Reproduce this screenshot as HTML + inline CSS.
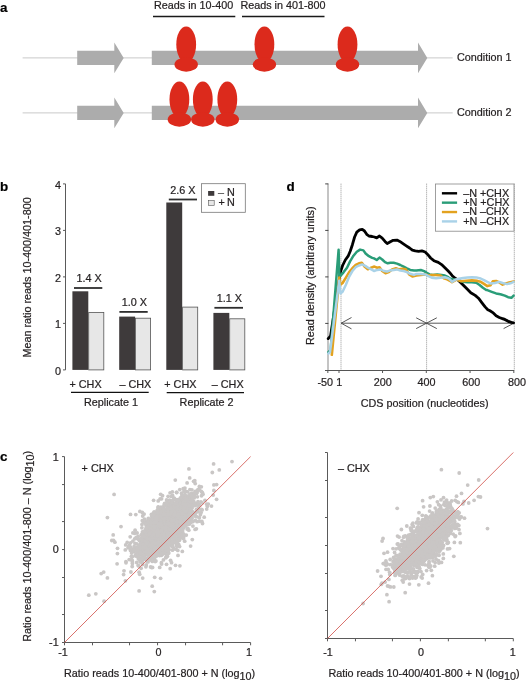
<!DOCTYPE html>
<html><head><meta charset="utf-8"><style>
html,body{margin:0;padding:0;background:#fff;}
svg{display:block;font-family:'Liberation Sans', Arial, sans-serif;}
text{stroke:#231f20;stroke-width:0.22px;paint-order:stroke;}
</style></head><body>
<svg width="526" height="685" viewBox="0 0 526 685">
<rect width="526" height="685" fill="#fff"/>
<text x="0" y="11.7" font-size="13.4" text-anchor="start" font-weight="bold" fill="#000" >a</text>
<line x1="22.6" y1="57.9" x2="78" y2="57.9" stroke="#c9c9c9" stroke-width="1" />
<line x1="123" y1="57.9" x2="152" y2="57.9" stroke="#c9c9c9" stroke-width="1" />
<line x1="426" y1="57.9" x2="452.7" y2="57.9" stroke="#c9c9c9" stroke-width="1" />
<path d="M77.2 50.8H114.3V42.5L123.7 57.9L114.3 73.3V65.0H77.2Z" fill="#acacac"/>
<path d="M151.8 50.8H418V42.5L427.3 57.9L418 73.3V65.0H151.8Z" fill="#acacac"/>
<text x="457" y="61.199999999999996" font-size="10.8" text-anchor="start" font-weight="normal" fill="#231f20" >Condition 1</text>
<ellipse cx="186.2" cy="44.6" rx="9.9" ry="18" fill="#dc2a1c"/>
<ellipse cx="186.2" cy="64.6" rx="11.7" ry="7.1" fill="#dc2a1c"/>
<ellipse cx="264.4" cy="44.6" rx="9.9" ry="18" fill="#dc2a1c"/>
<ellipse cx="264.4" cy="64.6" rx="11.7" ry="7.1" fill="#dc2a1c"/>
<ellipse cx="347.5" cy="44.6" rx="9.9" ry="18" fill="#dc2a1c"/>
<ellipse cx="347.5" cy="64.6" rx="11.7" ry="7.1" fill="#dc2a1c"/>
<line x1="22.6" y1="112.9" x2="78" y2="112.9" stroke="#c9c9c9" stroke-width="1" />
<line x1="123" y1="112.9" x2="152" y2="112.9" stroke="#c9c9c9" stroke-width="1" />
<line x1="426" y1="112.9" x2="452.7" y2="112.9" stroke="#c9c9c9" stroke-width="1" />
<path d="M77.2 105.80000000000001H114.3V97.5L123.7 112.9L114.3 128.3V120.0H77.2Z" fill="#acacac"/>
<path d="M151.8 105.80000000000001H418V97.5L427.3 112.9L418 128.3V120.0H151.8Z" fill="#acacac"/>
<text x="457" y="116.2" font-size="10.8" text-anchor="start" font-weight="normal" fill="#231f20" >Condition 2</text>
<ellipse cx="179.4" cy="99.6" rx="9.9" ry="18" fill="#dc2a1c"/>
<ellipse cx="179.4" cy="119.6" rx="11.7" ry="7.1" fill="#dc2a1c"/>
<ellipse cx="202.8" cy="99.6" rx="9.9" ry="18" fill="#dc2a1c"/>
<ellipse cx="202.8" cy="119.6" rx="11.7" ry="7.1" fill="#dc2a1c"/>
<ellipse cx="227.3" cy="99.6" rx="9.9" ry="18" fill="#dc2a1c"/>
<ellipse cx="227.3" cy="119.6" rx="11.7" ry="7.1" fill="#dc2a1c"/>
<text x="154" y="9.1" font-size="10.8" text-anchor="start" font-weight="normal" fill="#231f20" >Reads in 10-400</text>
<text x="240.4" y="9.1" font-size="10.8" text-anchor="start" font-weight="normal" fill="#231f20" >Reads in 401-800</text>
<line x1="153" y1="16.4" x2="235.3" y2="16.4" stroke="#1a1a1a" stroke-width="1.5" />
<line x1="242" y1="16.4" x2="324.5" y2="16.4" stroke="#1a1a1a" stroke-width="1.5" />
<text x="0" y="190.8" font-size="13.4" text-anchor="start" font-weight="bold" fill="#000" >b</text>
<line x1="65.5" y1="183.89999999999998" x2="65.5" y2="369.9" stroke="#5a5a5a" stroke-width="1" />
<line x1="63" y1="369.9" x2="65.5" y2="369.9" stroke="#5a5a5a" stroke-width="1" />
<text x="61" y="374.59999999999997" font-size="10.8" text-anchor="end" font-weight="normal" fill="#231f20" >0</text>
<line x1="63" y1="323.4" x2="65.5" y2="323.4" stroke="#5a5a5a" stroke-width="1" />
<text x="61" y="328.09999999999997" font-size="10.8" text-anchor="end" font-weight="normal" fill="#231f20" >1</text>
<line x1="63" y1="276.9" x2="65.5" y2="276.9" stroke="#5a5a5a" stroke-width="1" />
<text x="61" y="281.59999999999997" font-size="10.8" text-anchor="end" font-weight="normal" fill="#231f20" >2</text>
<line x1="63" y1="230.39999999999998" x2="65.5" y2="230.39999999999998" stroke="#5a5a5a" stroke-width="1" />
<text x="61" y="235.09999999999997" font-size="10.8" text-anchor="end" font-weight="normal" fill="#231f20" >3</text>
<line x1="63" y1="183.89999999999998" x2="65.5" y2="183.89999999999998" stroke="#5a5a5a" stroke-width="1" />
<text x="61" y="188.59999999999997" font-size="10.8" text-anchor="end" font-weight="normal" fill="#231f20" >4</text>
<rect x="72.4" y="291.3" width="15.9" height="78.6" fill="#3e3a3b"/>
<rect x="88.70000000000002" y="312.4" width="15.1" height="57.5" fill="#e7e7e7" stroke="#555" stroke-width="0.8"/>
<rect x="119.2" y="316.6" width="15.9" height="53.3" fill="#3e3a3b"/>
<rect x="135.5" y="318.2" width="15.1" height="51.7" fill="#e7e7e7" stroke="#555" stroke-width="0.8"/>
<rect x="166.3" y="202.5" width="15.9" height="167.4" fill="#3e3a3b"/>
<rect x="182.60000000000002" y="307.1" width="15.1" height="62.8" fill="#e7e7e7" stroke="#555" stroke-width="0.8"/>
<rect x="213.4" y="312.9" width="15.9" height="57.0" fill="#3e3a3b"/>
<rect x="229.70000000000002" y="318.8" width="15.1" height="51.1" fill="#e7e7e7" stroke="#555" stroke-width="0.8"/>
<line x1="74" y1="288.0" x2="102.3" y2="288.0" stroke="#2e2e2e" stroke-width="1.8" />
<text x="76.6" y="282" font-size="10.8" text-anchor="start" font-weight="normal" fill="#231f20" >1.4 X</text>
<line x1="119.4" y1="311.9" x2="147.7" y2="311.9" stroke="#2e2e2e" stroke-width="1.8" />
<text x="121.8" y="306" font-size="10.8" text-anchor="start" font-weight="normal" fill="#231f20" >1.0 X</text>
<line x1="168.8" y1="199.5" x2="197" y2="199.5" stroke="#2e2e2e" stroke-width="1.8" />
<text x="170.3" y="193.6" font-size="10.8" text-anchor="start" font-weight="normal" fill="#231f20" >2.6 X</text>
<line x1="214.4" y1="307.8" x2="243" y2="307.8" stroke="#2e2e2e" stroke-width="1.8" />
<text x="216.7" y="302" font-size="10.8" text-anchor="start" font-weight="normal" fill="#231f20" >1.1 X</text>
<text x="69.5" y="387.8" font-size="10.8" text-anchor="start" font-weight="normal" fill="#231f20" >+ CHX</text>
<text x="119.4" y="387.8" font-size="10.8" text-anchor="start" font-weight="normal" fill="#231f20" >– CHX</text>
<text x="164.3" y="387.8" font-size="10.8" text-anchor="start" font-weight="normal" fill="#231f20" >+ CHX</text>
<text x="211.8" y="387.8" font-size="10.8" text-anchor="start" font-weight="normal" fill="#231f20" >– CHX</text>
<line x1="71" y1="392.4" x2="148.7" y2="392.4" stroke="#111" stroke-width="1.4" />
<line x1="166.7" y1="392.6" x2="244" y2="392.6" stroke="#111" stroke-width="1.4" />
<text x="84" y="406.4" font-size="10.8" text-anchor="start" font-weight="normal" fill="#231f20" >Replicate 1</text>
<text x="179.6" y="406.4" font-size="10.8" text-anchor="start" font-weight="normal" fill="#231f20" >Replicate 2</text>
<rect x="201.5" y="183.7" width="43.8" height="28.6" fill="#fff" stroke="#777" stroke-width="0.8"/>
<rect x="208.1" y="191" width="6.2" height="4.8" fill="#3e3a3b"/>
<rect x="208.4" y="200.6" width="5.8" height="4.7" fill="#e7e7e7" stroke="#555" stroke-width="0.6"/>
<text x="218" y="195.6" font-size="10.8" text-anchor="start" font-weight="normal" fill="#555" style="stroke:#555">–</text>
<text x="226.9" y="195.6" font-size="10.8" text-anchor="start" font-weight="normal" fill="#231f20" >N</text>
<text x="218.4" y="206.2" font-size="10.8" text-anchor="start" font-weight="normal" fill="#231f20" >+</text>
<text x="226.9" y="206.2" font-size="10.8" text-anchor="start" font-weight="normal" fill="#231f20" >N</text>
<text transform="translate(31,357.6) rotate(-90)" font-size="10.8" fill="#231f20">Mean ratio reads 10-400/401-800</text>
<text x="286.6" y="190.7" font-size="13.4" text-anchor="start" font-weight="bold" fill="#000" >d</text>
<line x1="328" y1="183.7" x2="328" y2="370.5" stroke="#ababab" stroke-width="1.4" />
<line x1="325.2" y1="183.9" x2="328.4" y2="183.9" stroke="#444" stroke-width="1" />
<line x1="325.2" y1="230.4" x2="328.4" y2="230.4" stroke="#444" stroke-width="1" />
<line x1="325.2" y1="276.9" x2="328.4" y2="276.9" stroke="#444" stroke-width="1" />
<line x1="325.2" y1="323.4" x2="328.4" y2="323.4" stroke="#444" stroke-width="1" />
<line x1="325" y1="370.5" x2="514.3" y2="370.5" stroke="#555" stroke-width="1" />
<line x1="327.8412" y1="370.5" x2="327.8412" y2="373" stroke="#555" stroke-width="1" />
<line x1="339.0" y1="370.5" x2="339.0" y2="373" stroke="#555" stroke-width="1" />
<line x1="382.5412" y1="370.5" x2="382.5412" y2="373" stroke="#555" stroke-width="1" />
<line x1="426.3012" y1="370.5" x2="426.3012" y2="373" stroke="#555" stroke-width="1" />
<line x1="470.0612" y1="370.5" x2="470.0612" y2="373" stroke="#555" stroke-width="1" />
<line x1="513.8212" y1="370.5" x2="513.8212" y2="373" stroke="#555" stroke-width="1" />
<text x="325.3" y="386.2" font-size="10.8" text-anchor="middle" font-weight="normal" fill="#231f20" >-50</text>
<text x="339.2" y="386.2" font-size="10.8" text-anchor="middle" font-weight="normal" fill="#231f20" >1</text>
<text x="382.7" y="386.2" font-size="10.8" text-anchor="middle" font-weight="normal" fill="#231f20" >200</text>
<text x="426.6" y="386.2" font-size="10.8" text-anchor="middle" font-weight="normal" fill="#231f20" >400</text>
<text x="471.2" y="386.2" font-size="10.8" text-anchor="middle" font-weight="normal" fill="#231f20" >600</text>
<text x="517" y="386.2" font-size="10.8" text-anchor="middle" font-weight="normal" fill="#231f20" >800</text>
<line x1="341" y1="183.7" x2="341" y2="370" stroke="#8a8a8a" stroke-width="0.9" stroke-dasharray="1 1"/>
<line x1="426.6" y1="183.7" x2="426.6" y2="370" stroke="#8a8a8a" stroke-width="0.9" stroke-dasharray="1 1"/>
<line x1="514.3" y1="183.7" x2="514.3" y2="370" stroke="#8a8a8a" stroke-width="0.9" stroke-dasharray="1 1"/>
<text x="360.7" y="407.2" font-size="10.8" text-anchor="start" font-weight="normal" fill="#231f20" >CDS position (nucleotides)</text>
<text transform="translate(313.6,345) rotate(-90)" font-size="10.8" fill="#231f20">Read density (arbitrary units)</text>
<line x1="341" y1="323.2" x2="513.8" y2="323.2" stroke="#444" stroke-width="0.9" />
<polyline points="351.5,317.5 341.2,323.2 351.5,328.9" fill="none" stroke="#444" stroke-width="0.9"/>
<polyline points="416.2,317.8 426.5,323.2 416.2,328.6" fill="none" stroke="#444" stroke-width="0.9"/>
<polyline points="436.8,317.8 426.5,323.2 436.8,328.6" fill="none" stroke="#444" stroke-width="0.9"/>
<polyline points="503.6,317.8 513.8,323.2 503.6,328.6" fill="none" stroke="#444" stroke-width="0.9"/>
<polyline points="328.2,338.6 330.6,335.8 340.4,272.1 342.6,265.5 345.3,260.0 348.1,256.2 350.2,251.3 352.4,244.7 354.6,237.0 356.8,232.1 359.6,229.9 362.3,229.4 364.5,231.0 366.7,234.3 368.9,236.0 372.2,236.5 374.4,237.0 376.7,237.9 379.5,236.0 382.2,238.1 385.0,241.4 387.2,243.6 389.9,242.0 393.2,240.3 397.0,240.1 399.8,241.4 403.0,243.6 406.3,245.8 409.6,248.0 412.4,250.2 415.3,250.9 418.6,251.4 421.9,250.9 425.2,252.0 427.9,254.7 430.6,258.0 433.9,260.7 438.3,262.4 441.6,264.6 444.9,267.8 448.2,271.1 450.5,273.5 452.2,275.7 455.5,278.5 458.8,280.7 462.1,284.0 466.4,288.3 470.8,292.7 475.2,295.4 478.5,298.2 481.8,302.6 485.1,306.9 487.8,309.7 490.0,310.8 492.8,312.6 496.1,315.8 499.3,317.5 503.7,319.1 508.1,321.3 511.4,322.4 513.6,322.8" fill="none" stroke="#000" stroke-width="2.8" stroke-linejoin="round" stroke-linecap="round" />
<polyline points="328.4,352.2 330.6,350.0 338.6,249.8 339.4,276.5 340.9,275.4 343.7,272.1 347.0,267.7 350.2,261.1 353.5,255.7 356.8,251.8 360.1,249.6 363.4,250.4 365.6,253.5 368.9,256.2 372.2,257.9 374.0,258.4 376.7,260.0 379.5,257.6 382.2,259.5 385.0,262.2 387.7,263.3 390.4,262.8 393.7,262.8 397.0,263.6 400.3,265.0 403.6,266.6 406.9,268.3 410.2,269.9 414.0,270.4 416.4,270.6 420.8,270.0 424.1,271.1 426.8,272.8 429.5,274.4 432.8,275.0 437.2,274.4 441.6,275.0 444.9,275.5 448.2,277.2 450.0,278.5 454.4,279.6 458.8,280.1 463.2,281.8 467.5,282.3 471.9,282.3 476.3,282.8 479.6,285.0 482.9,287.8 486.2,290.0 487.3,290.1 491.7,291.8 496.1,293.4 500.4,294.2 504.8,295.6 508.1,297.2 511.4,297.8 513.6,295.6" fill="none" stroke="#2a9d78" stroke-width="2.5" stroke-linejoin="round" stroke-linecap="round" />
<polyline points="331.8,354.8 339.3,277.5 340.4,284.7 342.6,283.0 345.9,277.6 349.2,272.1 352.4,268.2 355.7,265.0 359.0,263.3 361.8,262.8 364.5,266.6 367.8,269.3 371.1,267.7 374.4,266.6 377.3,267.7 379.5,267.2 382.2,271.0 385.5,273.2 388.8,272.1 392.1,269.4 395.9,268.3 399.2,269.4 402.5,268.8 405.8,269.4 409.1,274.3 412.4,276.5 416.4,275.5 420.8,275.0 425.2,274.4 428.4,275.5 431.7,275.0 436.1,275.0 440.5,275.5 443.8,278.2 447.1,279.3 450.4,281.0 452.0,282.1 456.6,279.6 461.0,281.2 466.4,280.7 471.9,280.4 477.4,280.9 480.7,281.8 484.0,283.9 487.3,286.1 490.6,285.2 492.8,281.4 496.1,281.0 499.3,282.4 502.6,284.6 505.9,283.5 509.2,282.4 513.6,281.4" fill="none" stroke="#e3a21f" stroke-width="2.6" stroke-linejoin="round" stroke-linecap="round" />
<polyline points="328.5,353.5 330.0,352.0 339.2,280.8 340.4,293.4 342.6,291.8 345.9,284.7 349.2,276.5 352.4,271.0 355.7,267.2 359.0,265.5 362.3,264.4 365.6,266.1 368.9,268.2 372.2,269.9 374.0,271.0 377.3,269.9 380.6,269.4 383.9,271.0 387.2,271.5 390.4,270.4 393.7,269.9 397.0,269.4 400.3,270.5 403.6,271.0 406.9,272.1 410.2,273.8 414.0,274.9 416.4,273.9 420.8,273.9 425.2,274.4 428.4,276.1 431.7,277.7 436.1,278.2 440.5,277.7 444.9,277.2 448.2,278.2 450.0,279.6 452.2,281.8 455.5,279.6 458.8,278.7 463.2,277.9 467.5,277.4 471.9,277.2 476.3,277.4 480.7,278.5 484.0,280.1 487.3,281.8 490.6,283.5 495.0,283.0 499.3,281.9 502.6,283.0 507.0,284.1 511.4,283.0 513.6,281.9" fill="none" stroke="#a9d2e8" stroke-width="2.5" stroke-linejoin="round" stroke-linecap="round" />
<rect x="435.4" y="184" width="78.6" height="47.2" fill="#fff" stroke="#888" stroke-width="0.8"/>
<line x1="441.9" y1="193.3" x2="457.1" y2="193.3" stroke="#000" stroke-width="2.4" />
<text x="463.2" y="196.5" font-size="10.8" text-anchor="start" font-weight="normal" fill="#231f20" >–N +CHX</text>
<line x1="441.9" y1="202.67000000000002" x2="457.1" y2="202.67000000000002" stroke="#2a9d78" stroke-width="2.4" />
<text x="463.2" y="205.87" font-size="10.8" text-anchor="start" font-weight="normal" fill="#231f20" >+N +CHX</text>
<line x1="441.9" y1="212.04000000000002" x2="457.1" y2="212.04000000000002" stroke="#e3a21f" stroke-width="2.4" />
<text x="463.2" y="215.24" font-size="10.8" text-anchor="start" font-weight="normal" fill="#231f20" >–N –CHX</text>
<line x1="441.9" y1="221.41000000000003" x2="457.1" y2="221.41000000000003" stroke="#a9d2e8" stroke-width="2.4" />
<text x="463.2" y="224.61" font-size="10.8" text-anchor="start" font-weight="normal" fill="#231f20" >+N –CHX</text>
<text x="0" y="460.8" font-size="13.4" text-anchor="start" font-weight="bold" fill="#000" >c</text>
<line x1="64.5" y1="456.6" x2="64.5" y2="642.5" stroke="#5a5a5a" stroke-width="1" />
<line x1="62.0" y1="642.5" x2="250.6" y2="642.5" stroke="#5a5a5a" stroke-width="1" />
<line x1="62.0" y1="642.5" x2="64.5" y2="642.5" stroke="#5a5a5a" stroke-width="1" />
<line x1="64.5" y1="642.5" x2="64.5" y2="645.3" stroke="#5a5a5a" stroke-width="1" />
<line x1="62.0" y1="614.52205" x2="64.5" y2="614.52205" stroke="#5a5a5a" stroke-width="1" />
<line x1="92.50805" y1="642.5" x2="92.50805" y2="645.3" stroke="#5a5a5a" stroke-width="1" />
<line x1="62.0" y1="577.52795" x2="64.5" y2="577.52795" stroke="#5a5a5a" stroke-width="1" />
<line x1="129.54194999999999" y1="642.5" x2="129.54194999999999" y2="645.3" stroke="#5a5a5a" stroke-width="1" />
<line x1="62.0" y1="549.55" x2="64.5" y2="549.55" stroke="#5a5a5a" stroke-width="1" />
<line x1="157.55" y1="642.5" x2="157.55" y2="645.3" stroke="#5a5a5a" stroke-width="1" />
<line x1="62.0" y1="521.57205" x2="64.5" y2="521.57205" stroke="#5a5a5a" stroke-width="1" />
<line x1="185.55804999999998" y1="642.5" x2="185.55804999999998" y2="645.3" stroke="#5a5a5a" stroke-width="1" />
<line x1="62.0" y1="484.57795" x2="64.5" y2="484.57795" stroke="#5a5a5a" stroke-width="1" />
<line x1="222.59194999999997" y1="642.5" x2="222.59194999999997" y2="645.3" stroke="#5a5a5a" stroke-width="1" />
<line x1="62.0" y1="456.6" x2="64.5" y2="456.6" stroke="#5a5a5a" stroke-width="1" />
<line x1="250.6" y1="642.5" x2="250.6" y2="645.3" stroke="#5a5a5a" stroke-width="1" />
<text x="58.7" y="461.4" font-size="10.8" text-anchor="end" font-weight="normal" fill="#231f20" >1</text>
<text x="58.7" y="553.15" font-size="10.8" text-anchor="end" font-weight="normal" fill="#231f20" >0</text>
<text x="58.7" y="646.1" font-size="10.8" text-anchor="end" font-weight="normal" fill="#231f20" >-1</text>
<text x="63.0" y="656.4" font-size="10.8" text-anchor="middle" font-weight="normal" fill="#231f20" >-1</text>
<text x="158.45" y="656.4" font-size="10.8" text-anchor="middle" font-weight="normal" fill="#231f20" >0</text>
<text x="249.0" y="656.4" font-size="10.8" text-anchor="middle" font-weight="normal" fill="#231f20" >1</text>
<text x="81.6" y="472.4" font-size="10.8" text-anchor="start" font-weight="normal" fill="#231f20" >+ CHX</text>
<g fill="#c9c6c5"><circle cx="172.5" cy="533.1" r="1.9"/><circle cx="165.6" cy="519.4" r="1.9"/><circle cx="163.8" cy="532.2" r="1.9"/><circle cx="152.7" cy="537.6" r="1.9"/><circle cx="162.6" cy="535.6" r="1.9"/><circle cx="151.8" cy="539.4" r="1.9"/><circle cx="170.8" cy="530.2" r="1.9"/><circle cx="182.8" cy="508.9" r="1.9"/><circle cx="156.6" cy="531.1" r="1.9"/><circle cx="157.9" cy="535.6" r="1.9"/><circle cx="174.6" cy="522.8" r="1.9"/><circle cx="176.4" cy="527.8" r="1.9"/><circle cx="166.3" cy="525.0" r="1.9"/><circle cx="152.4" cy="538.3" r="1.9"/><circle cx="167.0" cy="528.9" r="1.9"/><circle cx="178.9" cy="521.5" r="1.9"/><circle cx="146.1" cy="543.0" r="1.9"/><circle cx="146.5" cy="521.1" r="1.9"/><circle cx="143.8" cy="554.9" r="1.9"/><circle cx="147.9" cy="543.3" r="1.9"/><circle cx="140.8" cy="550.7" r="1.9"/><circle cx="177.1" cy="543.3" r="1.9"/><circle cx="149.4" cy="544.1" r="1.9"/><circle cx="173.2" cy="527.0" r="1.9"/><circle cx="160.3" cy="518.2" r="1.9"/><circle cx="165.0" cy="531.1" r="1.9"/><circle cx="138.7" cy="565.8" r="1.9"/><circle cx="160.4" cy="535.7" r="1.9"/><circle cx="164.4" cy="527.1" r="1.9"/><circle cx="170.4" cy="528.5" r="1.9"/><circle cx="147.1" cy="548.6" r="1.9"/><circle cx="167.4" cy="540.6" r="1.9"/><circle cx="154.9" cy="541.8" r="1.9"/><circle cx="151.5" cy="534.5" r="1.9"/><circle cx="168.4" cy="502.8" r="1.9"/><circle cx="151.9" cy="534.8" r="1.9"/><circle cx="164.0" cy="526.3" r="1.9"/><circle cx="170.5" cy="509.2" r="1.9"/><circle cx="153.0" cy="530.2" r="1.9"/><circle cx="155.4" cy="520.5" r="1.9"/><circle cx="161.3" cy="520.3" r="1.9"/><circle cx="167.4" cy="527.0" r="1.9"/><circle cx="149.2" cy="542.8" r="1.9"/><circle cx="165.9" cy="525.3" r="1.9"/><circle cx="181.3" cy="507.0" r="1.9"/><circle cx="145.5" cy="547.5" r="1.9"/><circle cx="181.0" cy="519.3" r="1.9"/><circle cx="179.0" cy="536.1" r="1.9"/><circle cx="161.6" cy="539.4" r="1.9"/><circle cx="202.1" cy="509.9" r="1.9"/><circle cx="175.1" cy="516.4" r="1.9"/><circle cx="150.9" cy="543.7" r="1.9"/><circle cx="176.1" cy="534.6" r="1.9"/><circle cx="169.4" cy="515.9" r="1.9"/><circle cx="158.8" cy="525.5" r="1.9"/><circle cx="173.9" cy="517.4" r="1.9"/><circle cx="155.9" cy="519.8" r="1.9"/><circle cx="164.0" cy="508.7" r="1.9"/><circle cx="190.6" cy="513.5" r="1.9"/><circle cx="151.8" cy="531.4" r="1.9"/><circle cx="166.0" cy="522.2" r="1.9"/><circle cx="157.8" cy="531.5" r="1.9"/><circle cx="162.4" cy="520.8" r="1.9"/><circle cx="155.0" cy="547.2" r="1.9"/><circle cx="161.9" cy="538.2" r="1.9"/><circle cx="168.0" cy="534.1" r="1.9"/><circle cx="181.3" cy="518.7" r="1.9"/><circle cx="180.8" cy="512.0" r="1.9"/><circle cx="157.4" cy="552.7" r="1.9"/><circle cx="161.7" cy="543.4" r="1.9"/><circle cx="170.8" cy="515.5" r="1.9"/><circle cx="141.4" cy="555.0" r="1.9"/><circle cx="158.0" cy="531.7" r="1.9"/><circle cx="175.1" cy="538.0" r="1.9"/><circle cx="186.0" cy="513.9" r="1.9"/><circle cx="177.6" cy="520.5" r="1.9"/><circle cx="161.6" cy="531.6" r="1.9"/><circle cx="164.5" cy="535.2" r="1.9"/><circle cx="157.7" cy="526.0" r="1.9"/><circle cx="185.3" cy="506.6" r="1.9"/><circle cx="160.5" cy="533.0" r="1.9"/><circle cx="162.0" cy="531.4" r="1.9"/><circle cx="166.4" cy="518.9" r="1.9"/><circle cx="167.0" cy="531.3" r="1.9"/><circle cx="157.3" cy="524.3" r="1.9"/><circle cx="149.4" cy="540.3" r="1.9"/><circle cx="164.9" cy="526.6" r="1.9"/><circle cx="160.1" cy="533.1" r="1.9"/><circle cx="177.7" cy="508.6" r="1.9"/><circle cx="168.5" cy="513.2" r="1.9"/><circle cx="160.4" cy="522.8" r="1.9"/><circle cx="172.2" cy="516.2" r="1.9"/><circle cx="156.8" cy="527.5" r="1.9"/><circle cx="178.4" cy="512.2" r="1.9"/><circle cx="159.0" cy="521.1" r="1.9"/><circle cx="173.4" cy="519.4" r="1.9"/><circle cx="161.2" cy="555.4" r="1.9"/><circle cx="162.9" cy="515.8" r="1.9"/><circle cx="144.2" cy="549.9" r="1.9"/><circle cx="146.9" cy="561.1" r="1.9"/><circle cx="163.2" cy="532.4" r="1.9"/><circle cx="159.5" cy="544.0" r="1.9"/><circle cx="156.4" cy="514.5" r="1.9"/><circle cx="191.3" cy="493.9" r="1.9"/><circle cx="164.2" cy="546.5" r="1.9"/><circle cx="155.1" cy="533.1" r="1.9"/><circle cx="170.7" cy="526.4" r="1.9"/><circle cx="161.5" cy="510.9" r="1.9"/><circle cx="169.5" cy="534.9" r="1.9"/><circle cx="175.7" cy="541.3" r="1.9"/><circle cx="174.4" cy="517.2" r="1.9"/><circle cx="174.3" cy="521.8" r="1.9"/><circle cx="155.3" cy="543.5" r="1.9"/><circle cx="176.7" cy="539.0" r="1.9"/><circle cx="164.0" cy="524.6" r="1.9"/><circle cx="143.5" cy="533.4" r="1.9"/><circle cx="179.7" cy="533.2" r="1.9"/><circle cx="148.7" cy="533.2" r="1.9"/><circle cx="181.2" cy="516.7" r="1.9"/><circle cx="155.4" cy="512.8" r="1.9"/><circle cx="164.6" cy="523.8" r="1.9"/><circle cx="159.6" cy="536.3" r="1.9"/><circle cx="158.4" cy="523.3" r="1.9"/><circle cx="138.0" cy="552.1" r="1.9"/><circle cx="155.0" cy="545.8" r="1.9"/><circle cx="166.6" cy="518.7" r="1.9"/><circle cx="142.1" cy="559.1" r="1.9"/><circle cx="186.4" cy="524.5" r="1.9"/><circle cx="132.9" cy="541.1" r="1.9"/><circle cx="177.3" cy="518.6" r="1.9"/><circle cx="158.7" cy="541.9" r="1.9"/><circle cx="173.8" cy="514.8" r="1.9"/><circle cx="176.2" cy="533.2" r="1.9"/><circle cx="154.1" cy="555.2" r="1.9"/><circle cx="184.3" cy="512.6" r="1.9"/><circle cx="186.8" cy="510.0" r="1.9"/><circle cx="164.7" cy="527.8" r="1.9"/><circle cx="156.3" cy="525.4" r="1.9"/><circle cx="166.5" cy="531.8" r="1.9"/><circle cx="151.0" cy="538.2" r="1.9"/><circle cx="176.4" cy="509.1" r="1.9"/><circle cx="165.1" cy="540.1" r="1.9"/><circle cx="164.0" cy="526.8" r="1.9"/><circle cx="161.2" cy="542.9" r="1.9"/><circle cx="152.2" cy="530.5" r="1.9"/><circle cx="147.4" cy="542.5" r="1.9"/><circle cx="181.6" cy="509.9" r="1.9"/><circle cx="171.4" cy="536.1" r="1.9"/><circle cx="177.4" cy="513.4" r="1.9"/><circle cx="170.3" cy="530.9" r="1.9"/><circle cx="153.3" cy="533.3" r="1.9"/><circle cx="162.5" cy="532.3" r="1.9"/><circle cx="163.4" cy="539.0" r="1.9"/><circle cx="160.9" cy="522.5" r="1.9"/><circle cx="157.3" cy="528.8" r="1.9"/><circle cx="165.4" cy="534.3" r="1.9"/><circle cx="142.3" cy="540.4" r="1.9"/><circle cx="157.5" cy="539.8" r="1.9"/><circle cx="188.3" cy="506.0" r="1.9"/><circle cx="156.8" cy="535.9" r="1.9"/><circle cx="156.9" cy="545.5" r="1.9"/><circle cx="172.6" cy="524.8" r="1.9"/><circle cx="184.4" cy="508.7" r="1.9"/><circle cx="139.3" cy="539.6" r="1.9"/><circle cx="155.1" cy="522.6" r="1.9"/><circle cx="159.4" cy="537.2" r="1.9"/><circle cx="135.0" cy="543.4" r="1.9"/><circle cx="175.4" cy="517.3" r="1.9"/><circle cx="163.5" cy="525.7" r="1.9"/><circle cx="162.0" cy="521.8" r="1.9"/><circle cx="154.9" cy="536.1" r="1.9"/><circle cx="158.3" cy="508.9" r="1.9"/><circle cx="157.8" cy="533.4" r="1.9"/><circle cx="170.7" cy="535.2" r="1.9"/><circle cx="144.9" cy="536.0" r="1.9"/><circle cx="153.0" cy="546.0" r="1.9"/><circle cx="184.3" cy="510.4" r="1.9"/><circle cx="176.1" cy="549.2" r="1.9"/><circle cx="164.1" cy="518.2" r="1.9"/><circle cx="161.0" cy="523.6" r="1.9"/><circle cx="156.0" cy="529.3" r="1.9"/><circle cx="154.2" cy="529.3" r="1.9"/><circle cx="164.5" cy="510.1" r="1.9"/><circle cx="162.4" cy="531.6" r="1.9"/><circle cx="158.9" cy="524.6" r="1.9"/><circle cx="170.3" cy="530.7" r="1.9"/><circle cx="182.6" cy="512.8" r="1.9"/><circle cx="168.6" cy="512.6" r="1.9"/><circle cx="168.6" cy="520.0" r="1.9"/><circle cx="166.2" cy="541.7" r="1.9"/><circle cx="146.6" cy="544.4" r="1.9"/><circle cx="178.8" cy="515.1" r="1.9"/><circle cx="182.5" cy="518.0" r="1.9"/><circle cx="161.8" cy="527.0" r="1.9"/><circle cx="174.9" cy="521.8" r="1.9"/><circle cx="184.4" cy="524.3" r="1.9"/><circle cx="182.5" cy="521.4" r="1.9"/><circle cx="167.7" cy="505.7" r="1.9"/><circle cx="168.6" cy="541.1" r="1.9"/><circle cx="183.7" cy="505.3" r="1.9"/><circle cx="147.0" cy="541.3" r="1.9"/><circle cx="173.2" cy="512.2" r="1.9"/><circle cx="178.9" cy="526.6" r="1.9"/><circle cx="178.6" cy="516.8" r="1.9"/><circle cx="188.7" cy="500.7" r="1.9"/><circle cx="180.1" cy="502.8" r="1.9"/><circle cx="155.1" cy="546.2" r="1.9"/><circle cx="151.2" cy="556.3" r="1.9"/><circle cx="170.6" cy="511.0" r="1.9"/><circle cx="147.1" cy="535.7" r="1.9"/><circle cx="163.7" cy="525.6" r="1.9"/><circle cx="179.8" cy="518.7" r="1.9"/><circle cx="143.1" cy="547.8" r="1.9"/><circle cx="138.9" cy="555.7" r="1.9"/><circle cx="164.6" cy="519.5" r="1.9"/><circle cx="173.4" cy="532.9" r="1.9"/><circle cx="162.2" cy="530.0" r="1.9"/><circle cx="167.3" cy="527.5" r="1.9"/><circle cx="161.3" cy="544.6" r="1.9"/><circle cx="145.8" cy="547.0" r="1.9"/><circle cx="163.6" cy="529.4" r="1.9"/><circle cx="156.0" cy="542.7" r="1.9"/><circle cx="143.2" cy="547.9" r="1.9"/><circle cx="180.1" cy="527.4" r="1.9"/><circle cx="165.5" cy="528.4" r="1.9"/><circle cx="168.6" cy="519.5" r="1.9"/><circle cx="152.0" cy="539.4" r="1.9"/><circle cx="151.8" cy="530.9" r="1.9"/><circle cx="160.0" cy="547.0" r="1.9"/><circle cx="163.1" cy="547.0" r="1.9"/><circle cx="167.1" cy="523.4" r="1.9"/><circle cx="153.6" cy="535.7" r="1.9"/><circle cx="158.7" cy="511.7" r="1.9"/><circle cx="166.8" cy="519.5" r="1.9"/><circle cx="196.1" cy="503.8" r="1.9"/><circle cx="144.0" cy="542.4" r="1.9"/><circle cx="181.7" cy="519.3" r="1.9"/><circle cx="173.0" cy="535.9" r="1.9"/><circle cx="151.4" cy="514.4" r="1.9"/><circle cx="146.0" cy="545.6" r="1.9"/><circle cx="156.2" cy="530.0" r="1.9"/><circle cx="172.1" cy="514.2" r="1.9"/><circle cx="154.9" cy="519.3" r="1.9"/><circle cx="165.4" cy="524.7" r="1.9"/><circle cx="155.6" cy="525.2" r="1.9"/><circle cx="186.0" cy="516.5" r="1.9"/><circle cx="173.3" cy="534.5" r="1.9"/><circle cx="130.5" cy="550.4" r="1.9"/><circle cx="149.1" cy="529.4" r="1.9"/><circle cx="138.5" cy="551.8" r="1.9"/><circle cx="124.0" cy="570.8" r="1.9"/><circle cx="158.4" cy="533.7" r="1.9"/><circle cx="186.4" cy="512.3" r="1.9"/><circle cx="158.0" cy="518.9" r="1.9"/><circle cx="147.6" cy="540.1" r="1.9"/><circle cx="151.4" cy="537.7" r="1.9"/><circle cx="178.0" cy="509.8" r="1.9"/><circle cx="162.1" cy="519.8" r="1.9"/><circle cx="163.7" cy="524.1" r="1.9"/><circle cx="161.1" cy="524.2" r="1.9"/><circle cx="172.8" cy="532.6" r="1.9"/><circle cx="173.2" cy="513.6" r="1.9"/><circle cx="160.8" cy="508.7" r="1.9"/><circle cx="171.5" cy="526.9" r="1.9"/><circle cx="153.6" cy="542.2" r="1.9"/><circle cx="167.4" cy="515.7" r="1.9"/><circle cx="152.1" cy="531.9" r="1.9"/><circle cx="176.2" cy="509.1" r="1.9"/><circle cx="158.9" cy="552.8" r="1.9"/><circle cx="161.4" cy="526.6" r="1.9"/><circle cx="172.4" cy="533.3" r="1.9"/><circle cx="153.9" cy="549.6" r="1.9"/><circle cx="184.5" cy="500.8" r="1.9"/><circle cx="185.8" cy="508.6" r="1.9"/><circle cx="155.7" cy="529.6" r="1.9"/><circle cx="158.2" cy="500.9" r="1.9"/><circle cx="166.4" cy="518.1" r="1.9"/><circle cx="129.2" cy="559.6" r="1.9"/><circle cx="174.0" cy="528.3" r="1.9"/><circle cx="168.7" cy="531.3" r="1.9"/><circle cx="172.8" cy="531.4" r="1.9"/><circle cx="155.4" cy="544.7" r="1.9"/><circle cx="168.6" cy="536.4" r="1.9"/><circle cx="167.3" cy="533.0" r="1.9"/><circle cx="181.9" cy="511.9" r="1.9"/><circle cx="175.6" cy="527.6" r="1.9"/><circle cx="173.7" cy="534.4" r="1.9"/><circle cx="192.6" cy="513.0" r="1.9"/><circle cx="156.5" cy="532.6" r="1.9"/><circle cx="160.7" cy="532.3" r="1.9"/><circle cx="137.5" cy="547.1" r="1.9"/><circle cx="179.8" cy="500.4" r="1.9"/><circle cx="179.9" cy="515.7" r="1.9"/><circle cx="173.7" cy="511.3" r="1.9"/><circle cx="182.2" cy="525.2" r="1.9"/><circle cx="154.7" cy="514.3" r="1.9"/><circle cx="162.0" cy="518.3" r="1.9"/><circle cx="164.0" cy="531.8" r="1.9"/><circle cx="169.8" cy="535.9" r="1.9"/><circle cx="164.5" cy="524.6" r="1.9"/><circle cx="195.2" cy="515.8" r="1.9"/><circle cx="177.2" cy="523.5" r="1.9"/><circle cx="161.1" cy="524.3" r="1.9"/><circle cx="158.3" cy="534.8" r="1.9"/><circle cx="160.7" cy="538.4" r="1.9"/><circle cx="180.8" cy="500.4" r="1.9"/><circle cx="178.0" cy="525.5" r="1.9"/><circle cx="165.2" cy="524.9" r="1.9"/><circle cx="164.3" cy="534.5" r="1.9"/><circle cx="156.7" cy="546.7" r="1.9"/><circle cx="162.5" cy="525.8" r="1.9"/><circle cx="182.3" cy="520.2" r="1.9"/><circle cx="150.5" cy="523.1" r="1.9"/><circle cx="166.3" cy="533.3" r="1.9"/><circle cx="152.2" cy="520.3" r="1.9"/><circle cx="173.3" cy="531.2" r="1.9"/><circle cx="142.6" cy="546.1" r="1.9"/><circle cx="169.6" cy="536.5" r="1.9"/><circle cx="162.6" cy="545.7" r="1.9"/><circle cx="176.1" cy="514.3" r="1.9"/><circle cx="152.5" cy="534.5" r="1.9"/><circle cx="180.2" cy="525.7" r="1.9"/><circle cx="178.5" cy="500.3" r="1.9"/><circle cx="166.4" cy="535.5" r="1.9"/><circle cx="157.7" cy="534.9" r="1.9"/><circle cx="166.2" cy="522.7" r="1.9"/><circle cx="162.6" cy="524.3" r="1.9"/><circle cx="163.4" cy="549.9" r="1.9"/><circle cx="162.8" cy="512.8" r="1.9"/><circle cx="188.1" cy="496.7" r="1.9"/><circle cx="165.0" cy="532.9" r="1.9"/><circle cx="169.0" cy="535.2" r="1.9"/><circle cx="162.2" cy="550.1" r="1.9"/><circle cx="177.4" cy="529.7" r="1.9"/><circle cx="147.3" cy="541.7" r="1.9"/><circle cx="153.9" cy="544.2" r="1.9"/><circle cx="188.2" cy="515.3" r="1.9"/><circle cx="157.5" cy="542.3" r="1.9"/><circle cx="170.8" cy="504.5" r="1.9"/><circle cx="186.8" cy="507.9" r="1.9"/><circle cx="172.4" cy="526.6" r="1.9"/><circle cx="165.4" cy="512.9" r="1.9"/><circle cx="187.8" cy="498.1" r="1.9"/><circle cx="163.2" cy="529.7" r="1.9"/><circle cx="161.8" cy="538.4" r="1.9"/><circle cx="157.5" cy="553.6" r="1.9"/><circle cx="172.9" cy="532.5" r="1.9"/><circle cx="187.1" cy="509.3" r="1.9"/><circle cx="179.1" cy="515.1" r="1.9"/><circle cx="152.2" cy="538.4" r="1.9"/><circle cx="152.2" cy="536.2" r="1.9"/><circle cx="158.4" cy="533.1" r="1.9"/><circle cx="168.4" cy="522.1" r="1.9"/><circle cx="168.9" cy="535.1" r="1.9"/><circle cx="180.5" cy="535.1" r="1.9"/><circle cx="172.5" cy="525.8" r="1.9"/><circle cx="167.4" cy="536.1" r="1.9"/><circle cx="169.0" cy="531.1" r="1.9"/><circle cx="170.0" cy="525.8" r="1.9"/><circle cx="171.7" cy="534.6" r="1.9"/><circle cx="178.3" cy="525.9" r="1.9"/><circle cx="189.9" cy="502.0" r="1.9"/><circle cx="172.7" cy="518.5" r="1.9"/><circle cx="170.2" cy="529.8" r="1.9"/><circle cx="142.1" cy="547.9" r="1.9"/><circle cx="172.0" cy="523.0" r="1.9"/><circle cx="147.2" cy="559.1" r="1.9"/><circle cx="148.1" cy="546.4" r="1.9"/><circle cx="166.3" cy="506.1" r="1.9"/><circle cx="178.5" cy="520.9" r="1.9"/><circle cx="157.6" cy="523.5" r="1.9"/><circle cx="136.9" cy="543.9" r="1.9"/><circle cx="153.0" cy="524.9" r="1.9"/><circle cx="162.0" cy="540.7" r="1.9"/><circle cx="162.8" cy="508.4" r="1.9"/><circle cx="193.5" cy="495.6" r="1.9"/><circle cx="170.0" cy="525.5" r="1.9"/><circle cx="157.4" cy="539.1" r="1.9"/><circle cx="148.0" cy="540.3" r="1.9"/><circle cx="164.9" cy="527.8" r="1.9"/><circle cx="164.7" cy="530.6" r="1.9"/><circle cx="144.4" cy="536.7" r="1.9"/><circle cx="171.4" cy="529.3" r="1.9"/><circle cx="157.3" cy="548.3" r="1.9"/><circle cx="175.5" cy="508.0" r="1.9"/><circle cx="175.4" cy="509.1" r="1.9"/><circle cx="173.5" cy="506.8" r="1.9"/><circle cx="165.9" cy="539.1" r="1.9"/><circle cx="166.4" cy="514.8" r="1.9"/><circle cx="161.6" cy="526.6" r="1.9"/><circle cx="151.3" cy="523.8" r="1.9"/><circle cx="168.6" cy="538.2" r="1.9"/><circle cx="148.5" cy="544.0" r="1.9"/><circle cx="149.4" cy="548.5" r="1.9"/><circle cx="184.6" cy="524.3" r="1.9"/><circle cx="167.5" cy="533.4" r="1.9"/><circle cx="162.4" cy="518.6" r="1.9"/><circle cx="181.0" cy="515.8" r="1.9"/><circle cx="148.2" cy="554.7" r="1.9"/><circle cx="151.3" cy="533.7" r="1.9"/><circle cx="162.7" cy="519.9" r="1.9"/><circle cx="165.4" cy="516.9" r="1.9"/><circle cx="165.6" cy="536.4" r="1.9"/><circle cx="179.1" cy="513.4" r="1.9"/><circle cx="162.9" cy="519.2" r="1.9"/><circle cx="154.3" cy="547.2" r="1.9"/><circle cx="158.4" cy="543.8" r="1.9"/><circle cx="171.4" cy="512.0" r="1.9"/><circle cx="163.1" cy="513.0" r="1.9"/><circle cx="148.5" cy="559.1" r="1.9"/><circle cx="197.1" cy="521.7" r="1.9"/><circle cx="181.4" cy="526.3" r="1.9"/><circle cx="188.3" cy="513.8" r="1.9"/><circle cx="161.9" cy="533.2" r="1.9"/><circle cx="158.8" cy="528.2" r="1.9"/><circle cx="152.6" cy="543.5" r="1.9"/><circle cx="201.5" cy="495.8" r="1.9"/><circle cx="162.9" cy="528.9" r="1.9"/><circle cx="191.1" cy="510.2" r="1.9"/><circle cx="158.1" cy="536.4" r="1.9"/><circle cx="171.5" cy="528.2" r="1.9"/><circle cx="130.2" cy="536.8" r="1.9"/><circle cx="156.6" cy="528.4" r="1.9"/><circle cx="182.8" cy="517.9" r="1.9"/><circle cx="155.7" cy="549.4" r="1.9"/><circle cx="181.8" cy="514.7" r="1.9"/><circle cx="179.2" cy="530.8" r="1.9"/><circle cx="156.9" cy="545.3" r="1.9"/><circle cx="163.7" cy="537.8" r="1.9"/><circle cx="155.3" cy="529.1" r="1.9"/><circle cx="167.7" cy="530.1" r="1.9"/><circle cx="163.6" cy="538.6" r="1.9"/><circle cx="163.0" cy="545.3" r="1.9"/><circle cx="168.6" cy="537.3" r="1.9"/><circle cx="153.4" cy="541.7" r="1.9"/><circle cx="151.0" cy="546.1" r="1.9"/><circle cx="159.1" cy="522.2" r="1.9"/><circle cx="180.4" cy="518.2" r="1.9"/><circle cx="140.9" cy="543.0" r="1.9"/><circle cx="164.6" cy="525.9" r="1.9"/><circle cx="157.8" cy="536.2" r="1.9"/><circle cx="164.8" cy="550.7" r="1.9"/><circle cx="183.7" cy="522.0" r="1.9"/><circle cx="155.4" cy="530.7" r="1.9"/><circle cx="177.0" cy="499.6" r="1.9"/><circle cx="155.0" cy="536.9" r="1.9"/><circle cx="166.6" cy="518.1" r="1.9"/><circle cx="165.3" cy="532.4" r="1.9"/><circle cx="158.5" cy="539.5" r="1.9"/><circle cx="176.9" cy="522.5" r="1.9"/><circle cx="158.6" cy="524.5" r="1.9"/><circle cx="171.6" cy="517.2" r="1.9"/><circle cx="166.6" cy="529.1" r="1.9"/><circle cx="154.1" cy="543.8" r="1.9"/><circle cx="161.6" cy="525.9" r="1.9"/><circle cx="164.8" cy="524.9" r="1.9"/><circle cx="182.5" cy="518.2" r="1.9"/><circle cx="145.1" cy="531.1" r="1.9"/><circle cx="164.0" cy="526.5" r="1.9"/><circle cx="144.3" cy="550.9" r="1.9"/><circle cx="165.9" cy="510.9" r="1.9"/><circle cx="146.7" cy="537.0" r="1.9"/><circle cx="143.8" cy="552.5" r="1.9"/><circle cx="162.2" cy="525.4" r="1.9"/><circle cx="185.7" cy="517.4" r="1.9"/><circle cx="150.4" cy="551.4" r="1.9"/><circle cx="164.8" cy="553.5" r="1.9"/><circle cx="149.9" cy="531.4" r="1.9"/><circle cx="162.2" cy="552.3" r="1.9"/><circle cx="166.9" cy="518.6" r="1.9"/><circle cx="160.4" cy="542.5" r="1.9"/><circle cx="162.3" cy="542.1" r="1.9"/><circle cx="174.3" cy="520.2" r="1.9"/><circle cx="155.0" cy="536.3" r="1.9"/><circle cx="168.0" cy="518.2" r="1.9"/><circle cx="144.0" cy="531.7" r="1.9"/><circle cx="148.8" cy="542.1" r="1.9"/><circle cx="138.1" cy="548.1" r="1.9"/><circle cx="192.5" cy="504.6" r="1.9"/><circle cx="158.0" cy="528.1" r="1.9"/><circle cx="168.1" cy="523.1" r="1.9"/><circle cx="168.1" cy="530.0" r="1.9"/><circle cx="168.5" cy="525.5" r="1.9"/><circle cx="166.9" cy="526.9" r="1.9"/><circle cx="188.8" cy="500.0" r="1.9"/><circle cx="150.7" cy="539.5" r="1.9"/><circle cx="149.2" cy="551.2" r="1.9"/><circle cx="157.3" cy="544.9" r="1.9"/><circle cx="145.1" cy="541.9" r="1.9"/><circle cx="184.6" cy="525.5" r="1.9"/><circle cx="179.6" cy="519.0" r="1.9"/><circle cx="145.3" cy="532.7" r="1.9"/><circle cx="163.4" cy="559.9" r="1.9"/><circle cx="165.3" cy="535.6" r="1.9"/><circle cx="179.6" cy="504.7" r="1.9"/><circle cx="139.7" cy="574.3" r="1.9"/><circle cx="158.2" cy="507.0" r="1.9"/><circle cx="166.7" cy="555.0" r="1.9"/><circle cx="171.0" cy="505.7" r="1.9"/><circle cx="143.9" cy="534.3" r="1.9"/><circle cx="157.3" cy="526.6" r="1.9"/><circle cx="148.3" cy="549.1" r="1.9"/><circle cx="151.7" cy="538.9" r="1.9"/><circle cx="188.2" cy="512.7" r="1.9"/><circle cx="171.7" cy="511.9" r="1.9"/><circle cx="167.1" cy="538.4" r="1.9"/><circle cx="156.5" cy="540.6" r="1.9"/><circle cx="136.7" cy="548.3" r="1.9"/><circle cx="167.1" cy="538.2" r="1.9"/><circle cx="167.5" cy="529.5" r="1.9"/><circle cx="164.0" cy="527.6" r="1.9"/><circle cx="172.1" cy="535.2" r="1.9"/><circle cx="145.5" cy="536.8" r="1.9"/><circle cx="163.2" cy="526.4" r="1.9"/><circle cx="173.8" cy="535.4" r="1.9"/><circle cx="182.3" cy="509.7" r="1.9"/><circle cx="193.6" cy="505.4" r="1.9"/><circle cx="167.8" cy="532.4" r="1.9"/><circle cx="155.9" cy="537.4" r="1.9"/><circle cx="169.0" cy="531.7" r="1.9"/><circle cx="153.0" cy="530.8" r="1.9"/><circle cx="160.5" cy="541.0" r="1.9"/><circle cx="159.8" cy="523.1" r="1.9"/><circle cx="153.1" cy="541.8" r="1.9"/><circle cx="168.8" cy="514.6" r="1.9"/><circle cx="167.6" cy="531.4" r="1.9"/><circle cx="171.8" cy="526.3" r="1.9"/><circle cx="170.0" cy="535.5" r="1.9"/><circle cx="153.6" cy="534.4" r="1.9"/><circle cx="148.9" cy="535.6" r="1.9"/><circle cx="151.3" cy="519.9" r="1.9"/><circle cx="151.9" cy="528.3" r="1.9"/><circle cx="167.5" cy="522.8" r="1.9"/><circle cx="167.0" cy="528.4" r="1.9"/><circle cx="146.7" cy="544.0" r="1.9"/><circle cx="166.9" cy="526.5" r="1.9"/><circle cx="141.1" cy="538.4" r="1.9"/><circle cx="153.0" cy="531.0" r="1.9"/><circle cx="166.8" cy="535.5" r="1.9"/><circle cx="143.7" cy="559.2" r="1.9"/><circle cx="159.5" cy="519.1" r="1.9"/><circle cx="166.1" cy="523.6" r="1.9"/><circle cx="165.2" cy="530.6" r="1.9"/><circle cx="154.1" cy="527.1" r="1.9"/><circle cx="163.4" cy="534.3" r="1.9"/><circle cx="155.2" cy="542.1" r="1.9"/><circle cx="165.1" cy="533.3" r="1.9"/><circle cx="169.8" cy="544.7" r="1.9"/><circle cx="162.3" cy="521.7" r="1.9"/><circle cx="157.5" cy="549.9" r="1.9"/><circle cx="172.0" cy="526.8" r="1.9"/><circle cx="171.8" cy="529.0" r="1.9"/><circle cx="160.1" cy="525.6" r="1.9"/><circle cx="160.8" cy="533.6" r="1.9"/><circle cx="172.8" cy="519.6" r="1.9"/><circle cx="154.3" cy="558.5" r="1.9"/><circle cx="172.2" cy="521.3" r="1.9"/><circle cx="177.1" cy="531.3" r="1.9"/><circle cx="167.8" cy="521.8" r="1.9"/><circle cx="168.7" cy="520.1" r="1.9"/><circle cx="157.8" cy="536.3" r="1.9"/><circle cx="151.4" cy="520.6" r="1.9"/><circle cx="171.0" cy="515.8" r="1.9"/><circle cx="168.0" cy="518.3" r="1.9"/><circle cx="167.7" cy="523.7" r="1.9"/><circle cx="148.0" cy="549.0" r="1.9"/><circle cx="167.3" cy="515.0" r="1.9"/><circle cx="174.5" cy="505.6" r="1.9"/><circle cx="185.7" cy="519.9" r="1.9"/><circle cx="163.0" cy="518.8" r="1.9"/><circle cx="143.6" cy="546.1" r="1.9"/><circle cx="172.4" cy="509.5" r="1.9"/><circle cx="161.5" cy="526.9" r="1.9"/><circle cx="141.1" cy="568.3" r="1.9"/><circle cx="177.1" cy="527.9" r="1.9"/><circle cx="137.2" cy="538.6" r="1.9"/><circle cx="148.3" cy="543.8" r="1.9"/><circle cx="165.8" cy="543.1" r="1.9"/><circle cx="179.9" cy="508.0" r="1.9"/><circle cx="163.3" cy="534.2" r="1.9"/><circle cx="179.5" cy="532.7" r="1.9"/><circle cx="200.4" cy="514.7" r="1.9"/><circle cx="194.7" cy="513.3" r="1.9"/><circle cx="163.1" cy="527.3" r="1.9"/><circle cx="163.2" cy="530.8" r="1.9"/><circle cx="151.5" cy="545.8" r="1.9"/><circle cx="155.7" cy="535.4" r="1.9"/><circle cx="167.9" cy="518.4" r="1.9"/><circle cx="182.5" cy="532.3" r="1.9"/><circle cx="169.0" cy="527.2" r="1.9"/><circle cx="182.9" cy="517.7" r="1.9"/><circle cx="163.0" cy="544.0" r="1.9"/><circle cx="168.2" cy="530.8" r="1.9"/><circle cx="175.8" cy="517.8" r="1.9"/><circle cx="174.7" cy="520.5" r="1.9"/><circle cx="187.3" cy="519.8" r="1.9"/><circle cx="173.6" cy="524.2" r="1.9"/><circle cx="150.9" cy="521.4" r="1.9"/><circle cx="176.3" cy="527.5" r="1.9"/><circle cx="162.7" cy="549.5" r="1.9"/><circle cx="143.9" cy="548.4" r="1.9"/><circle cx="169.9" cy="516.3" r="1.9"/><circle cx="162.7" cy="525.7" r="1.9"/><circle cx="176.0" cy="528.6" r="1.9"/><circle cx="139.2" cy="545.6" r="1.9"/><circle cx="165.7" cy="536.2" r="1.9"/><circle cx="164.7" cy="541.2" r="1.9"/><circle cx="158.5" cy="542.2" r="1.9"/><circle cx="138.3" cy="558.8" r="1.9"/><circle cx="157.8" cy="528.3" r="1.9"/><circle cx="173.7" cy="511.8" r="1.9"/><circle cx="170.8" cy="522.1" r="1.9"/><circle cx="153.3" cy="530.8" r="1.9"/><circle cx="165.3" cy="527.0" r="1.9"/><circle cx="170.5" cy="512.4" r="1.9"/><circle cx="139.1" cy="572.2" r="1.9"/><circle cx="173.0" cy="536.8" r="1.9"/><circle cx="168.5" cy="515.9" r="1.9"/><circle cx="182.1" cy="524.8" r="1.9"/><circle cx="188.9" cy="505.4" r="1.9"/><circle cx="180.7" cy="512.1" r="1.9"/><circle cx="172.5" cy="525.4" r="1.9"/><circle cx="172.2" cy="525.4" r="1.9"/><circle cx="168.1" cy="509.5" r="1.9"/><circle cx="173.1" cy="547.3" r="1.9"/><circle cx="160.6" cy="523.4" r="1.9"/><circle cx="164.6" cy="503.3" r="1.9"/><circle cx="190.3" cy="500.2" r="1.9"/><circle cx="164.0" cy="529.5" r="1.9"/><circle cx="161.3" cy="524.3" r="1.9"/><circle cx="158.3" cy="515.4" r="1.9"/><circle cx="189.3" cy="514.7" r="1.9"/><circle cx="165.1" cy="527.2" r="1.9"/><circle cx="185.3" cy="508.0" r="1.9"/><circle cx="150.7" cy="537.7" r="1.9"/><circle cx="162.7" cy="529.0" r="1.9"/><circle cx="159.8" cy="526.7" r="1.9"/><circle cx="178.1" cy="518.5" r="1.9"/><circle cx="178.7" cy="512.6" r="1.9"/><circle cx="150.7" cy="551.4" r="1.9"/><circle cx="158.1" cy="543.2" r="1.9"/><circle cx="170.9" cy="523.3" r="1.9"/><circle cx="158.5" cy="537.0" r="1.9"/><circle cx="153.3" cy="554.0" r="1.9"/><circle cx="170.3" cy="505.1" r="1.9"/><circle cx="172.9" cy="521.1" r="1.9"/><circle cx="179.7" cy="527.4" r="1.9"/><circle cx="153.9" cy="528.3" r="1.9"/><circle cx="182.9" cy="516.8" r="1.9"/><circle cx="160.1" cy="528.0" r="1.9"/><circle cx="179.7" cy="512.2" r="1.9"/><circle cx="153.1" cy="538.5" r="1.9"/><circle cx="154.3" cy="538.1" r="1.9"/><circle cx="171.7" cy="527.3" r="1.9"/><circle cx="156.9" cy="536.7" r="1.9"/><circle cx="163.2" cy="507.8" r="1.9"/><circle cx="181.5" cy="534.9" r="1.9"/><circle cx="154.0" cy="539.6" r="1.9"/><circle cx="164.4" cy="524.1" r="1.9"/><circle cx="167.3" cy="537.3" r="1.9"/><circle cx="184.9" cy="521.5" r="1.9"/><circle cx="146.1" cy="525.1" r="1.9"/><circle cx="162.5" cy="535.1" r="1.9"/><circle cx="169.6" cy="500.2" r="1.9"/><circle cx="191.0" cy="493.8" r="1.9"/><circle cx="190.5" cy="499.4" r="1.9"/><circle cx="164.1" cy="524.0" r="1.9"/><circle cx="165.2" cy="521.1" r="1.9"/><circle cx="178.6" cy="500.2" r="1.9"/><circle cx="162.0" cy="526.8" r="1.9"/><circle cx="152.9" cy="539.9" r="1.9"/><circle cx="166.4" cy="524.8" r="1.9"/><circle cx="164.1" cy="514.3" r="1.9"/><circle cx="151.0" cy="534.6" r="1.9"/><circle cx="150.8" cy="554.9" r="1.9"/><circle cx="151.4" cy="550.2" r="1.9"/><circle cx="172.4" cy="516.4" r="1.9"/><circle cx="159.9" cy="540.8" r="1.9"/><circle cx="166.2" cy="531.1" r="1.9"/><circle cx="173.9" cy="529.1" r="1.9"/><circle cx="175.1" cy="520.0" r="1.9"/><circle cx="159.4" cy="529.7" r="1.9"/><circle cx="166.7" cy="515.4" r="1.9"/><circle cx="154.7" cy="539.4" r="1.9"/><circle cx="150.0" cy="521.8" r="1.9"/><circle cx="153.5" cy="541.7" r="1.9"/><circle cx="162.5" cy="495.7" r="1.9"/><circle cx="160.1" cy="522.6" r="1.9"/><circle cx="153.9" cy="534.9" r="1.9"/><circle cx="164.3" cy="534.6" r="1.9"/><circle cx="178.7" cy="544.4" r="1.9"/><circle cx="175.5" cy="518.4" r="1.9"/><circle cx="145.0" cy="548.3" r="1.9"/><circle cx="142.4" cy="531.9" r="1.9"/><circle cx="168.8" cy="539.3" r="1.9"/><circle cx="187.1" cy="482.9" r="1.9"/><circle cx="179.3" cy="515.4" r="1.9"/><circle cx="160.5" cy="525.2" r="1.9"/><circle cx="188.8" cy="530.2" r="1.9"/><circle cx="190.9" cy="498.2" r="1.9"/><circle cx="164.9" cy="532.2" r="1.9"/><circle cx="157.6" cy="528.9" r="1.9"/><circle cx="180.6" cy="510.1" r="1.9"/><circle cx="178.4" cy="526.2" r="1.9"/><circle cx="169.1" cy="513.3" r="1.9"/><circle cx="155.7" cy="530.8" r="1.9"/><circle cx="186.7" cy="497.8" r="1.9"/><circle cx="181.8" cy="498.7" r="1.9"/><circle cx="166.9" cy="514.0" r="1.9"/><circle cx="174.6" cy="517.9" r="1.9"/><circle cx="148.0" cy="561.9" r="1.9"/><circle cx="181.5" cy="525.4" r="1.9"/><circle cx="156.1" cy="523.2" r="1.9"/><circle cx="167.4" cy="517.7" r="1.9"/><circle cx="173.9" cy="517.3" r="1.9"/><circle cx="164.0" cy="534.1" r="1.9"/><circle cx="144.6" cy="550.3" r="1.9"/><circle cx="170.4" cy="522.1" r="1.9"/><circle cx="158.5" cy="539.1" r="1.9"/><circle cx="165.6" cy="535.3" r="1.9"/><circle cx="146.4" cy="524.7" r="1.9"/><circle cx="160.4" cy="530.8" r="1.9"/><circle cx="140.3" cy="562.0" r="1.9"/><circle cx="188.3" cy="517.0" r="1.9"/><circle cx="173.1" cy="527.4" r="1.9"/><circle cx="175.9" cy="508.4" r="1.9"/><circle cx="186.5" cy="496.2" r="1.9"/><circle cx="167.4" cy="528.0" r="1.9"/><circle cx="143.1" cy="551.8" r="1.9"/><circle cx="156.4" cy="541.1" r="1.9"/><circle cx="156.9" cy="549.4" r="1.9"/><circle cx="152.5" cy="527.6" r="1.9"/><circle cx="164.9" cy="524.3" r="1.9"/><circle cx="127.2" cy="542.4" r="1.9"/><circle cx="174.4" cy="526.3" r="1.9"/><circle cx="147.8" cy="548.7" r="1.9"/><circle cx="164.8" cy="518.7" r="1.9"/><circle cx="165.9" cy="530.0" r="1.9"/><circle cx="169.6" cy="538.5" r="1.9"/><circle cx="170.2" cy="533.0" r="1.9"/><circle cx="158.6" cy="534.2" r="1.9"/><circle cx="156.4" cy="533.9" r="1.9"/><circle cx="145.4" cy="550.9" r="1.9"/><circle cx="160.0" cy="522.6" r="1.9"/><circle cx="183.6" cy="496.9" r="1.9"/><circle cx="188.9" cy="498.4" r="1.9"/><circle cx="182.3" cy="508.9" r="1.9"/><circle cx="176.2" cy="518.8" r="1.9"/><circle cx="154.4" cy="533.8" r="1.9"/><circle cx="178.9" cy="502.8" r="1.9"/><circle cx="164.9" cy="527.7" r="1.9"/><circle cx="162.6" cy="525.9" r="1.9"/><circle cx="164.1" cy="532.9" r="1.9"/><circle cx="174.9" cy="533.0" r="1.9"/><circle cx="166.0" cy="538.2" r="1.9"/><circle cx="160.7" cy="524.6" r="1.9"/><circle cx="149.9" cy="539.9" r="1.9"/><circle cx="152.5" cy="524.4" r="1.9"/><circle cx="194.2" cy="495.6" r="1.9"/><circle cx="160.3" cy="523.9" r="1.9"/><circle cx="155.6" cy="523.9" r="1.9"/><circle cx="167.1" cy="514.9" r="1.9"/><circle cx="178.1" cy="520.5" r="1.9"/><circle cx="153.0" cy="543.5" r="1.9"/><circle cx="162.6" cy="529.4" r="1.9"/><circle cx="182.9" cy="519.5" r="1.9"/><circle cx="166.7" cy="521.2" r="1.9"/><circle cx="161.8" cy="520.4" r="1.9"/><circle cx="188.0" cy="508.3" r="1.9"/><circle cx="146.6" cy="526.7" r="1.9"/><circle cx="168.6" cy="527.6" r="1.9"/><circle cx="160.5" cy="535.4" r="1.9"/><circle cx="185.9" cy="507.9" r="1.9"/><circle cx="145.4" cy="557.6" r="1.9"/><circle cx="155.2" cy="534.4" r="1.9"/><circle cx="159.2" cy="534.4" r="1.9"/><circle cx="165.1" cy="509.8" r="1.9"/><circle cx="170.2" cy="515.9" r="1.9"/><circle cx="180.4" cy="505.4" r="1.9"/><circle cx="147.4" cy="550.0" r="1.9"/><circle cx="183.1" cy="524.0" r="1.9"/><circle cx="162.7" cy="531.7" r="1.9"/><circle cx="162.3" cy="540.7" r="1.9"/><circle cx="167.4" cy="515.1" r="1.9"/><circle cx="154.6" cy="540.1" r="1.9"/><circle cx="130.7" cy="547.5" r="1.9"/><circle cx="157.2" cy="528.7" r="1.9"/><circle cx="142.6" cy="543.7" r="1.9"/><circle cx="156.5" cy="535.0" r="1.9"/><circle cx="169.4" cy="521.1" r="1.9"/><circle cx="166.2" cy="519.7" r="1.9"/><circle cx="180.7" cy="500.8" r="1.9"/><circle cx="167.3" cy="533.5" r="1.9"/><circle cx="144.0" cy="545.9" r="1.9"/><circle cx="142.0" cy="524.5" r="1.9"/><circle cx="154.9" cy="540.3" r="1.9"/><circle cx="152.1" cy="545.3" r="1.9"/><circle cx="175.2" cy="524.7" r="1.9"/><circle cx="165.8" cy="543.4" r="1.9"/><circle cx="134.6" cy="548.5" r="1.9"/><circle cx="174.3" cy="517.4" r="1.9"/><circle cx="162.9" cy="527.3" r="1.9"/><circle cx="160.2" cy="513.1" r="1.9"/><circle cx="153.4" cy="513.2" r="1.9"/><circle cx="178.7" cy="523.0" r="1.9"/><circle cx="160.6" cy="521.4" r="1.9"/><circle cx="178.0" cy="507.1" r="1.9"/><circle cx="169.0" cy="519.4" r="1.9"/><circle cx="168.2" cy="519.4" r="1.9"/><circle cx="171.2" cy="521.7" r="1.9"/><circle cx="138.9" cy="539.3" r="1.9"/><circle cx="160.5" cy="526.4" r="1.9"/><circle cx="160.8" cy="529.1" r="1.9"/><circle cx="161.6" cy="518.1" r="1.9"/><circle cx="144.0" cy="541.4" r="1.9"/><circle cx="183.8" cy="502.4" r="1.9"/><circle cx="165.4" cy="524.2" r="1.9"/><circle cx="141.1" cy="535.1" r="1.9"/><circle cx="141.7" cy="548.2" r="1.9"/><circle cx="162.9" cy="531.5" r="1.9"/><circle cx="169.5" cy="532.7" r="1.9"/><circle cx="158.8" cy="538.8" r="1.9"/><circle cx="172.8" cy="531.2" r="1.9"/><circle cx="157.3" cy="535.5" r="1.9"/><circle cx="171.4" cy="518.4" r="1.9"/><circle cx="168.1" cy="547.5" r="1.9"/><circle cx="165.3" cy="527.7" r="1.9"/><circle cx="174.6" cy="510.5" r="1.9"/><circle cx="197.2" cy="491.0" r="1.9"/><circle cx="158.6" cy="545.9" r="1.9"/><circle cx="153.1" cy="527.3" r="1.9"/><circle cx="159.2" cy="542.3" r="1.9"/><circle cx="182.5" cy="522.6" r="1.9"/><circle cx="157.5" cy="548.4" r="1.9"/><circle cx="159.9" cy="534.0" r="1.9"/><circle cx="160.1" cy="522.7" r="1.9"/><circle cx="147.2" cy="534.9" r="1.9"/><circle cx="152.8" cy="539.3" r="1.9"/><circle cx="166.5" cy="539.7" r="1.9"/><circle cx="143.2" cy="559.4" r="1.9"/><circle cx="152.8" cy="551.6" r="1.9"/><circle cx="161.7" cy="533.8" r="1.9"/><circle cx="177.5" cy="534.1" r="1.9"/><circle cx="163.0" cy="529.2" r="1.9"/><circle cx="140.2" cy="548.4" r="1.9"/><circle cx="160.9" cy="534.4" r="1.9"/><circle cx="173.4" cy="514.0" r="1.9"/><circle cx="178.0" cy="524.3" r="1.9"/><circle cx="172.9" cy="535.6" r="1.9"/><circle cx="158.3" cy="542.6" r="1.9"/><circle cx="167.4" cy="512.8" r="1.9"/><circle cx="153.0" cy="530.0" r="1.9"/><circle cx="153.8" cy="545.6" r="1.9"/><circle cx="149.2" cy="532.3" r="1.9"/><circle cx="185.8" cy="508.9" r="1.9"/><circle cx="160.3" cy="516.6" r="1.9"/><circle cx="177.8" cy="508.9" r="1.9"/><circle cx="162.4" cy="536.1" r="1.9"/><circle cx="173.3" cy="510.4" r="1.9"/><circle cx="162.7" cy="539.4" r="1.9"/><circle cx="169.1" cy="534.1" r="1.9"/><circle cx="205.0" cy="500.3" r="1.9"/><circle cx="174.1" cy="515.4" r="1.9"/><circle cx="159.9" cy="534.4" r="1.9"/><circle cx="165.3" cy="528.8" r="1.9"/><circle cx="172.3" cy="524.8" r="1.9"/><circle cx="173.2" cy="503.4" r="1.9"/><circle cx="162.1" cy="536.1" r="1.9"/><circle cx="148.1" cy="554.8" r="1.9"/><circle cx="155.6" cy="524.9" r="1.9"/><circle cx="158.3" cy="519.9" r="1.9"/><circle cx="165.4" cy="524.0" r="1.9"/><circle cx="192.0" cy="517.8" r="1.9"/><circle cx="173.2" cy="525.9" r="1.9"/><circle cx="172.7" cy="513.0" r="1.9"/><circle cx="152.0" cy="542.3" r="1.9"/><circle cx="168.2" cy="507.5" r="1.9"/><circle cx="199.7" cy="505.2" r="1.9"/><circle cx="171.9" cy="513.2" r="1.9"/><circle cx="172.6" cy="526.9" r="1.9"/><circle cx="160.6" cy="518.5" r="1.9"/><circle cx="188.7" cy="503.0" r="1.9"/><circle cx="148.6" cy="534.8" r="1.9"/><circle cx="168.1" cy="532.0" r="1.9"/><circle cx="179.4" cy="528.0" r="1.9"/><circle cx="181.4" cy="522.6" r="1.9"/><circle cx="163.8" cy="536.3" r="1.9"/><circle cx="175.4" cy="528.1" r="1.9"/><circle cx="155.8" cy="525.1" r="1.9"/><circle cx="160.1" cy="518.9" r="1.9"/><circle cx="162.8" cy="527.7" r="1.9"/><circle cx="157.3" cy="548.1" r="1.9"/><circle cx="166.3" cy="528.1" r="1.9"/><circle cx="180.7" cy="518.6" r="1.9"/><circle cx="145.8" cy="533.3" r="1.9"/><circle cx="161.2" cy="529.0" r="1.9"/><circle cx="171.6" cy="515.6" r="1.9"/><circle cx="154.7" cy="544.0" r="1.9"/><circle cx="179.3" cy="534.8" r="1.9"/><circle cx="156.9" cy="545.7" r="1.9"/><circle cx="186.3" cy="517.2" r="1.9"/><circle cx="192.8" cy="493.6" r="1.9"/><circle cx="190.7" cy="498.9" r="1.9"/><circle cx="167.6" cy="534.3" r="1.9"/><circle cx="177.3" cy="519.0" r="1.9"/><circle cx="158.8" cy="517.7" r="1.9"/><circle cx="172.5" cy="530.6" r="1.9"/><circle cx="190.4" cy="510.5" r="1.9"/><circle cx="150.7" cy="546.5" r="1.9"/><circle cx="183.0" cy="516.2" r="1.9"/><circle cx="167.7" cy="530.1" r="1.9"/><circle cx="180.6" cy="505.2" r="1.9"/><circle cx="158.7" cy="516.0" r="1.9"/><circle cx="167.3" cy="545.4" r="1.9"/><circle cx="169.5" cy="523.5" r="1.9"/><circle cx="174.9" cy="516.9" r="1.9"/><circle cx="166.8" cy="527.2" r="1.9"/><circle cx="173.1" cy="521.5" r="1.9"/><circle cx="161.3" cy="536.1" r="1.9"/><circle cx="133.7" cy="551.6" r="1.9"/><circle cx="179.8" cy="517.2" r="1.9"/><circle cx="175.4" cy="518.3" r="1.9"/><circle cx="167.8" cy="525.2" r="1.9"/><circle cx="166.2" cy="525.8" r="1.9"/><circle cx="179.8" cy="513.8" r="1.9"/><circle cx="154.7" cy="528.5" r="1.9"/><circle cx="157.1" cy="537.0" r="1.9"/><circle cx="162.6" cy="529.0" r="1.9"/><circle cx="181.1" cy="511.1" r="1.9"/><circle cx="154.1" cy="551.3" r="1.9"/><circle cx="185.4" cy="515.0" r="1.9"/><circle cx="163.7" cy="541.3" r="1.9"/><circle cx="151.1" cy="541.4" r="1.9"/><circle cx="185.6" cy="513.5" r="1.9"/><circle cx="170.6" cy="533.9" r="1.9"/><circle cx="148.3" cy="543.9" r="1.9"/><circle cx="158.5" cy="529.6" r="1.9"/><circle cx="187.3" cy="523.2" r="1.9"/><circle cx="171.5" cy="502.4" r="1.9"/><circle cx="160.4" cy="533.0" r="1.9"/><circle cx="171.6" cy="522.2" r="1.9"/><circle cx="169.0" cy="512.1" r="1.9"/><circle cx="157.5" cy="535.8" r="1.9"/><circle cx="173.7" cy="525.4" r="1.9"/><circle cx="153.4" cy="516.7" r="1.9"/><circle cx="165.1" cy="540.0" r="1.9"/><circle cx="160.3" cy="534.5" r="1.9"/><circle cx="162.1" cy="522.1" r="1.9"/><circle cx="172.2" cy="532.2" r="1.9"/><circle cx="159.4" cy="535.5" r="1.9"/><circle cx="158.5" cy="531.2" r="1.9"/><circle cx="166.6" cy="499.9" r="1.9"/><circle cx="173.5" cy="528.8" r="1.9"/><circle cx="177.3" cy="515.3" r="1.9"/><circle cx="177.3" cy="507.4" r="1.9"/><circle cx="172.8" cy="518.7" r="1.9"/><circle cx="201.0" cy="502.0" r="1.9"/><circle cx="153.3" cy="536.6" r="1.9"/><circle cx="175.5" cy="515.6" r="1.9"/><circle cx="159.5" cy="529.4" r="1.9"/><circle cx="182.9" cy="496.1" r="1.9"/><circle cx="181.6" cy="498.8" r="1.9"/><circle cx="139.2" cy="552.1" r="1.9"/><circle cx="152.1" cy="539.0" r="1.9"/><circle cx="180.3" cy="523.6" r="1.9"/><circle cx="176.6" cy="517.0" r="1.9"/><circle cx="173.9" cy="516.0" r="1.9"/><circle cx="167.2" cy="530.2" r="1.9"/><circle cx="171.1" cy="520.5" r="1.9"/><circle cx="178.6" cy="522.4" r="1.9"/><circle cx="156.5" cy="520.6" r="1.9"/><circle cx="166.9" cy="502.3" r="1.9"/><circle cx="139.8" cy="560.3" r="1.9"/><circle cx="171.7" cy="516.5" r="1.9"/><circle cx="154.3" cy="542.6" r="1.9"/><circle cx="171.0" cy="507.7" r="1.9"/><circle cx="160.7" cy="528.2" r="1.9"/><circle cx="154.4" cy="539.1" r="1.9"/><circle cx="171.8" cy="523.2" r="1.9"/><circle cx="153.8" cy="539.1" r="1.9"/><circle cx="160.0" cy="544.8" r="1.9"/><circle cx="142.6" cy="545.4" r="1.9"/><circle cx="169.5" cy="531.2" r="1.9"/><circle cx="169.2" cy="517.7" r="1.9"/><circle cx="178.0" cy="512.5" r="1.9"/><circle cx="158.1" cy="523.7" r="1.9"/><circle cx="179.1" cy="512.9" r="1.9"/><circle cx="160.5" cy="521.9" r="1.9"/><circle cx="169.8" cy="533.1" r="1.9"/><circle cx="169.7" cy="516.3" r="1.9"/><circle cx="180.4" cy="513.8" r="1.9"/><circle cx="160.6" cy="531.0" r="1.9"/><circle cx="162.5" cy="530.2" r="1.9"/><circle cx="158.8" cy="524.8" r="1.9"/><circle cx="178.1" cy="536.2" r="1.9"/><circle cx="152.9" cy="538.0" r="1.9"/><circle cx="187.0" cy="520.6" r="1.9"/><circle cx="154.3" cy="526.7" r="1.9"/><circle cx="182.6" cy="530.7" r="1.9"/><circle cx="161.1" cy="543.6" r="1.9"/><circle cx="179.6" cy="530.7" r="1.9"/><circle cx="161.8" cy="513.7" r="1.9"/><circle cx="167.8" cy="539.5" r="1.9"/><circle cx="190.6" cy="498.9" r="1.9"/><circle cx="173.5" cy="524.8" r="1.9"/><circle cx="198.1" cy="511.8" r="1.9"/><circle cx="179.8" cy="515.7" r="1.9"/><circle cx="154.0" cy="533.0" r="1.9"/><circle cx="162.2" cy="533.4" r="1.9"/><circle cx="166.2" cy="516.5" r="1.9"/><circle cx="168.7" cy="528.2" r="1.9"/><circle cx="166.5" cy="526.5" r="1.9"/><circle cx="164.5" cy="533.1" r="1.9"/><circle cx="141.4" cy="550.4" r="1.9"/><circle cx="152.6" cy="520.8" r="1.9"/><circle cx="136.2" cy="555.9" r="1.9"/><circle cx="169.5" cy="521.2" r="1.9"/><circle cx="160.2" cy="540.3" r="1.9"/><circle cx="161.1" cy="540.9" r="1.9"/><circle cx="155.1" cy="522.9" r="1.9"/><circle cx="175.5" cy="529.1" r="1.9"/><circle cx="153.0" cy="551.5" r="1.9"/><circle cx="144.6" cy="551.8" r="1.9"/><circle cx="154.9" cy="544.0" r="1.9"/><circle cx="129.6" cy="545.5" r="1.9"/><circle cx="166.9" cy="552.4" r="1.9"/><circle cx="183.8" cy="503.6" r="1.9"/><circle cx="148.8" cy="538.2" r="1.9"/><circle cx="180.3" cy="523.9" r="1.9"/><circle cx="152.3" cy="549.3" r="1.9"/><circle cx="167.3" cy="521.0" r="1.9"/><circle cx="152.9" cy="523.5" r="1.9"/><circle cx="170.2" cy="532.7" r="1.9"/><circle cx="181.7" cy="527.3" r="1.9"/><circle cx="182.6" cy="498.2" r="1.9"/><circle cx="160.0" cy="516.9" r="1.9"/><circle cx="169.3" cy="527.2" r="1.9"/><circle cx="165.9" cy="551.7" r="1.9"/><circle cx="165.2" cy="512.0" r="1.9"/><circle cx="163.9" cy="531.6" r="1.9"/><circle cx="170.1" cy="510.2" r="1.9"/><circle cx="165.6" cy="528.1" r="1.9"/><circle cx="189.8" cy="505.2" r="1.9"/><circle cx="143.6" cy="556.8" r="1.9"/><circle cx="154.1" cy="524.0" r="1.9"/><circle cx="169.1" cy="507.9" r="1.9"/><circle cx="173.3" cy="542.8" r="1.9"/><circle cx="161.2" cy="542.8" r="1.9"/><circle cx="152.8" cy="522.0" r="1.9"/><circle cx="150.7" cy="548.1" r="1.9"/><circle cx="174.9" cy="532.4" r="1.9"/><circle cx="196.5" cy="493.6" r="1.9"/><circle cx="180.9" cy="512.0" r="1.9"/><circle cx="152.6" cy="543.0" r="1.9"/><circle cx="157.6" cy="541.7" r="1.9"/><circle cx="162.6" cy="534.4" r="1.9"/><circle cx="181.0" cy="515.7" r="1.9"/><circle cx="153.8" cy="536.9" r="1.9"/><circle cx="161.8" cy="540.8" r="1.9"/><circle cx="178.6" cy="516.5" r="1.9"/><circle cx="177.5" cy="516.1" r="1.9"/><circle cx="154.1" cy="525.9" r="1.9"/><circle cx="149.9" cy="540.7" r="1.9"/><circle cx="147.1" cy="549.1" r="1.9"/><circle cx="154.2" cy="534.2" r="1.9"/><circle cx="135.8" cy="555.9" r="1.9"/><circle cx="169.3" cy="511.5" r="1.9"/><circle cx="155.2" cy="533.4" r="1.9"/><circle cx="162.1" cy="511.6" r="1.9"/><circle cx="181.9" cy="494.8" r="1.9"/><circle cx="180.8" cy="511.3" r="1.9"/><circle cx="153.8" cy="545.1" r="1.9"/><circle cx="171.9" cy="510.9" r="1.9"/><circle cx="177.6" cy="508.7" r="1.9"/><circle cx="157.1" cy="538.0" r="1.9"/><circle cx="162.1" cy="547.7" r="1.9"/><circle cx="174.6" cy="537.9" r="1.9"/><circle cx="144.0" cy="547.5" r="1.9"/><circle cx="180.1" cy="503.2" r="1.9"/><circle cx="131.4" cy="556.3" r="1.9"/><circle cx="159.2" cy="548.9" r="1.9"/><circle cx="156.8" cy="525.8" r="1.9"/><circle cx="166.0" cy="533.0" r="1.9"/><circle cx="165.9" cy="523.0" r="1.9"/><circle cx="167.0" cy="521.4" r="1.9"/><circle cx="167.7" cy="534.2" r="1.9"/><circle cx="183.4" cy="514.6" r="1.9"/><circle cx="150.6" cy="567.0" r="1.9"/><circle cx="171.0" cy="531.8" r="1.9"/><circle cx="166.9" cy="546.1" r="1.9"/><circle cx="165.2" cy="523.2" r="1.9"/><circle cx="168.3" cy="523.9" r="1.9"/><circle cx="149.5" cy="535.2" r="1.9"/><circle cx="155.9" cy="534.3" r="1.9"/><circle cx="179.3" cy="519.5" r="1.9"/><circle cx="168.4" cy="520.7" r="1.9"/><circle cx="159.6" cy="538.6" r="1.9"/><circle cx="188.1" cy="496.1" r="1.9"/><circle cx="193.1" cy="493.9" r="1.9"/><circle cx="153.1" cy="552.3" r="1.9"/><circle cx="169.7" cy="523.1" r="1.9"/><circle cx="197.0" cy="492.5" r="1.9"/><circle cx="177.4" cy="518.0" r="1.9"/><circle cx="163.8" cy="519.7" r="1.9"/><circle cx="153.9" cy="521.5" r="1.9"/><circle cx="161.2" cy="536.5" r="1.9"/><circle cx="165.2" cy="531.9" r="1.9"/><circle cx="171.4" cy="546.1" r="1.9"/><circle cx="176.0" cy="517.6" r="1.9"/><circle cx="163.3" cy="534.9" r="1.9"/><circle cx="172.3" cy="544.1" r="1.9"/><circle cx="149.3" cy="542.3" r="1.9"/><circle cx="162.0" cy="525.0" r="1.9"/><circle cx="158.8" cy="543.2" r="1.9"/><circle cx="165.7" cy="531.6" r="1.9"/><circle cx="184.3" cy="517.7" r="1.9"/><circle cx="166.3" cy="518.4" r="1.9"/><circle cx="180.6" cy="527.9" r="1.9"/><circle cx="172.1" cy="523.9" r="1.9"/><circle cx="155.9" cy="516.7" r="1.9"/><circle cx="164.0" cy="528.7" r="1.9"/><circle cx="159.5" cy="529.1" r="1.9"/><circle cx="176.2" cy="517.5" r="1.9"/><circle cx="158.8" cy="548.0" r="1.9"/><circle cx="182.9" cy="509.0" r="1.9"/><circle cx="164.1" cy="524.7" r="1.9"/><circle cx="162.2" cy="542.7" r="1.9"/><circle cx="157.9" cy="532.3" r="1.9"/><circle cx="150.6" cy="530.3" r="1.9"/><circle cx="162.0" cy="519.7" r="1.9"/><circle cx="165.7" cy="545.0" r="1.9"/><circle cx="185.6" cy="516.4" r="1.9"/><circle cx="165.0" cy="546.1" r="1.9"/><circle cx="131.6" cy="553.1" r="1.9"/><circle cx="153.4" cy="534.2" r="1.9"/><circle cx="136.9" cy="551.4" r="1.9"/><circle cx="170.3" cy="532.2" r="1.9"/><circle cx="185.6" cy="518.5" r="1.9"/><circle cx="173.6" cy="517.9" r="1.9"/><circle cx="148.6" cy="545.1" r="1.9"/><circle cx="161.1" cy="542.0" r="1.9"/><circle cx="187.4" cy="502.1" r="1.9"/><circle cx="166.4" cy="519.6" r="1.9"/><circle cx="164.7" cy="526.0" r="1.9"/><circle cx="184.9" cy="517.9" r="1.9"/><circle cx="208.3" cy="504.1" r="1.9"/><circle cx="183.6" cy="510.7" r="1.9"/><circle cx="166.8" cy="524.5" r="1.9"/><circle cx="171.8" cy="523.7" r="1.9"/><circle cx="176.0" cy="520.9" r="1.9"/><circle cx="162.1" cy="539.1" r="1.9"/><circle cx="148.7" cy="538.2" r="1.9"/><circle cx="166.9" cy="526.8" r="1.9"/><circle cx="153.4" cy="539.7" r="1.9"/><circle cx="170.5" cy="532.9" r="1.9"/><circle cx="170.5" cy="529.0" r="1.9"/><circle cx="194.3" cy="494.2" r="1.9"/><circle cx="160.8" cy="544.0" r="1.9"/><circle cx="171.3" cy="535.2" r="1.9"/><circle cx="165.7" cy="531.1" r="1.9"/><circle cx="164.8" cy="515.2" r="1.9"/><circle cx="178.0" cy="511.9" r="1.9"/><circle cx="151.7" cy="526.7" r="1.9"/><circle cx="156.4" cy="539.2" r="1.9"/><circle cx="147.1" cy="551.4" r="1.9"/><circle cx="162.0" cy="546.9" r="1.9"/><circle cx="175.8" cy="522.7" r="1.9"/><circle cx="158.6" cy="519.4" r="1.9"/><circle cx="151.4" cy="539.6" r="1.9"/><circle cx="157.2" cy="528.7" r="1.9"/><circle cx="162.4" cy="523.3" r="1.9"/><circle cx="172.3" cy="520.4" r="1.9"/><circle cx="159.6" cy="536.4" r="1.9"/><circle cx="162.1" cy="530.1" r="1.9"/><circle cx="139.5" cy="548.9" r="1.9"/><circle cx="149.0" cy="540.8" r="1.9"/><circle cx="183.5" cy="502.5" r="1.9"/><circle cx="137.7" cy="556.6" r="1.9"/><circle cx="165.9" cy="535.7" r="1.9"/><circle cx="170.1" cy="525.5" r="1.9"/><circle cx="166.4" cy="537.1" r="1.9"/><circle cx="150.3" cy="533.3" r="1.9"/><circle cx="176.7" cy="538.6" r="1.9"/><circle cx="167.1" cy="528.4" r="1.9"/><circle cx="151.7" cy="516.4" r="1.9"/><circle cx="144.3" cy="554.8" r="1.9"/><circle cx="170.3" cy="534.9" r="1.9"/><circle cx="155.3" cy="539.1" r="1.9"/><circle cx="152.0" cy="528.3" r="1.9"/><circle cx="169.6" cy="524.9" r="1.9"/><circle cx="170.6" cy="515.4" r="1.9"/><circle cx="176.6" cy="514.4" r="1.9"/><circle cx="161.8" cy="535.9" r="1.9"/><circle cx="160.1" cy="498.8" r="1.9"/><circle cx="180.2" cy="510.7" r="1.9"/><circle cx="183.1" cy="514.3" r="1.9"/><circle cx="186.0" cy="510.6" r="1.9"/><circle cx="162.0" cy="527.3" r="1.9"/><circle cx="161.5" cy="527.6" r="1.9"/><circle cx="172.0" cy="512.0" r="1.9"/><circle cx="148.0" cy="545.3" r="1.9"/><circle cx="176.4" cy="531.5" r="1.9"/><circle cx="156.4" cy="531.9" r="1.9"/><circle cx="163.0" cy="533.9" r="1.9"/><circle cx="145.7" cy="552.6" r="1.9"/><circle cx="162.9" cy="546.9" r="1.9"/><circle cx="168.8" cy="530.4" r="1.9"/><circle cx="181.1" cy="518.7" r="1.9"/><circle cx="178.5" cy="513.8" r="1.9"/><circle cx="172.9" cy="535.6" r="1.9"/><circle cx="163.3" cy="529.6" r="1.9"/><circle cx="154.8" cy="538.0" r="1.9"/><circle cx="177.1" cy="527.3" r="1.9"/><circle cx="166.3" cy="533.8" r="1.9"/><circle cx="178.2" cy="523.2" r="1.9"/><circle cx="182.9" cy="498.6" r="1.9"/><circle cx="179.4" cy="540.3" r="1.9"/><circle cx="149.1" cy="549.6" r="1.9"/><circle cx="164.3" cy="547.4" r="1.9"/><circle cx="150.0" cy="549.5" r="1.9"/><circle cx="146.3" cy="539.5" r="1.9"/><circle cx="185.7" cy="512.4" r="1.9"/><circle cx="168.0" cy="523.4" r="1.9"/><circle cx="151.5" cy="552.4" r="1.9"/><circle cx="163.4" cy="508.5" r="1.9"/><circle cx="176.7" cy="505.3" r="1.9"/><circle cx="155.2" cy="526.6" r="1.9"/><circle cx="164.8" cy="543.2" r="1.9"/><circle cx="167.8" cy="537.4" r="1.9"/><circle cx="163.5" cy="517.9" r="1.9"/><circle cx="175.0" cy="519.4" r="1.9"/><circle cx="182.1" cy="512.3" r="1.9"/><circle cx="179.3" cy="508.9" r="1.9"/><circle cx="187.7" cy="517.2" r="1.9"/><circle cx="178.7" cy="504.6" r="1.9"/><circle cx="174.1" cy="518.1" r="1.9"/><circle cx="144.1" cy="545.9" r="1.9"/><circle cx="168.0" cy="532.4" r="1.9"/><circle cx="167.0" cy="520.4" r="1.9"/><circle cx="165.0" cy="536.0" r="1.9"/><circle cx="172.1" cy="509.9" r="1.9"/><circle cx="155.2" cy="526.5" r="1.9"/><circle cx="149.3" cy="535.4" r="1.9"/><circle cx="181.2" cy="504.8" r="1.9"/><circle cx="170.8" cy="514.9" r="1.9"/><circle cx="183.6" cy="537.8" r="1.9"/><circle cx="172.9" cy="510.3" r="1.9"/><circle cx="180.7" cy="514.0" r="1.9"/><circle cx="169.7" cy="522.1" r="1.9"/><circle cx="136.7" cy="562.5" r="1.9"/><circle cx="165.1" cy="543.5" r="1.9"/><circle cx="163.2" cy="536.2" r="1.9"/><circle cx="150.0" cy="537.5" r="1.9"/><circle cx="160.6" cy="517.4" r="1.9"/><circle cx="184.3" cy="514.0" r="1.9"/><circle cx="164.8" cy="538.4" r="1.9"/><circle cx="143.7" cy="535.6" r="1.9"/><circle cx="196.2" cy="503.8" r="1.9"/><circle cx="148.9" cy="523.1" r="1.9"/><circle cx="150.2" cy="543.9" r="1.9"/><circle cx="173.8" cy="528.4" r="1.9"/><circle cx="165.8" cy="516.5" r="1.9"/><circle cx="147.8" cy="528.5" r="1.9"/><circle cx="183.7" cy="523.5" r="1.9"/><circle cx="151.2" cy="526.1" r="1.9"/><circle cx="155.9" cy="541.3" r="1.9"/><circle cx="160.0" cy="517.4" r="1.9"/><circle cx="177.7" cy="518.5" r="1.9"/><circle cx="166.7" cy="543.9" r="1.9"/><circle cx="167.3" cy="520.2" r="1.9"/><circle cx="159.7" cy="523.9" r="1.9"/><circle cx="189.7" cy="477.9" r="1.9"/><circle cx="147.6" cy="528.4" r="1.9"/><circle cx="179.4" cy="504.7" r="1.9"/><circle cx="166.6" cy="529.2" r="1.9"/><circle cx="167.2" cy="531.6" r="1.9"/><circle cx="176.6" cy="518.8" r="1.9"/><circle cx="181.7" cy="519.1" r="1.9"/><circle cx="183.3" cy="511.2" r="1.9"/><circle cx="184.1" cy="535.4" r="1.9"/><circle cx="157.4" cy="534.6" r="1.9"/><circle cx="159.4" cy="534.8" r="1.9"/><circle cx="158.2" cy="507.4" r="1.9"/><circle cx="169.0" cy="515.5" r="1.9"/><circle cx="186.1" cy="510.4" r="1.9"/><circle cx="168.1" cy="518.7" r="1.9"/><circle cx="185.9" cy="518.8" r="1.9"/><circle cx="188.2" cy="509.4" r="1.9"/><circle cx="178.3" cy="534.3" r="1.9"/><circle cx="139.4" cy="540.5" r="1.9"/><circle cx="147.9" cy="540.5" r="1.9"/><circle cx="154.4" cy="552.9" r="1.9"/><circle cx="186.2" cy="505.7" r="1.9"/><circle cx="150.1" cy="534.1" r="1.9"/><circle cx="178.6" cy="507.8" r="1.9"/><circle cx="171.2" cy="517.3" r="1.9"/><circle cx="192.1" cy="507.9" r="1.9"/><circle cx="182.0" cy="516.6" r="1.9"/><circle cx="164.1" cy="528.2" r="1.9"/><circle cx="158.4" cy="525.4" r="1.9"/><circle cx="171.6" cy="530.2" r="1.9"/><circle cx="174.3" cy="530.4" r="1.9"/><circle cx="153.0" cy="528.8" r="1.9"/><circle cx="170.6" cy="532.3" r="1.9"/><circle cx="180.1" cy="499.7" r="1.9"/><circle cx="143.3" cy="549.4" r="1.9"/><circle cx="164.3" cy="519.3" r="1.9"/><circle cx="145.0" cy="531.0" r="1.9"/><circle cx="164.5" cy="521.2" r="1.9"/><circle cx="172.2" cy="511.8" r="1.9"/><circle cx="170.3" cy="532.6" r="1.9"/><circle cx="179.4" cy="520.1" r="1.9"/><circle cx="142.5" cy="545.9" r="1.9"/><circle cx="171.3" cy="504.3" r="1.9"/><circle cx="150.7" cy="528.6" r="1.9"/><circle cx="161.0" cy="507.1" r="1.9"/><circle cx="166.5" cy="523.2" r="1.9"/><circle cx="132.4" cy="561.8" r="1.9"/><circle cx="150.9" cy="532.6" r="1.9"/><circle cx="168.6" cy="524.1" r="1.9"/><circle cx="185.7" cy="506.2" r="1.9"/><circle cx="175.3" cy="528.5" r="1.9"/><circle cx="163.7" cy="518.7" r="1.9"/><circle cx="154.1" cy="552.0" r="1.9"/><circle cx="181.0" cy="505.0" r="1.9"/><circle cx="196.4" cy="509.5" r="1.9"/><circle cx="160.2" cy="521.4" r="1.9"/><circle cx="168.8" cy="535.4" r="1.9"/><circle cx="141.0" cy="545.3" r="1.9"/><circle cx="185.7" cy="523.0" r="1.9"/><circle cx="202.2" cy="492.3" r="1.9"/><circle cx="168.4" cy="511.5" r="1.9"/><circle cx="186.2" cy="513.9" r="1.9"/><circle cx="172.3" cy="519.4" r="1.9"/><circle cx="156.2" cy="543.2" r="1.9"/><circle cx="195.4" cy="520.4" r="1.9"/><circle cx="148.8" cy="542.7" r="1.9"/><circle cx="160.9" cy="528.0" r="1.9"/><circle cx="175.5" cy="528.9" r="1.9"/><circle cx="173.8" cy="512.2" r="1.9"/><circle cx="175.5" cy="525.5" r="1.9"/><circle cx="176.3" cy="526.9" r="1.9"/><circle cx="156.4" cy="537.7" r="1.9"/><circle cx="153.5" cy="548.4" r="1.9"/><circle cx="154.1" cy="514.9" r="1.9"/><circle cx="165.6" cy="544.8" r="1.9"/><circle cx="145.5" cy="541.5" r="1.9"/><circle cx="144.6" cy="539.7" r="1.9"/><circle cx="170.7" cy="543.9" r="1.9"/><circle cx="152.3" cy="561.4" r="1.9"/><circle cx="146.0" cy="543.0" r="1.9"/><circle cx="148.1" cy="552.1" r="1.9"/><circle cx="166.1" cy="522.8" r="1.9"/><circle cx="164.8" cy="515.9" r="1.9"/><circle cx="193.1" cy="501.5" r="1.9"/><circle cx="153.0" cy="553.2" r="1.9"/><circle cx="172.5" cy="550.2" r="1.9"/><circle cx="176.2" cy="513.7" r="1.9"/><circle cx="168.3" cy="534.9" r="1.9"/><circle cx="160.1" cy="530.2" r="1.9"/><circle cx="186.0" cy="502.6" r="1.9"/><circle cx="169.3" cy="538.8" r="1.9"/><circle cx="142.0" cy="534.5" r="1.9"/><circle cx="143.5" cy="539.9" r="1.9"/><circle cx="165.5" cy="518.4" r="1.9"/><circle cx="176.3" cy="529.0" r="1.9"/><circle cx="151.0" cy="548.1" r="1.9"/><circle cx="156.6" cy="543.5" r="1.9"/><circle cx="174.9" cy="522.0" r="1.9"/><circle cx="179.3" cy="524.9" r="1.9"/><circle cx="155.5" cy="533.9" r="1.9"/><circle cx="172.5" cy="517.5" r="1.9"/><circle cx="171.1" cy="517.5" r="1.9"/><circle cx="146.4" cy="554.3" r="1.9"/><circle cx="154.9" cy="525.1" r="1.9"/><circle cx="170.1" cy="520.6" r="1.9"/><circle cx="173.8" cy="548.8" r="1.9"/><circle cx="142.7" cy="559.9" r="1.9"/><circle cx="162.7" cy="531.4" r="1.9"/><circle cx="170.0" cy="512.1" r="1.9"/><circle cx="187.4" cy="507.0" r="1.9"/><circle cx="139.9" cy="558.6" r="1.9"/><circle cx="202.3" cy="494.6" r="1.9"/><circle cx="148.1" cy="539.4" r="1.9"/><circle cx="180.4" cy="516.3" r="1.9"/><circle cx="184.7" cy="513.3" r="1.9"/><circle cx="182.3" cy="517.4" r="1.9"/><circle cx="164.7" cy="522.4" r="1.9"/><circle cx="154.3" cy="545.9" r="1.9"/><circle cx="183.0" cy="527.0" r="1.9"/><circle cx="153.5" cy="534.0" r="1.9"/><circle cx="138.2" cy="565.5" r="1.9"/><circle cx="199.4" cy="486.5" r="1.9"/><circle cx="172.7" cy="515.6" r="1.9"/><circle cx="182.1" cy="496.2" r="1.9"/><circle cx="148.8" cy="534.6" r="1.9"/><circle cx="187.5" cy="509.9" r="1.9"/><circle cx="186.7" cy="506.2" r="1.9"/><circle cx="192.5" cy="512.3" r="1.9"/><circle cx="156.4" cy="519.1" r="1.9"/><circle cx="148.4" cy="541.6" r="1.9"/><circle cx="156.0" cy="522.7" r="1.9"/><circle cx="140.1" cy="559.1" r="1.9"/><circle cx="155.9" cy="560.9" r="1.9"/><circle cx="158.6" cy="518.3" r="1.9"/><circle cx="153.0" cy="540.4" r="1.9"/><circle cx="163.1" cy="528.8" r="1.9"/><circle cx="164.3" cy="528.5" r="1.9"/><circle cx="186.5" cy="497.5" r="1.9"/><circle cx="179.2" cy="506.7" r="1.9"/><circle cx="174.1" cy="535.8" r="1.9"/><circle cx="175.1" cy="505.2" r="1.9"/><circle cx="159.1" cy="540.6" r="1.9"/><circle cx="164.3" cy="534.2" r="1.9"/><circle cx="167.8" cy="506.1" r="1.9"/><circle cx="145.3" cy="539.7" r="1.9"/><circle cx="164.3" cy="532.8" r="1.9"/><circle cx="159.6" cy="554.7" r="1.9"/><circle cx="166.5" cy="524.8" r="1.9"/><circle cx="183.4" cy="502.1" r="1.9"/><circle cx="157.0" cy="538.0" r="1.9"/><circle cx="175.6" cy="530.4" r="1.9"/><circle cx="159.0" cy="543.5" r="1.9"/><circle cx="158.4" cy="549.3" r="1.9"/><circle cx="149.3" cy="543.2" r="1.9"/><circle cx="179.6" cy="503.1" r="1.9"/><circle cx="189.9" cy="489.6" r="1.9"/><circle cx="176.0" cy="524.3" r="1.9"/><circle cx="155.7" cy="535.9" r="1.9"/><circle cx="171.7" cy="514.8" r="1.9"/><circle cx="164.6" cy="534.4" r="1.9"/><circle cx="176.8" cy="517.0" r="1.9"/><circle cx="157.9" cy="512.6" r="1.9"/><circle cx="168.3" cy="522.4" r="1.9"/><circle cx="168.7" cy="514.5" r="1.9"/><circle cx="161.1" cy="537.4" r="1.9"/><circle cx="160.6" cy="532.6" r="1.9"/><circle cx="153.8" cy="559.5" r="1.9"/><circle cx="160.5" cy="533.4" r="1.9"/><circle cx="141.6" cy="540.8" r="1.9"/><circle cx="152.6" cy="518.7" r="1.9"/><circle cx="147.3" cy="534.4" r="1.9"/><circle cx="163.4" cy="522.4" r="1.9"/><circle cx="171.3" cy="520.7" r="1.9"/><circle cx="151.5" cy="549.8" r="1.9"/><circle cx="156.6" cy="539.2" r="1.9"/><circle cx="150.7" cy="537.2" r="1.9"/><circle cx="179.6" cy="520.9" r="1.9"/><circle cx="182.1" cy="499.1" r="1.9"/><circle cx="182.0" cy="520.5" r="1.9"/><circle cx="171.4" cy="540.9" r="1.9"/><circle cx="189.8" cy="512.2" r="1.9"/><circle cx="156.1" cy="556.4" r="1.9"/><circle cx="192.3" cy="513.5" r="1.9"/><circle cx="151.5" cy="530.6" r="1.9"/><circle cx="132.2" cy="566.5" r="1.9"/><circle cx="197.9" cy="489.7" r="1.9"/><circle cx="179.3" cy="499.7" r="1.9"/><circle cx="146.1" cy="535.1" r="1.9"/><circle cx="170.8" cy="527.4" r="1.9"/><circle cx="155.9" cy="523.5" r="1.9"/><circle cx="165.1" cy="523.9" r="1.9"/><circle cx="147.3" cy="547.6" r="1.9"/><circle cx="155.0" cy="534.4" r="1.9"/><circle cx="179.6" cy="527.9" r="1.9"/><circle cx="173.0" cy="528.1" r="1.9"/><circle cx="181.5" cy="511.3" r="1.9"/><circle cx="163.6" cy="523.1" r="1.9"/><circle cx="197.4" cy="496.8" r="1.9"/><circle cx="157.7" cy="537.7" r="1.9"/><circle cx="163.8" cy="518.8" r="1.9"/><circle cx="134.2" cy="546.5" r="1.9"/><circle cx="146.0" cy="540.6" r="1.9"/><circle cx="175.6" cy="502.6" r="1.9"/><circle cx="156.3" cy="542.2" r="1.9"/><circle cx="174.3" cy="521.5" r="1.9"/><circle cx="163.4" cy="526.5" r="1.9"/><circle cx="154.5" cy="543.1" r="1.9"/><circle cx="164.4" cy="534.6" r="1.9"/><circle cx="150.4" cy="526.1" r="1.9"/><circle cx="160.9" cy="535.0" r="1.9"/><circle cx="180.7" cy="521.7" r="1.9"/><circle cx="171.4" cy="515.8" r="1.9"/><circle cx="148.6" cy="526.0" r="1.9"/><circle cx="154.1" cy="539.3" r="1.9"/><circle cx="162.7" cy="517.2" r="1.9"/><circle cx="167.1" cy="530.8" r="1.9"/><circle cx="181.5" cy="515.6" r="1.9"/><circle cx="203.0" cy="494.2" r="1.9"/><circle cx="177.3" cy="516.4" r="1.9"/><circle cx="155.4" cy="518.5" r="1.9"/><circle cx="170.1" cy="535.4" r="1.9"/><circle cx="146.2" cy="530.8" r="1.9"/><circle cx="160.1" cy="544.8" r="1.9"/><circle cx="154.7" cy="542.2" r="1.9"/><circle cx="156.4" cy="528.5" r="1.9"/><circle cx="157.1" cy="530.0" r="1.9"/><circle cx="173.7" cy="515.6" r="1.9"/><circle cx="170.0" cy="541.0" r="1.9"/><circle cx="161.5" cy="528.1" r="1.9"/><circle cx="156.3" cy="549.1" r="1.9"/><circle cx="172.4" cy="491.8" r="1.9"/><circle cx="173.4" cy="521.3" r="1.9"/><circle cx="187.3" cy="501.7" r="1.9"/><circle cx="182.2" cy="522.0" r="1.9"/><circle cx="187.2" cy="509.1" r="1.9"/><circle cx="169.9" cy="537.1" r="1.9"/><circle cx="169.5" cy="512.5" r="1.9"/><circle cx="201.2" cy="491.3" r="1.9"/><circle cx="147.5" cy="541.3" r="1.9"/><circle cx="184.4" cy="514.5" r="1.9"/><circle cx="189.9" cy="506.4" r="1.9"/><circle cx="164.1" cy="515.0" r="1.9"/><circle cx="180.9" cy="521.6" r="1.9"/><circle cx="191.9" cy="518.7" r="1.9"/><circle cx="155.3" cy="534.4" r="1.9"/><circle cx="177.4" cy="527.2" r="1.9"/><circle cx="157.2" cy="541.7" r="1.9"/><circle cx="152.3" cy="532.2" r="1.9"/><circle cx="162.5" cy="540.0" r="1.9"/><circle cx="159.3" cy="524.9" r="1.9"/><circle cx="171.6" cy="528.6" r="1.9"/><circle cx="163.5" cy="513.4" r="1.9"/><circle cx="140.5" cy="540.6" r="1.9"/><circle cx="193.9" cy="501.7" r="1.9"/><circle cx="181.9" cy="512.0" r="1.9"/><circle cx="179.8" cy="521.2" r="1.9"/><circle cx="160.2" cy="531.3" r="1.9"/><circle cx="158.5" cy="522.7" r="1.9"/><circle cx="180.9" cy="526.8" r="1.9"/><circle cx="166.1" cy="516.9" r="1.9"/><circle cx="151.7" cy="557.5" r="1.9"/><circle cx="180.2" cy="521.1" r="1.9"/><circle cx="213.2" cy="495.1" r="1.9"/><circle cx="130.6" cy="542.8" r="1.9"/><circle cx="178.4" cy="512.9" r="1.9"/><circle cx="169.3" cy="520.8" r="1.9"/><circle cx="168.2" cy="532.2" r="1.9"/><circle cx="177.7" cy="502.6" r="1.9"/><circle cx="162.3" cy="554.5" r="1.9"/><circle cx="167.9" cy="524.8" r="1.9"/><circle cx="172.6" cy="495.5" r="1.9"/><circle cx="165.5" cy="531.9" r="1.9"/><circle cx="160.5" cy="533.1" r="1.9"/><circle cx="163.7" cy="522.3" r="1.9"/><circle cx="164.7" cy="537.6" r="1.9"/><circle cx="185.7" cy="505.3" r="1.9"/><circle cx="149.0" cy="535.3" r="1.9"/><circle cx="176.1" cy="513.9" r="1.9"/><circle cx="147.8" cy="543.1" r="1.9"/><circle cx="176.5" cy="519.5" r="1.9"/><circle cx="162.8" cy="527.1" r="1.9"/><circle cx="132.4" cy="563.5" r="1.9"/><circle cx="157.8" cy="520.0" r="1.9"/><circle cx="148.2" cy="538.7" r="1.9"/><circle cx="161.5" cy="534.7" r="1.9"/><circle cx="199.2" cy="517.7" r="1.9"/><circle cx="147.6" cy="539.5" r="1.9"/><circle cx="148.1" cy="538.5" r="1.9"/><circle cx="189.5" cy="511.5" r="1.9"/><circle cx="178.4" cy="535.6" r="1.9"/><circle cx="192.1" cy="511.2" r="1.9"/><circle cx="165.0" cy="518.0" r="1.9"/><circle cx="160.4" cy="545.0" r="1.9"/><circle cx="167.6" cy="530.5" r="1.9"/><circle cx="180.5" cy="508.8" r="1.9"/><circle cx="171.3" cy="507.8" r="1.9"/><circle cx="166.0" cy="527.3" r="1.9"/><circle cx="167.1" cy="527.1" r="1.9"/><circle cx="167.5" cy="531.6" r="1.9"/><circle cx="149.5" cy="527.3" r="1.9"/><circle cx="184.9" cy="494.6" r="1.9"/><circle cx="166.5" cy="527.6" r="1.9"/><circle cx="159.1" cy="550.2" r="1.9"/><circle cx="164.1" cy="537.9" r="1.9"/><circle cx="172.1" cy="514.1" r="1.9"/><circle cx="178.2" cy="521.8" r="1.9"/><circle cx="159.2" cy="524.7" r="1.9"/><circle cx="155.3" cy="534.9" r="1.9"/><circle cx="164.6" cy="525.4" r="1.9"/><circle cx="140.8" cy="547.6" r="1.9"/><circle cx="146.4" cy="543.2" r="1.9"/><circle cx="180.9" cy="520.2" r="1.9"/><circle cx="161.6" cy="535.7" r="1.9"/><circle cx="157.9" cy="510.2" r="1.9"/><circle cx="188.3" cy="516.1" r="1.9"/><circle cx="176.9" cy="520.4" r="1.9"/><circle cx="160.3" cy="521.6" r="1.9"/><circle cx="194.2" cy="497.9" r="1.9"/><circle cx="179.0" cy="521.9" r="1.9"/><circle cx="168.7" cy="538.9" r="1.9"/><circle cx="172.4" cy="514.2" r="1.9"/><circle cx="165.6" cy="516.4" r="1.9"/><circle cx="147.2" cy="532.3" r="1.9"/><circle cx="166.6" cy="525.9" r="1.9"/><circle cx="158.0" cy="524.3" r="1.9"/><circle cx="146.3" cy="560.2" r="1.9"/><circle cx="162.8" cy="528.8" r="1.9"/><circle cx="166.0" cy="534.6" r="1.9"/><circle cx="159.3" cy="532.6" r="1.9"/><circle cx="140.6" cy="546.7" r="1.9"/><circle cx="155.5" cy="526.9" r="1.9"/><circle cx="170.9" cy="532.8" r="1.9"/><circle cx="160.3" cy="519.5" r="1.9"/><circle cx="153.9" cy="545.7" r="1.9"/><circle cx="179.7" cy="523.4" r="1.9"/><circle cx="151.2" cy="545.3" r="1.9"/><circle cx="171.1" cy="537.7" r="1.9"/><circle cx="182.7" cy="508.8" r="1.9"/><circle cx="155.4" cy="535.6" r="1.9"/><circle cx="160.5" cy="535.5" r="1.9"/><circle cx="176.8" cy="509.4" r="1.9"/><circle cx="162.7" cy="534.2" r="1.9"/><circle cx="162.1" cy="531.4" r="1.9"/><circle cx="176.7" cy="531.3" r="1.9"/><circle cx="179.2" cy="512.2" r="1.9"/><circle cx="142.3" cy="562.6" r="1.9"/><circle cx="157.7" cy="541.2" r="1.9"/><circle cx="153.5" cy="541.9" r="1.9"/><circle cx="150.9" cy="541.6" r="1.9"/><circle cx="164.0" cy="547.6" r="1.9"/><circle cx="163.8" cy="546.9" r="1.9"/><circle cx="171.5" cy="524.5" r="1.9"/><circle cx="151.9" cy="537.4" r="1.9"/><circle cx="165.5" cy="523.7" r="1.9"/><circle cx="166.2" cy="517.1" r="1.9"/><circle cx="149.4" cy="531.0" r="1.9"/><circle cx="164.9" cy="522.9" r="1.9"/><circle cx="187.0" cy="504.3" r="1.9"/><circle cx="175.7" cy="527.9" r="1.9"/><circle cx="163.0" cy="541.0" r="1.9"/><circle cx="167.7" cy="530.5" r="1.9"/><circle cx="152.7" cy="538.8" r="1.9"/><circle cx="168.2" cy="522.3" r="1.9"/><circle cx="176.9" cy="515.1" r="1.9"/><circle cx="156.3" cy="539.5" r="1.9"/><circle cx="159.8" cy="527.0" r="1.9"/><circle cx="179.0" cy="510.6" r="1.9"/><circle cx="157.9" cy="532.7" r="1.9"/><circle cx="166.6" cy="523.1" r="1.9"/><circle cx="155.8" cy="544.4" r="1.9"/><circle cx="161.1" cy="543.9" r="1.9"/><circle cx="156.7" cy="532.0" r="1.9"/><circle cx="190.9" cy="495.2" r="1.9"/><circle cx="162.0" cy="534.0" r="1.9"/><circle cx="161.6" cy="536.6" r="1.9"/><circle cx="146.3" cy="523.6" r="1.9"/><circle cx="168.0" cy="533.3" r="1.9"/><circle cx="175.3" cy="519.3" r="1.9"/><circle cx="166.8" cy="523.3" r="1.9"/><circle cx="198.0" cy="504.7" r="1.9"/><circle cx="168.0" cy="523.7" r="1.9"/><circle cx="174.1" cy="498.3" r="1.9"/><circle cx="164.2" cy="518.8" r="1.9"/><circle cx="170.0" cy="515.7" r="1.9"/><circle cx="144.6" cy="544.1" r="1.9"/><circle cx="163.7" cy="528.4" r="1.9"/><circle cx="159.8" cy="523.4" r="1.9"/><circle cx="163.7" cy="531.4" r="1.9"/><circle cx="141.3" cy="559.0" r="1.9"/><circle cx="176.4" cy="514.6" r="1.9"/><circle cx="156.1" cy="528.0" r="1.9"/><circle cx="158.6" cy="531.6" r="1.9"/><circle cx="159.0" cy="527.4" r="1.9"/><circle cx="174.2" cy="540.5" r="1.9"/><circle cx="164.4" cy="515.7" r="1.9"/><circle cx="137.1" cy="533.0" r="1.9"/><circle cx="146.9" cy="533.4" r="1.9"/><circle cx="171.3" cy="524.8" r="1.9"/><circle cx="172.4" cy="529.5" r="1.9"/><circle cx="159.7" cy="531.0" r="1.9"/><circle cx="164.2" cy="540.1" r="1.9"/><circle cx="151.5" cy="535.1" r="1.9"/><circle cx="168.1" cy="530.7" r="1.9"/><circle cx="175.4" cy="506.2" r="1.9"/><circle cx="145.2" cy="535.0" r="1.9"/><circle cx="196.2" cy="516.5" r="1.9"/><circle cx="174.9" cy="514.2" r="1.9"/><circle cx="164.1" cy="537.0" r="1.9"/><circle cx="183.5" cy="523.5" r="1.9"/><circle cx="151.0" cy="550.5" r="1.9"/><circle cx="145.5" cy="552.2" r="1.9"/><circle cx="144.1" cy="539.8" r="1.9"/><circle cx="169.2" cy="540.5" r="1.9"/><circle cx="156.1" cy="526.5" r="1.9"/><circle cx="148.4" cy="524.2" r="1.9"/><circle cx="163.9" cy="522.9" r="1.9"/><circle cx="136.2" cy="553.9" r="1.9"/><circle cx="172.2" cy="520.5" r="1.9"/><circle cx="154.6" cy="552.6" r="1.9"/><circle cx="154.7" cy="533.7" r="1.9"/><circle cx="158.6" cy="531.0" r="1.9"/><circle cx="147.4" cy="539.5" r="1.9"/><circle cx="134.6" cy="533.3" r="1.9"/><circle cx="149.3" cy="537.4" r="1.9"/><circle cx="163.4" cy="525.3" r="1.9"/><circle cx="164.7" cy="511.3" r="1.9"/><circle cx="180.4" cy="526.2" r="1.9"/><circle cx="159.8" cy="546.6" r="1.9"/><circle cx="158.1" cy="540.0" r="1.9"/><circle cx="158.0" cy="543.2" r="1.9"/><circle cx="167.7" cy="517.6" r="1.9"/><circle cx="142.2" cy="556.9" r="1.9"/><circle cx="171.8" cy="501.5" r="1.9"/><circle cx="151.5" cy="526.3" r="1.9"/><circle cx="151.9" cy="534.2" r="1.9"/><circle cx="172.3" cy="524.5" r="1.9"/><circle cx="175.5" cy="510.0" r="1.9"/><circle cx="165.7" cy="518.5" r="1.9"/><circle cx="185.0" cy="518.1" r="1.9"/><circle cx="165.7" cy="523.6" r="1.9"/><circle cx="177.4" cy="506.8" r="1.9"/><circle cx="180.3" cy="509.0" r="1.9"/><circle cx="156.0" cy="520.8" r="1.9"/><circle cx="177.3" cy="501.4" r="1.9"/><circle cx="172.5" cy="529.1" r="1.9"/><circle cx="166.3" cy="525.4" r="1.9"/><circle cx="159.0" cy="544.1" r="1.9"/><circle cx="159.1" cy="528.3" r="1.9"/><circle cx="180.4" cy="520.9" r="1.9"/><circle cx="144.4" cy="540.7" r="1.9"/><circle cx="171.9" cy="516.4" r="1.9"/><circle cx="164.9" cy="517.6" r="1.9"/><circle cx="170.2" cy="524.1" r="1.9"/><circle cx="146.3" cy="564.9" r="1.9"/><circle cx="154.9" cy="519.8" r="1.9"/><circle cx="175.0" cy="519.2" r="1.9"/><circle cx="148.8" cy="530.9" r="1.9"/><circle cx="164.7" cy="523.8" r="1.9"/><circle cx="132.4" cy="556.6" r="1.9"/><circle cx="164.3" cy="508.9" r="1.9"/><circle cx="155.8" cy="534.7" r="1.9"/><circle cx="169.1" cy="508.3" r="1.9"/><circle cx="151.0" cy="560.0" r="1.9"/><circle cx="169.8" cy="513.4" r="1.9"/><circle cx="164.3" cy="531.7" r="1.9"/><circle cx="176.8" cy="516.8" r="1.9"/><circle cx="154.3" cy="539.9" r="1.9"/><circle cx="156.3" cy="534.0" r="1.9"/><circle cx="184.9" cy="488.1" r="1.9"/><circle cx="165.7" cy="547.9" r="1.9"/><circle cx="156.8" cy="536.7" r="1.9"/><circle cx="166.4" cy="534.6" r="1.9"/><circle cx="146.7" cy="535.5" r="1.9"/><circle cx="183.2" cy="513.0" r="1.9"/><circle cx="185.0" cy="501.2" r="1.9"/><circle cx="159.3" cy="538.9" r="1.9"/><circle cx="140.6" cy="547.6" r="1.9"/><circle cx="175.0" cy="506.0" r="1.9"/><circle cx="182.0" cy="514.0" r="1.9"/><circle cx="175.9" cy="515.7" r="1.9"/><circle cx="188.2" cy="518.4" r="1.9"/><circle cx="153.4" cy="537.6" r="1.9"/><circle cx="159.1" cy="525.3" r="1.9"/><circle cx="151.7" cy="549.1" r="1.9"/><circle cx="142.0" cy="541.1" r="1.9"/><circle cx="189.6" cy="524.1" r="1.9"/><circle cx="167.7" cy="545.7" r="1.9"/><circle cx="202.1" cy="502.8" r="1.9"/><circle cx="169.5" cy="528.6" r="1.9"/><circle cx="157.8" cy="536.0" r="1.9"/><circle cx="176.3" cy="516.7" r="1.9"/><circle cx="188.8" cy="502.8" r="1.9"/><circle cx="168.0" cy="516.9" r="1.9"/><circle cx="153.3" cy="546.3" r="1.9"/><circle cx="177.5" cy="528.5" r="1.9"/><circle cx="190.0" cy="514.5" r="1.9"/><circle cx="148.1" cy="523.5" r="1.9"/><circle cx="169.2" cy="549.6" r="1.9"/><circle cx="179.6" cy="514.1" r="1.9"/><circle cx="159.6" cy="518.0" r="1.9"/><circle cx="149.5" cy="540.0" r="1.9"/><circle cx="165.7" cy="536.6" r="1.9"/><circle cx="156.5" cy="537.6" r="1.9"/><circle cx="164.9" cy="518.8" r="1.9"/><circle cx="160.6" cy="519.7" r="1.9"/><circle cx="185.3" cy="515.9" r="1.9"/><circle cx="170.6" cy="513.7" r="1.9"/><circle cx="145.0" cy="547.5" r="1.9"/><circle cx="164.9" cy="516.1" r="1.9"/><circle cx="169.5" cy="507.9" r="1.9"/><circle cx="173.5" cy="522.7" r="1.9"/><circle cx="186.8" cy="520.3" r="1.9"/><circle cx="156.9" cy="532.8" r="1.9"/><circle cx="144.2" cy="531.4" r="1.9"/><circle cx="173.8" cy="511.0" r="1.9"/><circle cx="151.3" cy="540.7" r="1.9"/><circle cx="125.7" cy="544.9" r="1.9"/><circle cx="184.5" cy="518.3" r="1.9"/><circle cx="151.9" cy="532.7" r="1.9"/><circle cx="165.2" cy="534.3" r="1.9"/><circle cx="148.2" cy="546.2" r="1.9"/><circle cx="148.8" cy="545.0" r="1.9"/><circle cx="143.1" cy="535.6" r="1.9"/><circle cx="166.6" cy="536.9" r="1.9"/><circle cx="173.5" cy="524.8" r="1.9"/><circle cx="145.9" cy="566.8" r="1.9"/><circle cx="172.7" cy="514.5" r="1.9"/><circle cx="153.7" cy="545.8" r="1.9"/><circle cx="150.3" cy="539.8" r="1.9"/><circle cx="180.3" cy="523.3" r="1.9"/><circle cx="167.0" cy="530.1" r="1.9"/><circle cx="141.0" cy="543.2" r="1.9"/><circle cx="190.0" cy="502.7" r="1.9"/><circle cx="151.7" cy="536.0" r="1.9"/><circle cx="166.1" cy="521.2" r="1.9"/><circle cx="170.4" cy="526.3" r="1.9"/><circle cx="192.2" cy="515.6" r="1.9"/><circle cx="154.8" cy="528.6" r="1.9"/><circle cx="177.6" cy="512.5" r="1.9"/><circle cx="151.2" cy="532.5" r="1.9"/><circle cx="191.1" cy="521.9" r="1.9"/><circle cx="165.5" cy="546.0" r="1.9"/><circle cx="173.2" cy="542.9" r="1.9"/><circle cx="194.5" cy="505.5" r="1.9"/><circle cx="164.2" cy="517.7" r="1.9"/><circle cx="164.2" cy="522.9" r="1.9"/><circle cx="194.2" cy="496.6" r="1.9"/><circle cx="169.7" cy="521.6" r="1.9"/><circle cx="151.5" cy="534.7" r="1.9"/><circle cx="176.8" cy="518.6" r="1.9"/><circle cx="149.0" cy="541.5" r="1.9"/><circle cx="179.3" cy="511.0" r="1.9"/><circle cx="193.1" cy="521.6" r="1.9"/><circle cx="160.9" cy="537.0" r="1.9"/><circle cx="150.6" cy="529.1" r="1.9"/><circle cx="170.3" cy="526.8" r="1.9"/><circle cx="166.9" cy="527.8" r="1.9"/><circle cx="157.0" cy="543.7" r="1.9"/><circle cx="175.7" cy="521.9" r="1.9"/><circle cx="134.2" cy="549.7" r="1.9"/><circle cx="162.0" cy="534.5" r="1.9"/><circle cx="166.5" cy="537.9" r="1.9"/><circle cx="179.6" cy="546.6" r="1.9"/><circle cx="172.9" cy="525.9" r="1.9"/><circle cx="161.4" cy="554.0" r="1.9"/><circle cx="183.3" cy="528.3" r="1.9"/><circle cx="159.3" cy="525.7" r="1.9"/><circle cx="153.9" cy="532.6" r="1.9"/><circle cx="159.4" cy="555.6" r="1.9"/><circle cx="146.4" cy="539.3" r="1.9"/><circle cx="167.9" cy="520.0" r="1.9"/><circle cx="158.2" cy="544.4" r="1.9"/><circle cx="162.7" cy="522.7" r="1.9"/><circle cx="188.2" cy="520.8" r="1.9"/><circle cx="185.5" cy="519.1" r="1.9"/><circle cx="193.4" cy="513.0" r="1.9"/><circle cx="168.3" cy="536.9" r="1.9"/><circle cx="147.5" cy="537.8" r="1.9"/><circle cx="186.0" cy="519.9" r="1.9"/><circle cx="176.1" cy="528.7" r="1.9"/><circle cx="185.2" cy="516.5" r="1.9"/><circle cx="165.0" cy="526.1" r="1.9"/><circle cx="182.8" cy="512.5" r="1.9"/><circle cx="171.8" cy="511.3" r="1.9"/><circle cx="178.8" cy="520.9" r="1.9"/><circle cx="179.3" cy="526.8" r="1.9"/><circle cx="173.7" cy="524.3" r="1.9"/><circle cx="168.6" cy="523.9" r="1.9"/><circle cx="173.9" cy="528.8" r="1.9"/><circle cx="176.8" cy="512.3" r="1.9"/><circle cx="149.5" cy="525.2" r="1.9"/><circle cx="190.9" cy="506.3" r="1.9"/><circle cx="164.4" cy="528.5" r="1.9"/><circle cx="170.9" cy="507.0" r="1.9"/><circle cx="168.4" cy="531.8" r="1.9"/><circle cx="167.6" cy="534.9" r="1.9"/><circle cx="197.5" cy="504.8" r="1.9"/><circle cx="159.9" cy="529.6" r="1.9"/><circle cx="147.2" cy="542.3" r="1.9"/><circle cx="157.9" cy="537.9" r="1.9"/><circle cx="161.8" cy="531.5" r="1.9"/><circle cx="186.0" cy="491.3" r="1.9"/><circle cx="163.8" cy="520.1" r="1.9"/><circle cx="185.4" cy="521.5" r="1.9"/><circle cx="153.5" cy="541.2" r="1.9"/><circle cx="169.9" cy="522.0" r="1.9"/><circle cx="170.5" cy="514.5" r="1.9"/><circle cx="189.8" cy="503.7" r="1.9"/><circle cx="160.9" cy="540.2" r="1.9"/><circle cx="176.1" cy="521.4" r="1.9"/><circle cx="179.6" cy="532.1" r="1.9"/><circle cx="153.4" cy="541.6" r="1.9"/><circle cx="169.1" cy="530.6" r="1.9"/><circle cx="160.2" cy="528.7" r="1.9"/><circle cx="142.6" cy="564.5" r="1.9"/><circle cx="176.0" cy="521.3" r="1.9"/><circle cx="178.2" cy="524.9" r="1.9"/><circle cx="166.5" cy="538.8" r="1.9"/><circle cx="145.5" cy="542.3" r="1.9"/><circle cx="187.2" cy="509.4" r="1.9"/><circle cx="167.0" cy="521.5" r="1.9"/><circle cx="185.0" cy="519.0" r="1.9"/><circle cx="183.2" cy="507.5" r="1.9"/><circle cx="168.9" cy="543.0" r="1.9"/><circle cx="178.9" cy="518.6" r="1.9"/><circle cx="165.9" cy="533.3" r="1.9"/><circle cx="162.1" cy="525.4" r="1.9"/><circle cx="164.1" cy="527.7" r="1.9"/><circle cx="167.1" cy="528.3" r="1.9"/><circle cx="175.5" cy="507.9" r="1.9"/><circle cx="166.6" cy="524.8" r="1.9"/><circle cx="161.3" cy="526.9" r="1.9"/><circle cx="158.5" cy="527.4" r="1.9"/><circle cx="170.8" cy="523.1" r="1.9"/><circle cx="156.6" cy="541.2" r="1.9"/><circle cx="158.1" cy="532.7" r="1.9"/><circle cx="167.8" cy="530.3" r="1.9"/><circle cx="156.9" cy="533.3" r="1.9"/><circle cx="158.6" cy="523.6" r="1.9"/><circle cx="153.8" cy="531.6" r="1.9"/><circle cx="193.4" cy="501.8" r="1.9"/><circle cx="189.9" cy="515.6" r="1.9"/><circle cx="172.1" cy="521.6" r="1.9"/><circle cx="166.2" cy="528.8" r="1.9"/><circle cx="187.5" cy="491.8" r="1.9"/><circle cx="172.3" cy="524.9" r="1.9"/><circle cx="166.2" cy="529.7" r="1.9"/><circle cx="165.9" cy="519.6" r="1.9"/><circle cx="172.6" cy="525.6" r="1.9"/><circle cx="184.7" cy="508.9" r="1.9"/><circle cx="156.5" cy="519.2" r="1.9"/><circle cx="184.3" cy="491.2" r="1.9"/><circle cx="151.7" cy="536.5" r="1.9"/><circle cx="173.4" cy="516.6" r="1.9"/><circle cx="159.0" cy="546.1" r="1.9"/><circle cx="185.9" cy="499.7" r="1.9"/><circle cx="161.7" cy="531.7" r="1.9"/><circle cx="164.2" cy="527.2" r="1.9"/><circle cx="180.6" cy="517.4" r="1.9"/><circle cx="182.0" cy="510.3" r="1.9"/><circle cx="153.3" cy="543.7" r="1.9"/><circle cx="160.1" cy="530.7" r="1.9"/><circle cx="140.9" cy="539.5" r="1.9"/><circle cx="165.9" cy="523.8" r="1.9"/><circle cx="174.0" cy="537.2" r="1.9"/><circle cx="167.2" cy="537.1" r="1.9"/><circle cx="166.3" cy="544.8" r="1.9"/><circle cx="165.7" cy="536.7" r="1.9"/><circle cx="153.8" cy="535.0" r="1.9"/><circle cx="170.6" cy="518.2" r="1.9"/><circle cx="188.5" cy="509.6" r="1.9"/><circle cx="140.6" cy="552.7" r="1.9"/><circle cx="168.9" cy="532.9" r="1.9"/><circle cx="168.8" cy="540.3" r="1.9"/><circle cx="180.1" cy="527.7" r="1.9"/><circle cx="159.0" cy="544.9" r="1.9"/><circle cx="156.5" cy="522.4" r="1.9"/><circle cx="160.5" cy="548.5" r="1.9"/><circle cx="168.1" cy="511.7" r="1.9"/><circle cx="160.1" cy="519.5" r="1.9"/><circle cx="165.2" cy="530.6" r="1.9"/><circle cx="171.1" cy="522.6" r="1.9"/><circle cx="166.5" cy="533.9" r="1.9"/><circle cx="146.9" cy="549.0" r="1.9"/><circle cx="170.0" cy="516.0" r="1.9"/><circle cx="169.8" cy="523.5" r="1.9"/><circle cx="158.8" cy="524.6" r="1.9"/><circle cx="172.0" cy="508.0" r="1.9"/><circle cx="179.6" cy="509.0" r="1.9"/><circle cx="150.7" cy="540.9" r="1.9"/><circle cx="156.8" cy="538.5" r="1.9"/><circle cx="183.7" cy="504.5" r="1.9"/><circle cx="190.1" cy="513.5" r="1.9"/><circle cx="154.7" cy="535.6" r="1.9"/><circle cx="150.3" cy="542.7" r="1.9"/><circle cx="163.0" cy="540.6" r="1.9"/><circle cx="148.1" cy="523.6" r="1.9"/><circle cx="151.7" cy="554.1" r="1.9"/><circle cx="171.4" cy="531.4" r="1.9"/><circle cx="148.7" cy="543.7" r="1.9"/><circle cx="161.7" cy="553.8" r="1.9"/><circle cx="182.0" cy="518.9" r="1.9"/><circle cx="166.0" cy="544.5" r="1.9"/><circle cx="170.6" cy="533.3" r="1.9"/><circle cx="174.8" cy="519.5" r="1.9"/><circle cx="174.6" cy="514.7" r="1.9"/><circle cx="155.9" cy="526.6" r="1.9"/><circle cx="162.3" cy="522.9" r="1.9"/><circle cx="149.4" cy="532.9" r="1.9"/><circle cx="184.9" cy="500.5" r="1.9"/><circle cx="176.9" cy="520.9" r="1.9"/><circle cx="146.3" cy="537.1" r="1.9"/><circle cx="169.0" cy="529.9" r="1.9"/><circle cx="178.5" cy="520.8" r="1.9"/><circle cx="163.8" cy="513.3" r="1.9"/><circle cx="184.8" cy="498.4" r="1.9"/><circle cx="182.2" cy="507.5" r="1.9"/><circle cx="155.3" cy="531.2" r="1.9"/><circle cx="160.3" cy="524.4" r="1.9"/><circle cx="157.7" cy="551.9" r="1.9"/><circle cx="169.9" cy="524.6" r="1.9"/><circle cx="174.6" cy="531.3" r="1.9"/><circle cx="199.4" cy="489.7" r="1.9"/><circle cx="171.1" cy="529.5" r="1.9"/><circle cx="132.5" cy="549.5" r="1.9"/><circle cx="155.0" cy="534.2" r="1.9"/><circle cx="172.1" cy="530.0" r="1.9"/><circle cx="150.6" cy="544.9" r="1.9"/><circle cx="162.0" cy="545.5" r="1.9"/><circle cx="161.4" cy="532.3" r="1.9"/><circle cx="167.5" cy="520.1" r="1.9"/><circle cx="162.7" cy="528.5" r="1.9"/><circle cx="165.7" cy="549.4" r="1.9"/><circle cx="177.9" cy="518.4" r="1.9"/><circle cx="156.7" cy="532.4" r="1.9"/><circle cx="158.3" cy="532.9" r="1.9"/><circle cx="142.6" cy="540.7" r="1.9"/><circle cx="163.5" cy="544.8" r="1.9"/><circle cx="171.5" cy="515.9" r="1.9"/><circle cx="149.6" cy="553.0" r="1.9"/><circle cx="164.3" cy="527.5" r="1.9"/><circle cx="173.0" cy="515.6" r="1.9"/><circle cx="157.7" cy="529.3" r="1.9"/><circle cx="172.4" cy="527.1" r="1.9"/><circle cx="151.2" cy="542.0" r="1.9"/><circle cx="189.1" cy="515.3" r="1.9"/><circle cx="187.8" cy="519.4" r="1.9"/><circle cx="166.1" cy="521.5" r="1.9"/><circle cx="144.6" cy="551.9" r="1.9"/><circle cx="162.1" cy="550.0" r="1.9"/><circle cx="183.1" cy="518.3" r="1.9"/><circle cx="187.6" cy="503.9" r="1.9"/><circle cx="161.4" cy="515.7" r="1.9"/><circle cx="176.1" cy="505.1" r="1.9"/><circle cx="154.2" cy="531.9" r="1.9"/><circle cx="173.7" cy="539.1" r="1.9"/><circle cx="166.8" cy="528.0" r="1.9"/><circle cx="168.9" cy="519.3" r="1.9"/><circle cx="144.9" cy="546.6" r="1.9"/><circle cx="175.7" cy="512.5" r="1.9"/><circle cx="184.1" cy="510.5" r="1.9"/><circle cx="142.2" cy="534.5" r="1.9"/><circle cx="141.1" cy="538.8" r="1.9"/><circle cx="171.2" cy="523.2" r="1.9"/><circle cx="163.4" cy="541.4" r="1.9"/><circle cx="125.3" cy="549.9" r="1.9"/><circle cx="179.4" cy="519.2" r="1.9"/><circle cx="161.6" cy="519.4" r="1.9"/><circle cx="149.8" cy="524.5" r="1.9"/><circle cx="197.9" cy="503.2" r="1.9"/><circle cx="166.4" cy="524.2" r="1.9"/><circle cx="158.7" cy="539.6" r="1.9"/><circle cx="164.7" cy="523.6" r="1.9"/><circle cx="151.5" cy="540.2" r="1.9"/><circle cx="146.0" cy="528.3" r="1.9"/><circle cx="167.8" cy="519.3" r="1.9"/><circle cx="159.4" cy="535.2" r="1.9"/><circle cx="154.4" cy="528.1" r="1.9"/><circle cx="188.6" cy="505.9" r="1.9"/><circle cx="179.0" cy="517.5" r="1.9"/><circle cx="164.0" cy="505.3" r="1.9"/><circle cx="177.4" cy="524.4" r="1.9"/><circle cx="175.0" cy="523.3" r="1.9"/><circle cx="184.2" cy="507.3" r="1.9"/><circle cx="171.8" cy="533.1" r="1.9"/><circle cx="201.1" cy="512.6" r="1.9"/><circle cx="148.5" cy="535.3" r="1.9"/><circle cx="167.4" cy="535.0" r="1.9"/><circle cx="152.0" cy="549.2" r="1.9"/><circle cx="164.0" cy="534.1" r="1.9"/><circle cx="178.1" cy="525.3" r="1.9"/><circle cx="190.3" cy="512.9" r="1.9"/><circle cx="157.1" cy="535.9" r="1.9"/><circle cx="153.1" cy="515.5" r="1.9"/><circle cx="157.7" cy="528.8" r="1.9"/><circle cx="152.9" cy="534.0" r="1.9"/><circle cx="159.7" cy="551.4" r="1.9"/><circle cx="167.1" cy="526.8" r="1.9"/><circle cx="151.1" cy="557.3" r="1.9"/><circle cx="163.4" cy="522.2" r="1.9"/><circle cx="167.8" cy="528.4" r="1.9"/><circle cx="157.8" cy="536.4" r="1.9"/><circle cx="154.1" cy="541.9" r="1.9"/><circle cx="152.1" cy="549.5" r="1.9"/><circle cx="198.1" cy="509.4" r="1.9"/><circle cx="146.3" cy="543.1" r="1.9"/><circle cx="193.4" cy="513.0" r="1.9"/><circle cx="180.3" cy="525.2" r="1.9"/><circle cx="163.3" cy="534.0" r="1.9"/><circle cx="155.7" cy="547.0" r="1.9"/><circle cx="177.9" cy="511.9" r="1.9"/><circle cx="182.3" cy="498.7" r="1.9"/><circle cx="153.2" cy="539.1" r="1.9"/><circle cx="161.4" cy="530.7" r="1.9"/><circle cx="179.3" cy="513.0" r="1.9"/><circle cx="165.7" cy="518.6" r="1.9"/><circle cx="201.5" cy="509.3" r="1.9"/><circle cx="157.1" cy="533.5" r="1.9"/><circle cx="178.2" cy="524.7" r="1.9"/><circle cx="157.4" cy="550.9" r="1.9"/><circle cx="192.5" cy="498.7" r="1.9"/><circle cx="159.2" cy="539.5" r="1.9"/><circle cx="135.4" cy="555.0" r="1.9"/><circle cx="158.6" cy="523.8" r="1.9"/><circle cx="177.3" cy="541.1" r="1.9"/><circle cx="190.6" cy="501.5" r="1.9"/><circle cx="151.2" cy="522.4" r="1.9"/><circle cx="161.3" cy="523.4" r="1.9"/><circle cx="165.7" cy="512.1" r="1.9"/><circle cx="185.5" cy="505.2" r="1.9"/><circle cx="173.4" cy="535.6" r="1.9"/><circle cx="185.5" cy="518.9" r="1.9"/><circle cx="168.8" cy="516.9" r="1.9"/><circle cx="157.3" cy="526.8" r="1.9"/><circle cx="171.2" cy="530.1" r="1.9"/><circle cx="168.1" cy="528.5" r="1.9"/><circle cx="153.3" cy="538.8" r="1.9"/><circle cx="191.1" cy="519.6" r="1.9"/><circle cx="150.8" cy="548.3" r="1.9"/><circle cx="172.0" cy="503.3" r="1.9"/><circle cx="166.2" cy="503.5" r="1.9"/><circle cx="165.7" cy="529.4" r="1.9"/><circle cx="146.6" cy="528.9" r="1.9"/><circle cx="166.3" cy="533.3" r="1.9"/><circle cx="176.6" cy="525.1" r="1.9"/><circle cx="187.9" cy="528.5" r="1.9"/><circle cx="164.6" cy="518.8" r="1.9"/><circle cx="180.7" cy="515.8" r="1.9"/><circle cx="146.4" cy="523.5" r="1.9"/><circle cx="167.4" cy="522.7" r="1.9"/><circle cx="145.6" cy="548.2" r="1.9"/><circle cx="185.8" cy="526.1" r="1.9"/><circle cx="159.9" cy="517.9" r="1.9"/><circle cx="163.0" cy="535.1" r="1.9"/><circle cx="181.7" cy="512.4" r="1.9"/><circle cx="187.1" cy="529.1" r="1.9"/><circle cx="125.9" cy="561.6" r="1.9"/><circle cx="161.3" cy="522.0" r="1.9"/><circle cx="151.4" cy="550.6" r="1.9"/><circle cx="179.1" cy="512.4" r="1.9"/><circle cx="195.2" cy="491.3" r="1.9"/><circle cx="154.4" cy="529.8" r="1.9"/><circle cx="166.6" cy="526.0" r="1.9"/><circle cx="153.6" cy="522.4" r="1.9"/><circle cx="172.0" cy="523.9" r="1.9"/><circle cx="177.6" cy="521.7" r="1.9"/><circle cx="184.9" cy="512.2" r="1.9"/><circle cx="167.9" cy="553.8" r="1.9"/><circle cx="190.4" cy="509.9" r="1.9"/><circle cx="149.0" cy="535.3" r="1.9"/><circle cx="168.2" cy="522.4" r="1.9"/><circle cx="185.2" cy="515.7" r="1.9"/><circle cx="173.2" cy="516.0" r="1.9"/><circle cx="165.6" cy="550.5" r="1.9"/><circle cx="159.0" cy="538.6" r="1.9"/><circle cx="157.5" cy="531.3" r="1.9"/><circle cx="161.7" cy="524.7" r="1.9"/><circle cx="184.9" cy="515.6" r="1.9"/><circle cx="145.0" cy="540.7" r="1.9"/><circle cx="161.8" cy="511.7" r="1.9"/><circle cx="176.2" cy="521.3" r="1.9"/><circle cx="169.1" cy="516.1" r="1.9"/><circle cx="180.6" cy="528.9" r="1.9"/><circle cx="196.0" cy="516.4" r="1.9"/><circle cx="169.0" cy="517.7" r="1.9"/><circle cx="176.7" cy="515.5" r="1.9"/><circle cx="172.2" cy="518.8" r="1.9"/><circle cx="191.9" cy="505.8" r="1.9"/><circle cx="144.1" cy="555.1" r="1.9"/><circle cx="181.6" cy="493.2" r="1.9"/><circle cx="142.7" cy="516.0" r="1.9"/><circle cx="163.6" cy="535.7" r="1.9"/><circle cx="166.5" cy="564.3" r="1.9"/><circle cx="117.4" cy="553.6" r="1.9"/><circle cx="152.7" cy="529.6" r="1.9"/><circle cx="146.1" cy="535.1" r="1.9"/><circle cx="173.8" cy="515.7" r="1.9"/><circle cx="113.2" cy="534.9" r="1.9"/><circle cx="192.5" cy="497.5" r="1.9"/><circle cx="165.9" cy="517.0" r="1.9"/><circle cx="182.3" cy="551.4" r="1.9"/><circle cx="159.6" cy="548.2" r="1.9"/><circle cx="159.3" cy="550.9" r="1.9"/><circle cx="145.6" cy="551.4" r="1.9"/><circle cx="152.4" cy="535.5" r="1.9"/><circle cx="174.9" cy="535.1" r="1.9"/><circle cx="144.1" cy="514.1" r="1.9"/><circle cx="151.7" cy="567.6" r="1.9"/><circle cx="166.5" cy="537.7" r="1.9"/><circle cx="147.1" cy="543.8" r="1.9"/><circle cx="183.3" cy="537.0" r="1.9"/><circle cx="195.2" cy="483.6" r="1.9"/><circle cx="171.3" cy="508.5" r="1.9"/><circle cx="163.8" cy="537.1" r="1.9"/><circle cx="114.9" cy="542.2" r="1.9"/><circle cx="139.0" cy="556.1" r="1.9"/><circle cx="131.7" cy="559.7" r="1.9"/><circle cx="190.7" cy="522.4" r="1.9"/><circle cx="170.6" cy="560.3" r="1.9"/><circle cx="174.6" cy="532.8" r="1.9"/><circle cx="158.4" cy="543.8" r="1.9"/><circle cx="173.2" cy="530.4" r="1.9"/><circle cx="184.3" cy="491.1" r="1.9"/><circle cx="179.9" cy="565.8" r="1.9"/><circle cx="172.6" cy="546.1" r="1.9"/><circle cx="171.5" cy="562.7" r="1.9"/><circle cx="168.1" cy="496.3" r="1.9"/><circle cx="153.5" cy="554.6" r="1.9"/><circle cx="150.9" cy="556.3" r="1.9"/><circle cx="152.6" cy="567.4" r="1.9"/><circle cx="130.1" cy="547.8" r="1.9"/><circle cx="179.9" cy="522.2" r="1.9"/><circle cx="212.3" cy="472.5" r="1.9"/><circle cx="170.2" cy="568.7" r="1.9"/><circle cx="171.4" cy="496.4" r="1.9"/><circle cx="166.8" cy="518.6" r="1.9"/><circle cx="139.7" cy="545.0" r="1.9"/><circle cx="147.7" cy="521.1" r="1.9"/><circle cx="164.2" cy="534.5" r="1.9"/><circle cx="155.3" cy="543.7" r="1.9"/><circle cx="194.8" cy="480.7" r="1.9"/><circle cx="126.0" cy="562.8" r="1.9"/><circle cx="176.3" cy="522.3" r="1.9"/><circle cx="172.2" cy="520.5" r="1.9"/><circle cx="161.1" cy="544.7" r="1.9"/><circle cx="161.4" cy="517.5" r="1.9"/><circle cx="172.6" cy="500.3" r="1.9"/><circle cx="169.3" cy="524.5" r="1.9"/><circle cx="153.6" cy="500.3" r="1.9"/><circle cx="196.4" cy="528.8" r="1.9"/><circle cx="130.9" cy="572.0" r="1.9"/><circle cx="175.3" cy="480.1" r="1.9"/><circle cx="213.9" cy="484.9" r="1.9"/><circle cx="202.5" cy="523.5" r="1.9"/><circle cx="170.1" cy="492.8" r="1.9"/><circle cx="134.0" cy="551.3" r="1.9"/><circle cx="177.4" cy="542.1" r="1.9"/><circle cx="142.7" cy="536.7" r="1.9"/><circle cx="166.7" cy="550.1" r="1.9"/><circle cx="199.4" cy="521.2" r="1.9"/><circle cx="153.0" cy="545.8" r="1.9"/><circle cx="169.3" cy="535.2" r="1.9"/><circle cx="142.7" cy="578.1" r="1.9"/><circle cx="167.5" cy="534.7" r="1.9"/><circle cx="179.2" cy="535.9" r="1.9"/><circle cx="152.6" cy="541.7" r="1.9"/><circle cx="153.2" cy="542.8" r="1.9"/><circle cx="193.6" cy="481.3" r="1.9"/><circle cx="148.8" cy="557.2" r="1.9"/><circle cx="161.4" cy="562.7" r="1.9"/><circle cx="165.8" cy="557.6" r="1.9"/><circle cx="191.7" cy="505.4" r="1.9"/><circle cx="188.9" cy="468.9" r="1.9"/><circle cx="163.3" cy="512.4" r="1.9"/><circle cx="160.1" cy="548.9" r="1.9"/><circle cx="148.0" cy="527.1" r="1.9"/><circle cx="199.2" cy="517.4" r="1.9"/><circle cx="138.1" cy="536.3" r="1.9"/><circle cx="198.0" cy="501.6" r="1.9"/><circle cx="184.6" cy="490.8" r="1.9"/><circle cx="160.9" cy="520.0" r="1.9"/><circle cx="181.6" cy="517.2" r="1.9"/><circle cx="176.9" cy="509.0" r="1.9"/><circle cx="207.4" cy="506.3" r="1.9"/><circle cx="147.5" cy="550.1" r="1.9"/><circle cx="176.7" cy="492.5" r="1.9"/><circle cx="114.1" cy="494.4" r="1.9"/><circle cx="144.3" cy="536.5" r="1.9"/><circle cx="167.4" cy="524.7" r="1.9"/><circle cx="173.6" cy="542.3" r="1.9"/><circle cx="136.2" cy="537.5" r="1.9"/><circle cx="154.7" cy="577.3" r="1.9"/><circle cx="157.6" cy="555.2" r="1.9"/><circle cx="189.8" cy="494.1" r="1.9"/><circle cx="216.6" cy="499.3" r="1.9"/><circle cx="161.6" cy="498.8" r="1.9"/><circle cx="176.6" cy="492.3" r="1.9"/><circle cx="163.0" cy="544.1" r="1.9"/><circle cx="171.1" cy="534.9" r="1.9"/><circle cx="186.3" cy="535.1" r="1.9"/><circle cx="161.6" cy="564.1" r="1.9"/><circle cx="143.0" cy="543.7" r="1.9"/><circle cx="161.4" cy="519.4" r="1.9"/><circle cx="156.5" cy="530.8" r="1.9"/><circle cx="143.5" cy="547.0" r="1.9"/><circle cx="179.9" cy="525.4" r="1.9"/><circle cx="157.5" cy="529.5" r="1.9"/><circle cx="201.9" cy="521.4" r="1.9"/><circle cx="166.2" cy="527.7" r="1.9"/><circle cx="144.5" cy="519.1" r="1.9"/><circle cx="154.2" cy="511.8" r="1.9"/><circle cx="168.3" cy="535.9" r="1.9"/><circle cx="157.6" cy="544.8" r="1.9"/><circle cx="143.7" cy="522.2" r="1.9"/><circle cx="160.7" cy="494.3" r="1.9"/><circle cx="195.1" cy="529.4" r="1.9"/><circle cx="195.3" cy="505.4" r="1.9"/><circle cx="132.1" cy="560.3" r="1.9"/><circle cx="145.6" cy="523.6" r="1.9"/><circle cx="167.9" cy="544.7" r="1.9"/><circle cx="162.6" cy="517.7" r="1.9"/><circle cx="161.3" cy="540.0" r="1.9"/><circle cx="130.5" cy="514.4" r="1.9"/><circle cx="176.4" cy="507.2" r="1.9"/><circle cx="171.3" cy="525.4" r="1.9"/><circle cx="148.2" cy="555.1" r="1.9"/><circle cx="179.8" cy="489.6" r="1.9"/><circle cx="177.6" cy="500.3" r="1.9"/><circle cx="167.6" cy="550.4" r="1.9"/><circle cx="179.6" cy="508.4" r="1.9"/><circle cx="167.4" cy="556.3" r="1.9"/><circle cx="195.9" cy="512.1" r="1.9"/><circle cx="176.7" cy="545.2" r="1.9"/><circle cx="166.0" cy="557.6" r="1.9"/><circle cx="167.0" cy="542.3" r="1.9"/><circle cx="162.9" cy="553.3" r="1.9"/><circle cx="164.2" cy="518.4" r="1.9"/><circle cx="160.9" cy="516.1" r="1.9"/><circle cx="169.7" cy="529.4" r="1.9"/><circle cx="168.3" cy="550.4" r="1.9"/><circle cx="88.8" cy="595.2" r="1.9"/><circle cx="190.6" cy="546.1" r="1.9"/><circle cx="152.2" cy="586.2" r="1.9"/><circle cx="163.0" cy="515.3" r="1.9"/><circle cx="180.4" cy="497.8" r="1.9"/><circle cx="160.8" cy="512.3" r="1.9"/><circle cx="161.5" cy="537.9" r="1.9"/><circle cx="177.0" cy="544.1" r="1.9"/><circle cx="169.6" cy="535.6" r="1.9"/><circle cx="149.8" cy="533.3" r="1.9"/><circle cx="163.9" cy="547.4" r="1.9"/><circle cx="156.8" cy="553.8" r="1.9"/><circle cx="204.2" cy="517.2" r="1.9"/><circle cx="179.0" cy="539.7" r="1.9"/><circle cx="175.0" cy="499.5" r="1.9"/><circle cx="156.7" cy="528.3" r="1.9"/><circle cx="180.6" cy="537.9" r="1.9"/><circle cx="175.2" cy="542.1" r="1.9"/><circle cx="181.3" cy="523.8" r="1.9"/><circle cx="175.9" cy="505.1" r="1.9"/><circle cx="183.8" cy="534.5" r="1.9"/><circle cx="155.6" cy="543.3" r="1.9"/><circle cx="175.5" cy="565.3" r="1.9"/><circle cx="211.5" cy="506.1" r="1.9"/><circle cx="156.5" cy="529.2" r="1.9"/><circle cx="151.0" cy="524.7" r="1.9"/><circle cx="206.7" cy="509.1" r="1.9"/><circle cx="195.4" cy="513.0" r="1.9"/><circle cx="167.6" cy="508.7" r="1.9"/><circle cx="163.2" cy="539.8" r="1.9"/><circle cx="216.6" cy="484.6" r="1.9"/><circle cx="168.1" cy="514.4" r="1.9"/><circle cx="174.5" cy="514.4" r="1.9"/><circle cx="150.9" cy="520.0" r="1.9"/><circle cx="131.1" cy="548.9" r="1.9"/><circle cx="147.7" cy="561.0" r="1.9"/><circle cx="175.4" cy="520.5" r="1.9"/><circle cx="174.4" cy="520.2" r="1.9"/><circle cx="176.9" cy="546.3" r="1.9"/><circle cx="155.2" cy="561.6" r="1.9"/><circle cx="128.6" cy="547.7" r="1.9"/><circle cx="177.8" cy="550.4" r="1.9"/><circle cx="128.1" cy="547.7" r="1.9"/><circle cx="180.1" cy="506.3" r="1.9"/><circle cx="189.6" cy="505.3" r="1.9"/><circle cx="213.6" cy="463.9" r="1.9"/><circle cx="177.6" cy="504.8" r="1.9"/><circle cx="141.9" cy="527.8" r="1.9"/><circle cx="154.5" cy="549.7" r="1.9"/><circle cx="104.1" cy="601.2" r="1.9"/><circle cx="157.9" cy="542.4" r="1.9"/><circle cx="142.3" cy="512.4" r="1.9"/><circle cx="174.1" cy="498.2" r="1.9"/><circle cx="188.1" cy="524.3" r="1.9"/><circle cx="181.1" cy="518.9" r="1.9"/><circle cx="178.2" cy="530.3" r="1.9"/><circle cx="178.6" cy="513.9" r="1.9"/><circle cx="191.2" cy="495.6" r="1.9"/><circle cx="121.0" cy="526.6" r="1.9"/><circle cx="178.0" cy="555.4" r="1.9"/><circle cx="128.9" cy="546.0" r="1.9"/><circle cx="191.9" cy="489.9" r="1.9"/><circle cx="198.5" cy="507.9" r="1.9"/><circle cx="182.1" cy="513.6" r="1.9"/><circle cx="149.3" cy="557.3" r="1.9"/><circle cx="169.1" cy="523.6" r="1.9"/><circle cx="150.8" cy="522.4" r="1.9"/><circle cx="184.7" cy="541.2" r="1.9"/><circle cx="148.3" cy="518.3" r="1.9"/><circle cx="180.2" cy="520.7" r="1.9"/><circle cx="142.3" cy="520.7" r="1.9"/><circle cx="177.8" cy="505.9" r="1.9"/><circle cx="157.2" cy="510.3" r="1.9"/><circle cx="154.6" cy="528.0" r="1.9"/><circle cx="152.2" cy="519.0" r="1.9"/><circle cx="157.4" cy="536.1" r="1.9"/><circle cx="190.8" cy="519.2" r="1.9"/><circle cx="153.8" cy="526.5" r="1.9"/><circle cx="164.0" cy="514.4" r="1.9"/><circle cx="135.8" cy="514.6" r="1.9"/><circle cx="160.6" cy="578.3" r="1.9"/><circle cx="185.5" cy="510.9" r="1.9"/><circle cx="134.7" cy="538.8" r="1.9"/><circle cx="192.9" cy="526.1" r="1.9"/><circle cx="176.7" cy="521.2" r="1.9"/><circle cx="111.8" cy="540.5" r="1.9"/><circle cx="132.9" cy="532.9" r="1.9"/><circle cx="166.4" cy="547.0" r="1.9"/><circle cx="135.1" cy="530.2" r="1.9"/><circle cx="232.0" cy="461.6" r="1.9"/><circle cx="219.3" cy="469.9" r="1.9"/><circle cx="107.4" cy="517.6" r="1.9"/><circle cx="95.8" cy="593.8" r="1.9"/><circle cx="101.2" cy="573.6" r="1.9"/><circle cx="103.7" cy="572.1" r="1.9"/><circle cx="107.4" cy="577.9" r="1.9"/><circle cx="139.1" cy="590.9" r="1.9"/><circle cx="154.3" cy="591.6" r="1.9"/><circle cx="113.5" cy="540.3" r="1.9"/><circle cx="117.5" cy="548.3" r="1.9"/><circle cx="117.1" cy="563.8" r="1.9"/><circle cx="123.6" cy="574.6" r="1.9"/><circle cx="125.4" cy="580.8" r="1.9"/><circle cx="192.3" cy="539.6" r="1.9"/><circle cx="201.3" cy="486.8" r="1.9"/><circle cx="183.2" cy="488.7" r="1.9"/><circle cx="213.9" cy="490.5" r="1.9"/><circle cx="206.7" cy="504.2" r="1.9"/><circle cx="139.9" cy="511.4" r="1.9"/><circle cx="159.7" cy="567.4" r="1.9"/><circle cx="168.8" cy="553.0" r="1.9"/><circle cx="183.2" cy="538.5" r="1.9"/></g>
<line x1="64.5" y1="642.5" x2="250.6" y2="456.6" stroke="#cf4b45" stroke-width="0.8" />
<line x1="327.5" y1="452.5" x2="327.5" y2="638.5" stroke="#5a5a5a" stroke-width="1" />
<line x1="325.0" y1="638.5" x2="513.3" y2="638.5" stroke="#5a5a5a" stroke-width="1" />
<line x1="325.0" y1="638.5" x2="327.5" y2="638.5" stroke="#5a5a5a" stroke-width="1" />
<line x1="327.5" y1="638.5" x2="327.5" y2="641.3" stroke="#5a5a5a" stroke-width="1" />
<line x1="325.0" y1="610.507" x2="327.5" y2="610.507" stroke="#5a5a5a" stroke-width="1" />
<line x1="355.4629" y1="638.5" x2="355.4629" y2="641.3" stroke="#5a5a5a" stroke-width="1" />
<line x1="325.0" y1="573.4929999999999" x2="327.5" y2="573.4929999999999" stroke="#5a5a5a" stroke-width="1" />
<line x1="392.4371" y1="638.5" x2="392.4371" y2="641.3" stroke="#5a5a5a" stroke-width="1" />
<line x1="325.0" y1="545.5" x2="327.5" y2="545.5" stroke="#5a5a5a" stroke-width="1" />
<line x1="420.4" y1="638.5" x2="420.4" y2="641.3" stroke="#5a5a5a" stroke-width="1" />
<line x1="325.0" y1="517.5070000000001" x2="327.5" y2="517.5070000000001" stroke="#5a5a5a" stroke-width="1" />
<line x1="448.36289999999997" y1="638.5" x2="448.36289999999997" y2="641.3" stroke="#5a5a5a" stroke-width="1" />
<line x1="325.0" y1="480.49300000000005" x2="327.5" y2="480.49300000000005" stroke="#5a5a5a" stroke-width="1" />
<line x1="485.33709999999996" y1="638.5" x2="485.33709999999996" y2="641.3" stroke="#5a5a5a" stroke-width="1" />
<line x1="325.0" y1="452.5" x2="327.5" y2="452.5" stroke="#5a5a5a" stroke-width="1" />
<line x1="513.3" y1="638.5" x2="513.3" y2="641.3" stroke="#5a5a5a" stroke-width="1" />
<text x="328.0" y="656.4" font-size="10.8" text-anchor="middle" font-weight="normal" fill="#231f20" >-1</text>
<text x="420.9" y="656.4" font-size="10.8" text-anchor="middle" font-weight="normal" fill="#231f20" >0</text>
<text x="512.8" y="656.4" font-size="10.8" text-anchor="middle" font-weight="normal" fill="#231f20" >1</text>
<text x="338" y="472.4" font-size="10.8" text-anchor="start" font-weight="normal" fill="#231f20" >– CHX</text>
<g fill="#c9c6c5"><circle cx="442.4" cy="527.6" r="1.9"/><circle cx="439.5" cy="535.1" r="1.9"/><circle cx="439.3" cy="544.9" r="1.9"/><circle cx="436.1" cy="545.5" r="1.9"/><circle cx="411.8" cy="551.6" r="1.9"/><circle cx="420.5" cy="550.4" r="1.9"/><circle cx="432.5" cy="529.9" r="1.9"/><circle cx="432.2" cy="544.5" r="1.9"/><circle cx="449.5" cy="517.2" r="1.9"/><circle cx="422.1" cy="547.3" r="1.9"/><circle cx="403.2" cy="582.1" r="1.9"/><circle cx="429.5" cy="553.9" r="1.9"/><circle cx="425.9" cy="535.5" r="1.9"/><circle cx="428.8" cy="535.4" r="1.9"/><circle cx="430.6" cy="544.9" r="1.9"/><circle cx="415.2" cy="553.3" r="1.9"/><circle cx="439.9" cy="517.5" r="1.9"/><circle cx="406.9" cy="541.9" r="1.9"/><circle cx="438.4" cy="535.7" r="1.9"/><circle cx="418.0" cy="542.5" r="1.9"/><circle cx="398.8" cy="548.0" r="1.9"/><circle cx="442.0" cy="521.4" r="1.9"/><circle cx="386.0" cy="569.3" r="1.9"/><circle cx="428.0" cy="565.4" r="1.9"/><circle cx="422.6" cy="528.5" r="1.9"/><circle cx="420.5" cy="546.4" r="1.9"/><circle cx="444.1" cy="539.8" r="1.9"/><circle cx="419.5" cy="539.0" r="1.9"/><circle cx="413.7" cy="542.7" r="1.9"/><circle cx="445.3" cy="505.6" r="1.9"/><circle cx="415.8" cy="538.7" r="1.9"/><circle cx="423.1" cy="543.7" r="1.9"/><circle cx="415.5" cy="559.9" r="1.9"/><circle cx="418.1" cy="553.9" r="1.9"/><circle cx="433.1" cy="532.5" r="1.9"/><circle cx="429.8" cy="531.6" r="1.9"/><circle cx="427.5" cy="543.6" r="1.9"/><circle cx="416.0" cy="550.8" r="1.9"/><circle cx="428.8" cy="527.6" r="1.9"/><circle cx="402.1" cy="563.4" r="1.9"/><circle cx="408.6" cy="535.2" r="1.9"/><circle cx="410.4" cy="534.6" r="1.9"/><circle cx="420.6" cy="558.4" r="1.9"/><circle cx="429.9" cy="541.8" r="1.9"/><circle cx="423.6" cy="556.7" r="1.9"/><circle cx="421.2" cy="557.9" r="1.9"/><circle cx="444.4" cy="513.6" r="1.9"/><circle cx="439.4" cy="535.6" r="1.9"/><circle cx="445.4" cy="529.5" r="1.9"/><circle cx="427.1" cy="541.8" r="1.9"/><circle cx="432.7" cy="524.0" r="1.9"/><circle cx="436.6" cy="532.0" r="1.9"/><circle cx="441.9" cy="526.0" r="1.9"/><circle cx="449.5" cy="503.9" r="1.9"/><circle cx="419.7" cy="542.1" r="1.9"/><circle cx="425.8" cy="535.4" r="1.9"/><circle cx="419.4" cy="537.4" r="1.9"/><circle cx="386.9" cy="594.7" r="1.9"/><circle cx="406.6" cy="559.5" r="1.9"/><circle cx="428.7" cy="543.9" r="1.9"/><circle cx="427.5" cy="527.5" r="1.9"/><circle cx="413.6" cy="545.2" r="1.9"/><circle cx="444.7" cy="530.3" r="1.9"/><circle cx="433.9" cy="516.9" r="1.9"/><circle cx="426.2" cy="552.4" r="1.9"/><circle cx="436.5" cy="515.8" r="1.9"/><circle cx="445.7" cy="515.8" r="1.9"/><circle cx="435.5" cy="538.8" r="1.9"/><circle cx="418.9" cy="560.0" r="1.9"/><circle cx="444.9" cy="522.1" r="1.9"/><circle cx="423.3" cy="543.4" r="1.9"/><circle cx="424.3" cy="549.7" r="1.9"/><circle cx="423.6" cy="536.7" r="1.9"/><circle cx="426.0" cy="555.1" r="1.9"/><circle cx="438.5" cy="526.2" r="1.9"/><circle cx="434.8" cy="530.2" r="1.9"/><circle cx="450.2" cy="533.0" r="1.9"/><circle cx="430.7" cy="531.5" r="1.9"/><circle cx="422.1" cy="558.0" r="1.9"/><circle cx="436.5" cy="555.1" r="1.9"/><circle cx="439.3" cy="531.8" r="1.9"/><circle cx="421.4" cy="547.7" r="1.9"/><circle cx="456.5" cy="496.2" r="1.9"/><circle cx="424.8" cy="546.7" r="1.9"/><circle cx="410.1" cy="542.1" r="1.9"/><circle cx="431.8" cy="518.2" r="1.9"/><circle cx="428.6" cy="525.4" r="1.9"/><circle cx="417.8" cy="535.1" r="1.9"/><circle cx="420.5" cy="542.5" r="1.9"/><circle cx="433.4" cy="537.7" r="1.9"/><circle cx="432.1" cy="526.3" r="1.9"/><circle cx="429.5" cy="525.8" r="1.9"/><circle cx="420.2" cy="544.0" r="1.9"/><circle cx="431.9" cy="536.2" r="1.9"/><circle cx="444.0" cy="536.7" r="1.9"/><circle cx="431.1" cy="527.2" r="1.9"/><circle cx="385.1" cy="582.1" r="1.9"/><circle cx="421.1" cy="559.5" r="1.9"/><circle cx="415.1" cy="551.3" r="1.9"/><circle cx="418.5" cy="540.8" r="1.9"/><circle cx="428.0" cy="539.0" r="1.9"/><circle cx="432.4" cy="524.5" r="1.9"/><circle cx="428.8" cy="528.8" r="1.9"/><circle cx="431.5" cy="549.8" r="1.9"/><circle cx="427.1" cy="542.1" r="1.9"/><circle cx="444.4" cy="514.3" r="1.9"/><circle cx="412.7" cy="545.1" r="1.9"/><circle cx="421.5" cy="530.1" r="1.9"/><circle cx="454.8" cy="528.4" r="1.9"/><circle cx="429.8" cy="536.5" r="1.9"/><circle cx="396.1" cy="565.9" r="1.9"/><circle cx="423.3" cy="530.0" r="1.9"/><circle cx="411.4" cy="538.3" r="1.9"/><circle cx="428.8" cy="547.0" r="1.9"/><circle cx="440.2" cy="528.2" r="1.9"/><circle cx="436.6" cy="539.5" r="1.9"/><circle cx="417.6" cy="540.8" r="1.9"/><circle cx="443.3" cy="534.9" r="1.9"/><circle cx="424.3" cy="529.3" r="1.9"/><circle cx="421.5" cy="535.1" r="1.9"/><circle cx="426.3" cy="534.5" r="1.9"/><circle cx="439.9" cy="547.8" r="1.9"/><circle cx="424.6" cy="548.9" r="1.9"/><circle cx="415.5" cy="543.8" r="1.9"/><circle cx="433.1" cy="547.4" r="1.9"/><circle cx="414.7" cy="555.4" r="1.9"/><circle cx="410.2" cy="559.0" r="1.9"/><circle cx="436.6" cy="518.7" r="1.9"/><circle cx="420.7" cy="543.0" r="1.9"/><circle cx="423.4" cy="540.0" r="1.9"/><circle cx="425.9" cy="545.0" r="1.9"/><circle cx="425.5" cy="540.6" r="1.9"/><circle cx="426.2" cy="541.3" r="1.9"/><circle cx="422.1" cy="536.6" r="1.9"/><circle cx="416.2" cy="553.0" r="1.9"/><circle cx="431.2" cy="523.1" r="1.9"/><circle cx="425.7" cy="558.7" r="1.9"/><circle cx="431.6" cy="520.9" r="1.9"/><circle cx="402.4" cy="568.4" r="1.9"/><circle cx="406.1" cy="550.3" r="1.9"/><circle cx="437.0" cy="526.8" r="1.9"/><circle cx="418.8" cy="539.0" r="1.9"/><circle cx="408.9" cy="543.2" r="1.9"/><circle cx="432.8" cy="538.4" r="1.9"/><circle cx="411.9" cy="555.1" r="1.9"/><circle cx="427.1" cy="540.7" r="1.9"/><circle cx="396.7" cy="570.7" r="1.9"/><circle cx="428.3" cy="555.0" r="1.9"/><circle cx="418.1" cy="550.8" r="1.9"/><circle cx="433.2" cy="534.7" r="1.9"/><circle cx="440.3" cy="532.6" r="1.9"/><circle cx="415.7" cy="553.8" r="1.9"/><circle cx="453.4" cy="526.0" r="1.9"/><circle cx="410.4" cy="542.5" r="1.9"/><circle cx="397.4" cy="567.4" r="1.9"/><circle cx="385.7" cy="565.0" r="1.9"/><circle cx="448.9" cy="523.8" r="1.9"/><circle cx="430.4" cy="547.8" r="1.9"/><circle cx="415.7" cy="548.6" r="1.9"/><circle cx="424.9" cy="559.3" r="1.9"/><circle cx="410.5" cy="555.1" r="1.9"/><circle cx="445.7" cy="525.6" r="1.9"/><circle cx="426.0" cy="543.8" r="1.9"/><circle cx="446.0" cy="515.0" r="1.9"/><circle cx="422.5" cy="543.6" r="1.9"/><circle cx="386.2" cy="564.7" r="1.9"/><circle cx="432.3" cy="526.3" r="1.9"/><circle cx="427.6" cy="552.3" r="1.9"/><circle cx="417.1" cy="539.6" r="1.9"/><circle cx="451.8" cy="525.7" r="1.9"/><circle cx="421.5" cy="544.3" r="1.9"/><circle cx="446.3" cy="530.8" r="1.9"/><circle cx="429.6" cy="545.0" r="1.9"/><circle cx="408.9" cy="545.2" r="1.9"/><circle cx="434.5" cy="536.6" r="1.9"/><circle cx="421.2" cy="552.4" r="1.9"/><circle cx="443.4" cy="526.7" r="1.9"/><circle cx="438.8" cy="529.2" r="1.9"/><circle cx="418.3" cy="533.3" r="1.9"/><circle cx="439.1" cy="538.2" r="1.9"/><circle cx="438.8" cy="539.1" r="1.9"/><circle cx="418.7" cy="542.1" r="1.9"/><circle cx="444.8" cy="536.2" r="1.9"/><circle cx="424.4" cy="545.9" r="1.9"/><circle cx="426.8" cy="527.1" r="1.9"/><circle cx="413.5" cy="554.2" r="1.9"/><circle cx="429.1" cy="541.9" r="1.9"/><circle cx="434.2" cy="538.7" r="1.9"/><circle cx="420.4" cy="556.4" r="1.9"/><circle cx="423.3" cy="549.6" r="1.9"/><circle cx="418.0" cy="547.8" r="1.9"/><circle cx="427.7" cy="525.0" r="1.9"/><circle cx="411.2" cy="546.4" r="1.9"/><circle cx="433.8" cy="537.6" r="1.9"/><circle cx="448.1" cy="523.3" r="1.9"/><circle cx="426.0" cy="532.7" r="1.9"/><circle cx="415.1" cy="572.0" r="1.9"/><circle cx="429.2" cy="541.3" r="1.9"/><circle cx="440.0" cy="528.1" r="1.9"/><circle cx="427.8" cy="550.3" r="1.9"/><circle cx="444.4" cy="530.3" r="1.9"/><circle cx="431.2" cy="530.7" r="1.9"/><circle cx="439.4" cy="543.0" r="1.9"/><circle cx="427.0" cy="549.0" r="1.9"/><circle cx="422.5" cy="551.2" r="1.9"/><circle cx="421.8" cy="544.1" r="1.9"/><circle cx="433.5" cy="546.7" r="1.9"/><circle cx="426.1" cy="528.5" r="1.9"/><circle cx="432.3" cy="536.6" r="1.9"/><circle cx="423.1" cy="546.4" r="1.9"/><circle cx="428.2" cy="541.8" r="1.9"/><circle cx="433.9" cy="538.8" r="1.9"/><circle cx="410.6" cy="568.2" r="1.9"/><circle cx="409.9" cy="546.2" r="1.9"/><circle cx="414.5" cy="551.1" r="1.9"/><circle cx="423.6" cy="544.3" r="1.9"/><circle cx="416.8" cy="540.0" r="1.9"/><circle cx="426.1" cy="547.9" r="1.9"/><circle cx="411.4" cy="550.1" r="1.9"/><circle cx="433.8" cy="531.5" r="1.9"/><circle cx="433.7" cy="541.4" r="1.9"/><circle cx="401.2" cy="560.1" r="1.9"/><circle cx="433.7" cy="547.9" r="1.9"/><circle cx="408.2" cy="553.5" r="1.9"/><circle cx="451.4" cy="521.6" r="1.9"/><circle cx="417.8" cy="545.3" r="1.9"/><circle cx="413.4" cy="539.9" r="1.9"/><circle cx="423.6" cy="537.1" r="1.9"/><circle cx="426.3" cy="546.6" r="1.9"/><circle cx="425.1" cy="541.9" r="1.9"/><circle cx="446.7" cy="521.3" r="1.9"/><circle cx="434.7" cy="543.4" r="1.9"/><circle cx="441.9" cy="534.7" r="1.9"/><circle cx="439.4" cy="525.1" r="1.9"/><circle cx="410.7" cy="551.9" r="1.9"/><circle cx="456.0" cy="525.9" r="1.9"/><circle cx="434.6" cy="531.8" r="1.9"/><circle cx="434.8" cy="525.3" r="1.9"/><circle cx="414.4" cy="552.4" r="1.9"/><circle cx="441.1" cy="534.4" r="1.9"/><circle cx="425.3" cy="530.3" r="1.9"/><circle cx="425.5" cy="554.2" r="1.9"/><circle cx="450.5" cy="506.2" r="1.9"/><circle cx="424.2" cy="525.5" r="1.9"/><circle cx="433.6" cy="554.0" r="1.9"/><circle cx="426.8" cy="537.1" r="1.9"/><circle cx="435.3" cy="526.9" r="1.9"/><circle cx="438.5" cy="524.2" r="1.9"/><circle cx="437.0" cy="536.6" r="1.9"/><circle cx="442.5" cy="525.6" r="1.9"/><circle cx="451.4" cy="527.2" r="1.9"/><circle cx="409.8" cy="557.5" r="1.9"/><circle cx="416.9" cy="545.2" r="1.9"/><circle cx="417.7" cy="557.2" r="1.9"/><circle cx="431.9" cy="544.1" r="1.9"/><circle cx="446.1" cy="523.2" r="1.9"/><circle cx="433.9" cy="532.0" r="1.9"/><circle cx="412.5" cy="555.2" r="1.9"/><circle cx="422.7" cy="545.6" r="1.9"/><circle cx="438.1" cy="526.4" r="1.9"/><circle cx="426.2" cy="554.6" r="1.9"/><circle cx="439.1" cy="555.3" r="1.9"/><circle cx="426.3" cy="533.9" r="1.9"/><circle cx="395.7" cy="559.5" r="1.9"/><circle cx="443.0" cy="536.9" r="1.9"/><circle cx="433.6" cy="539.4" r="1.9"/><circle cx="431.2" cy="531.7" r="1.9"/><circle cx="408.6" cy="550.1" r="1.9"/><circle cx="412.9" cy="548.6" r="1.9"/><circle cx="411.6" cy="543.3" r="1.9"/><circle cx="429.2" cy="537.8" r="1.9"/><circle cx="424.5" cy="538.1" r="1.9"/><circle cx="425.2" cy="537.3" r="1.9"/><circle cx="450.3" cy="518.2" r="1.9"/><circle cx="435.6" cy="517.2" r="1.9"/><circle cx="413.6" cy="548.1" r="1.9"/><circle cx="412.5" cy="545.5" r="1.9"/><circle cx="449.1" cy="519.1" r="1.9"/><circle cx="416.4" cy="540.6" r="1.9"/><circle cx="448.5" cy="526.9" r="1.9"/><circle cx="443.5" cy="517.0" r="1.9"/><circle cx="433.0" cy="560.9" r="1.9"/><circle cx="427.8" cy="549.6" r="1.9"/><circle cx="422.9" cy="536.4" r="1.9"/><circle cx="417.5" cy="555.2" r="1.9"/><circle cx="412.8" cy="553.8" r="1.9"/><circle cx="429.4" cy="554.3" r="1.9"/><circle cx="428.2" cy="521.9" r="1.9"/><circle cx="417.1" cy="544.4" r="1.9"/><circle cx="423.4" cy="544.0" r="1.9"/><circle cx="417.9" cy="545.5" r="1.9"/><circle cx="407.2" cy="558.4" r="1.9"/><circle cx="436.7" cy="513.8" r="1.9"/><circle cx="395.7" cy="572.5" r="1.9"/><circle cx="425.5" cy="557.1" r="1.9"/><circle cx="434.1" cy="534.5" r="1.9"/><circle cx="401.8" cy="554.4" r="1.9"/><circle cx="430.3" cy="530.0" r="1.9"/><circle cx="443.6" cy="525.7" r="1.9"/><circle cx="412.0" cy="550.1" r="1.9"/><circle cx="427.8" cy="537.6" r="1.9"/><circle cx="408.9" cy="553.6" r="1.9"/><circle cx="440.5" cy="541.5" r="1.9"/><circle cx="431.7" cy="544.1" r="1.9"/><circle cx="425.0" cy="534.9" r="1.9"/><circle cx="443.9" cy="523.2" r="1.9"/><circle cx="429.8" cy="532.9" r="1.9"/><circle cx="432.1" cy="513.1" r="1.9"/><circle cx="435.3" cy="533.7" r="1.9"/><circle cx="409.7" cy="556.6" r="1.9"/><circle cx="432.0" cy="540.1" r="1.9"/><circle cx="435.2" cy="537.2" r="1.9"/><circle cx="408.3" cy="561.5" r="1.9"/><circle cx="450.0" cy="529.4" r="1.9"/><circle cx="437.8" cy="550.1" r="1.9"/><circle cx="423.2" cy="529.5" r="1.9"/><circle cx="415.3" cy="554.0" r="1.9"/><circle cx="420.8" cy="534.7" r="1.9"/><circle cx="428.9" cy="536.3" r="1.9"/><circle cx="421.0" cy="544.9" r="1.9"/><circle cx="423.3" cy="536.8" r="1.9"/><circle cx="395.8" cy="567.1" r="1.9"/><circle cx="449.0" cy="527.8" r="1.9"/><circle cx="405.7" cy="550.8" r="1.9"/><circle cx="403.9" cy="575.9" r="1.9"/><circle cx="412.9" cy="553.4" r="1.9"/><circle cx="402.0" cy="540.6" r="1.9"/><circle cx="432.1" cy="533.1" r="1.9"/><circle cx="405.7" cy="545.9" r="1.9"/><circle cx="431.2" cy="538.8" r="1.9"/><circle cx="410.7" cy="551.5" r="1.9"/><circle cx="452.9" cy="510.2" r="1.9"/><circle cx="430.4" cy="531.5" r="1.9"/><circle cx="454.5" cy="518.0" r="1.9"/><circle cx="418.1" cy="559.5" r="1.9"/><circle cx="432.2" cy="530.3" r="1.9"/><circle cx="422.2" cy="561.7" r="1.9"/><circle cx="437.4" cy="537.0" r="1.9"/><circle cx="430.8" cy="528.6" r="1.9"/><circle cx="409.3" cy="566.1" r="1.9"/><circle cx="416.4" cy="561.0" r="1.9"/><circle cx="417.2" cy="562.5" r="1.9"/><circle cx="406.4" cy="561.3" r="1.9"/><circle cx="418.7" cy="553.0" r="1.9"/><circle cx="413.1" cy="553.7" r="1.9"/><circle cx="408.9" cy="562.0" r="1.9"/><circle cx="417.2" cy="531.0" r="1.9"/><circle cx="434.8" cy="535.6" r="1.9"/><circle cx="419.8" cy="568.6" r="1.9"/><circle cx="418.3" cy="548.3" r="1.9"/><circle cx="425.8" cy="541.0" r="1.9"/><circle cx="422.1" cy="543.6" r="1.9"/><circle cx="425.5" cy="558.4" r="1.9"/><circle cx="429.8" cy="524.6" r="1.9"/><circle cx="436.4" cy="529.5" r="1.9"/><circle cx="434.4" cy="531.9" r="1.9"/><circle cx="431.5" cy="551.5" r="1.9"/><circle cx="447.8" cy="511.4" r="1.9"/><circle cx="447.6" cy="517.3" r="1.9"/><circle cx="413.6" cy="540.4" r="1.9"/><circle cx="426.4" cy="544.8" r="1.9"/><circle cx="446.9" cy="530.5" r="1.9"/><circle cx="415.1" cy="551.7" r="1.9"/><circle cx="435.5" cy="539.9" r="1.9"/><circle cx="424.1" cy="538.6" r="1.9"/><circle cx="422.7" cy="556.0" r="1.9"/><circle cx="423.5" cy="545.0" r="1.9"/><circle cx="407.4" cy="564.1" r="1.9"/><circle cx="419.2" cy="548.9" r="1.9"/><circle cx="403.7" cy="571.3" r="1.9"/><circle cx="458.2" cy="513.4" r="1.9"/><circle cx="444.6" cy="520.6" r="1.9"/><circle cx="443.9" cy="526.9" r="1.9"/><circle cx="428.6" cy="536.3" r="1.9"/><circle cx="439.5" cy="528.6" r="1.9"/><circle cx="453.2" cy="534.1" r="1.9"/><circle cx="438.6" cy="527.4" r="1.9"/><circle cx="429.7" cy="521.9" r="1.9"/><circle cx="412.8" cy="552.4" r="1.9"/><circle cx="427.8" cy="532.5" r="1.9"/><circle cx="416.7" cy="546.5" r="1.9"/><circle cx="413.5" cy="559.8" r="1.9"/><circle cx="418.5" cy="563.3" r="1.9"/><circle cx="426.7" cy="531.5" r="1.9"/><circle cx="433.1" cy="521.7" r="1.9"/><circle cx="405.7" cy="557.6" r="1.9"/><circle cx="445.0" cy="515.0" r="1.9"/><circle cx="441.7" cy="519.0" r="1.9"/><circle cx="421.1" cy="546.7" r="1.9"/><circle cx="418.5" cy="546.4" r="1.9"/><circle cx="424.7" cy="542.2" r="1.9"/><circle cx="436.1" cy="526.1" r="1.9"/><circle cx="425.8" cy="551.0" r="1.9"/><circle cx="415.2" cy="559.6" r="1.9"/><circle cx="426.9" cy="533.9" r="1.9"/><circle cx="401.8" cy="571.5" r="1.9"/><circle cx="440.0" cy="550.6" r="1.9"/><circle cx="439.3" cy="524.6" r="1.9"/><circle cx="441.3" cy="547.7" r="1.9"/><circle cx="425.3" cy="521.6" r="1.9"/><circle cx="427.9" cy="531.1" r="1.9"/><circle cx="431.1" cy="528.1" r="1.9"/><circle cx="430.8" cy="542.4" r="1.9"/><circle cx="421.2" cy="558.1" r="1.9"/><circle cx="423.9" cy="545.4" r="1.9"/><circle cx="424.6" cy="542.2" r="1.9"/><circle cx="445.1" cy="527.4" r="1.9"/><circle cx="444.9" cy="518.0" r="1.9"/><circle cx="427.2" cy="532.3" r="1.9"/><circle cx="413.1" cy="549.0" r="1.9"/><circle cx="421.9" cy="556.3" r="1.9"/><circle cx="434.5" cy="554.0" r="1.9"/><circle cx="442.7" cy="522.0" r="1.9"/><circle cx="433.1" cy="539.7" r="1.9"/><circle cx="422.5" cy="540.0" r="1.9"/><circle cx="407.6" cy="544.3" r="1.9"/><circle cx="427.9" cy="521.4" r="1.9"/><circle cx="427.6" cy="535.9" r="1.9"/><circle cx="419.2" cy="536.9" r="1.9"/><circle cx="418.3" cy="532.2" r="1.9"/><circle cx="446.2" cy="517.7" r="1.9"/><circle cx="422.1" cy="542.2" r="1.9"/><circle cx="442.0" cy="513.9" r="1.9"/><circle cx="441.1" cy="524.2" r="1.9"/><circle cx="428.8" cy="542.9" r="1.9"/><circle cx="440.3" cy="532.5" r="1.9"/><circle cx="423.9" cy="543.0" r="1.9"/><circle cx="418.5" cy="555.6" r="1.9"/><circle cx="418.1" cy="541.3" r="1.9"/><circle cx="416.0" cy="555.4" r="1.9"/><circle cx="424.3" cy="527.4" r="1.9"/><circle cx="419.4" cy="535.5" r="1.9"/><circle cx="438.9" cy="539.1" r="1.9"/><circle cx="430.1" cy="524.8" r="1.9"/><circle cx="389.0" cy="586.4" r="1.9"/><circle cx="422.3" cy="530.6" r="1.9"/><circle cx="400.5" cy="563.9" r="1.9"/><circle cx="427.8" cy="539.1" r="1.9"/><circle cx="411.1" cy="550.3" r="1.9"/><circle cx="429.6" cy="542.4" r="1.9"/><circle cx="440.7" cy="520.8" r="1.9"/><circle cx="402.3" cy="563.1" r="1.9"/><circle cx="428.6" cy="539.3" r="1.9"/><circle cx="422.5" cy="540.5" r="1.9"/><circle cx="407.2" cy="572.1" r="1.9"/><circle cx="430.6" cy="529.7" r="1.9"/><circle cx="432.1" cy="546.3" r="1.9"/><circle cx="415.9" cy="545.4" r="1.9"/><circle cx="414.1" cy="549.0" r="1.9"/><circle cx="461.5" cy="493.4" r="1.9"/><circle cx="423.4" cy="549.2" r="1.9"/><circle cx="387.5" cy="552.2" r="1.9"/><circle cx="415.1" cy="555.1" r="1.9"/><circle cx="420.1" cy="545.6" r="1.9"/><circle cx="424.5" cy="550.0" r="1.9"/><circle cx="417.1" cy="535.7" r="1.9"/><circle cx="414.9" cy="557.9" r="1.9"/><circle cx="427.0" cy="529.1" r="1.9"/><circle cx="424.3" cy="552.2" r="1.9"/><circle cx="407.0" cy="558.6" r="1.9"/><circle cx="417.2" cy="554.2" r="1.9"/><circle cx="415.8" cy="542.2" r="1.9"/><circle cx="437.4" cy="530.7" r="1.9"/><circle cx="435.8" cy="538.4" r="1.9"/><circle cx="418.9" cy="543.7" r="1.9"/><circle cx="431.7" cy="546.3" r="1.9"/><circle cx="432.9" cy="542.5" r="1.9"/><circle cx="446.6" cy="509.3" r="1.9"/><circle cx="427.3" cy="558.3" r="1.9"/><circle cx="427.2" cy="531.2" r="1.9"/><circle cx="436.4" cy="532.9" r="1.9"/><circle cx="418.2" cy="558.5" r="1.9"/><circle cx="426.4" cy="537.4" r="1.9"/><circle cx="424.1" cy="535.9" r="1.9"/><circle cx="422.5" cy="550.3" r="1.9"/><circle cx="433.2" cy="534.0" r="1.9"/><circle cx="433.9" cy="523.2" r="1.9"/><circle cx="435.4" cy="522.0" r="1.9"/><circle cx="423.2" cy="544.0" r="1.9"/><circle cx="431.6" cy="542.0" r="1.9"/><circle cx="459.2" cy="512.8" r="1.9"/><circle cx="414.7" cy="559.1" r="1.9"/><circle cx="424.6" cy="534.9" r="1.9"/><circle cx="433.3" cy="526.1" r="1.9"/><circle cx="425.6" cy="537.6" r="1.9"/><circle cx="426.3" cy="525.6" r="1.9"/><circle cx="428.9" cy="540.0" r="1.9"/><circle cx="436.5" cy="532.3" r="1.9"/><circle cx="443.1" cy="525.0" r="1.9"/><circle cx="412.7" cy="535.4" r="1.9"/><circle cx="438.2" cy="547.7" r="1.9"/><circle cx="423.1" cy="540.5" r="1.9"/><circle cx="418.0" cy="544.6" r="1.9"/><circle cx="424.7" cy="541.0" r="1.9"/><circle cx="399.3" cy="546.1" r="1.9"/><circle cx="428.5" cy="525.3" r="1.9"/><circle cx="442.4" cy="513.9" r="1.9"/><circle cx="450.9" cy="521.5" r="1.9"/><circle cx="438.5" cy="521.0" r="1.9"/><circle cx="415.2" cy="556.1" r="1.9"/><circle cx="443.8" cy="519.7" r="1.9"/><circle cx="415.3" cy="550.0" r="1.9"/><circle cx="427.0" cy="543.9" r="1.9"/><circle cx="444.8" cy="512.5" r="1.9"/><circle cx="403.6" cy="548.4" r="1.9"/><circle cx="430.3" cy="524.6" r="1.9"/><circle cx="427.6" cy="536.1" r="1.9"/><circle cx="433.1" cy="551.9" r="1.9"/><circle cx="408.8" cy="548.2" r="1.9"/><circle cx="424.9" cy="530.2" r="1.9"/><circle cx="420.4" cy="548.3" r="1.9"/><circle cx="440.5" cy="528.6" r="1.9"/><circle cx="436.9" cy="521.0" r="1.9"/><circle cx="412.2" cy="563.8" r="1.9"/><circle cx="414.8" cy="544.3" r="1.9"/><circle cx="426.7" cy="550.3" r="1.9"/><circle cx="415.2" cy="561.5" r="1.9"/><circle cx="411.2" cy="556.4" r="1.9"/><circle cx="433.6" cy="546.3" r="1.9"/><circle cx="422.5" cy="543.8" r="1.9"/><circle cx="402.0" cy="561.4" r="1.9"/><circle cx="425.1" cy="554.4" r="1.9"/><circle cx="426.8" cy="529.5" r="1.9"/><circle cx="413.0" cy="560.2" r="1.9"/><circle cx="410.9" cy="551.2" r="1.9"/><circle cx="443.7" cy="517.9" r="1.9"/><circle cx="443.7" cy="524.7" r="1.9"/><circle cx="407.7" cy="565.8" r="1.9"/><circle cx="417.1" cy="567.4" r="1.9"/><circle cx="433.3" cy="538.8" r="1.9"/><circle cx="414.3" cy="560.9" r="1.9"/><circle cx="413.6" cy="536.9" r="1.9"/><circle cx="414.3" cy="542.5" r="1.9"/><circle cx="439.0" cy="539.3" r="1.9"/><circle cx="389.7" cy="572.3" r="1.9"/><circle cx="396.7" cy="570.4" r="1.9"/><circle cx="411.8" cy="559.6" r="1.9"/><circle cx="435.3" cy="524.7" r="1.9"/><circle cx="419.2" cy="539.4" r="1.9"/><circle cx="406.8" cy="567.2" r="1.9"/><circle cx="432.6" cy="535.3" r="1.9"/><circle cx="433.0" cy="530.3" r="1.9"/><circle cx="427.0" cy="548.8" r="1.9"/><circle cx="420.1" cy="544.6" r="1.9"/><circle cx="430.9" cy="535.2" r="1.9"/><circle cx="443.5" cy="527.2" r="1.9"/><circle cx="431.2" cy="542.6" r="1.9"/><circle cx="430.1" cy="532.1" r="1.9"/><circle cx="420.0" cy="537.6" r="1.9"/><circle cx="418.7" cy="544.7" r="1.9"/><circle cx="418.1" cy="557.5" r="1.9"/><circle cx="424.4" cy="533.9" r="1.9"/><circle cx="420.5" cy="544.3" r="1.9"/><circle cx="419.1" cy="541.6" r="1.9"/><circle cx="430.7" cy="522.7" r="1.9"/><circle cx="435.7" cy="538.2" r="1.9"/><circle cx="436.5" cy="529.4" r="1.9"/><circle cx="408.6" cy="565.4" r="1.9"/><circle cx="436.4" cy="537.1" r="1.9"/><circle cx="407.6" cy="540.0" r="1.9"/><circle cx="410.3" cy="547.8" r="1.9"/><circle cx="423.5" cy="560.7" r="1.9"/><circle cx="437.9" cy="522.1" r="1.9"/><circle cx="438.1" cy="531.9" r="1.9"/><circle cx="410.4" cy="545.6" r="1.9"/><circle cx="410.6" cy="556.3" r="1.9"/><circle cx="426.1" cy="541.5" r="1.9"/><circle cx="418.6" cy="546.6" r="1.9"/><circle cx="443.7" cy="516.1" r="1.9"/><circle cx="406.8" cy="561.0" r="1.9"/><circle cx="403.5" cy="567.2" r="1.9"/><circle cx="422.6" cy="545.0" r="1.9"/><circle cx="422.6" cy="538.4" r="1.9"/><circle cx="432.4" cy="544.1" r="1.9"/><circle cx="434.4" cy="530.4" r="1.9"/><circle cx="451.3" cy="512.6" r="1.9"/><circle cx="423.3" cy="547.8" r="1.9"/><circle cx="414.6" cy="545.1" r="1.9"/><circle cx="409.8" cy="571.1" r="1.9"/><circle cx="429.9" cy="539.1" r="1.9"/><circle cx="439.9" cy="532.9" r="1.9"/><circle cx="419.1" cy="542.0" r="1.9"/><circle cx="442.0" cy="526.6" r="1.9"/><circle cx="425.2" cy="540.2" r="1.9"/><circle cx="441.9" cy="518.1" r="1.9"/><circle cx="437.2" cy="543.4" r="1.9"/><circle cx="409.7" cy="553.5" r="1.9"/><circle cx="420.9" cy="553.1" r="1.9"/><circle cx="407.4" cy="563.3" r="1.9"/><circle cx="404.1" cy="565.5" r="1.9"/><circle cx="424.3" cy="533.5" r="1.9"/><circle cx="432.1" cy="525.5" r="1.9"/><circle cx="440.3" cy="505.8" r="1.9"/><circle cx="423.5" cy="540.8" r="1.9"/><circle cx="424.5" cy="546.3" r="1.9"/><circle cx="413.9" cy="558.5" r="1.9"/><circle cx="434.0" cy="524.2" r="1.9"/><circle cx="421.8" cy="528.2" r="1.9"/><circle cx="416.0" cy="547.6" r="1.9"/><circle cx="436.5" cy="533.9" r="1.9"/><circle cx="430.6" cy="531.8" r="1.9"/><circle cx="400.6" cy="565.6" r="1.9"/><circle cx="434.1" cy="530.4" r="1.9"/><circle cx="430.5" cy="542.3" r="1.9"/><circle cx="433.0" cy="557.7" r="1.9"/><circle cx="422.6" cy="549.1" r="1.9"/><circle cx="441.4" cy="511.8" r="1.9"/><circle cx="443.0" cy="518.6" r="1.9"/><circle cx="458.8" cy="525.5" r="1.9"/><circle cx="410.8" cy="556.8" r="1.9"/><circle cx="426.3" cy="558.3" r="1.9"/><circle cx="426.2" cy="519.3" r="1.9"/><circle cx="409.1" cy="556.8" r="1.9"/><circle cx="422.2" cy="556.3" r="1.9"/><circle cx="398.7" cy="562.3" r="1.9"/><circle cx="451.9" cy="518.7" r="1.9"/><circle cx="435.4" cy="523.6" r="1.9"/><circle cx="430.6" cy="534.4" r="1.9"/><circle cx="433.7" cy="543.1" r="1.9"/><circle cx="416.5" cy="543.6" r="1.9"/><circle cx="426.9" cy="552.4" r="1.9"/><circle cx="425.9" cy="526.3" r="1.9"/><circle cx="415.9" cy="550.5" r="1.9"/><circle cx="445.4" cy="528.5" r="1.9"/><circle cx="428.1" cy="555.9" r="1.9"/><circle cx="406.1" cy="545.7" r="1.9"/><circle cx="433.8" cy="516.3" r="1.9"/><circle cx="429.6" cy="548.5" r="1.9"/><circle cx="423.6" cy="525.7" r="1.9"/><circle cx="419.1" cy="545.9" r="1.9"/><circle cx="398.3" cy="573.1" r="1.9"/><circle cx="432.3" cy="533.7" r="1.9"/><circle cx="409.7" cy="560.7" r="1.9"/><circle cx="431.2" cy="519.4" r="1.9"/><circle cx="405.1" cy="561.7" r="1.9"/><circle cx="411.3" cy="575.0" r="1.9"/><circle cx="418.3" cy="527.1" r="1.9"/><circle cx="425.9" cy="531.0" r="1.9"/><circle cx="431.9" cy="544.3" r="1.9"/><circle cx="411.8" cy="559.3" r="1.9"/><circle cx="440.6" cy="532.6" r="1.9"/><circle cx="406.7" cy="561.0" r="1.9"/><circle cx="417.3" cy="545.5" r="1.9"/><circle cx="414.1" cy="550.7" r="1.9"/><circle cx="423.4" cy="548.8" r="1.9"/><circle cx="439.6" cy="532.6" r="1.9"/><circle cx="412.9" cy="545.8" r="1.9"/><circle cx="432.5" cy="533.5" r="1.9"/><circle cx="422.3" cy="521.1" r="1.9"/><circle cx="407.9" cy="568.2" r="1.9"/><circle cx="406.6" cy="553.5" r="1.9"/><circle cx="420.1" cy="545.9" r="1.9"/><circle cx="421.6" cy="552.5" r="1.9"/><circle cx="422.0" cy="530.4" r="1.9"/><circle cx="400.5" cy="567.1" r="1.9"/><circle cx="438.5" cy="534.9" r="1.9"/><circle cx="435.9" cy="532.0" r="1.9"/><circle cx="417.8" cy="538.6" r="1.9"/><circle cx="414.1" cy="565.6" r="1.9"/><circle cx="418.2" cy="534.6" r="1.9"/><circle cx="414.9" cy="545.2" r="1.9"/><circle cx="433.5" cy="534.2" r="1.9"/><circle cx="417.1" cy="535.9" r="1.9"/><circle cx="425.2" cy="522.9" r="1.9"/><circle cx="416.7" cy="544.2" r="1.9"/><circle cx="442.0" cy="520.1" r="1.9"/><circle cx="387.2" cy="564.5" r="1.9"/><circle cx="404.9" cy="548.2" r="1.9"/><circle cx="435.8" cy="538.2" r="1.9"/><circle cx="407.4" cy="562.7" r="1.9"/><circle cx="435.2" cy="531.6" r="1.9"/><circle cx="412.1" cy="559.6" r="1.9"/><circle cx="433.8" cy="546.3" r="1.9"/><circle cx="409.2" cy="549.5" r="1.9"/><circle cx="419.2" cy="546.6" r="1.9"/><circle cx="426.7" cy="538.0" r="1.9"/><circle cx="416.6" cy="535.9" r="1.9"/><circle cx="423.2" cy="548.7" r="1.9"/><circle cx="452.0" cy="511.2" r="1.9"/><circle cx="423.8" cy="539.5" r="1.9"/><circle cx="415.2" cy="556.3" r="1.9"/><circle cx="437.1" cy="528.5" r="1.9"/><circle cx="431.3" cy="526.0" r="1.9"/><circle cx="440.2" cy="523.9" r="1.9"/><circle cx="440.4" cy="510.0" r="1.9"/><circle cx="417.2" cy="557.3" r="1.9"/><circle cx="437.1" cy="525.2" r="1.9"/><circle cx="446.4" cy="531.5" r="1.9"/><circle cx="425.6" cy="541.4" r="1.9"/><circle cx="431.6" cy="540.6" r="1.9"/><circle cx="381.0" cy="576.3" r="1.9"/><circle cx="414.2" cy="545.4" r="1.9"/><circle cx="444.6" cy="513.7" r="1.9"/><circle cx="393.6" cy="557.3" r="1.9"/><circle cx="411.1" cy="541.7" r="1.9"/><circle cx="425.0" cy="533.6" r="1.9"/><circle cx="435.7" cy="536.0" r="1.9"/><circle cx="452.6" cy="524.8" r="1.9"/><circle cx="403.4" cy="565.4" r="1.9"/><circle cx="427.4" cy="541.9" r="1.9"/><circle cx="439.0" cy="531.9" r="1.9"/><circle cx="410.3" cy="560.4" r="1.9"/><circle cx="433.0" cy="548.9" r="1.9"/><circle cx="440.8" cy="507.9" r="1.9"/><circle cx="447.1" cy="527.8" r="1.9"/><circle cx="435.1" cy="536.4" r="1.9"/><circle cx="389.8" cy="574.5" r="1.9"/><circle cx="431.7" cy="550.1" r="1.9"/><circle cx="425.1" cy="531.3" r="1.9"/><circle cx="416.5" cy="540.9" r="1.9"/><circle cx="425.8" cy="543.2" r="1.9"/><circle cx="468.7" cy="503.0" r="1.9"/><circle cx="424.8" cy="546.0" r="1.9"/><circle cx="422.5" cy="562.7" r="1.9"/><circle cx="421.0" cy="531.2" r="1.9"/><circle cx="420.9" cy="545.0" r="1.9"/><circle cx="425.0" cy="548.5" r="1.9"/><circle cx="428.6" cy="546.2" r="1.9"/><circle cx="431.7" cy="527.5" r="1.9"/><circle cx="420.3" cy="530.7" r="1.9"/><circle cx="416.7" cy="563.3" r="1.9"/><circle cx="426.3" cy="545.3" r="1.9"/><circle cx="439.9" cy="542.3" r="1.9"/><circle cx="415.8" cy="544.3" r="1.9"/><circle cx="438.5" cy="524.2" r="1.9"/><circle cx="423.1" cy="519.8" r="1.9"/><circle cx="413.4" cy="555.2" r="1.9"/><circle cx="431.2" cy="538.4" r="1.9"/><circle cx="453.2" cy="516.6" r="1.9"/><circle cx="440.0" cy="515.3" r="1.9"/><circle cx="432.7" cy="549.1" r="1.9"/><circle cx="432.3" cy="525.0" r="1.9"/><circle cx="415.4" cy="549.1" r="1.9"/><circle cx="409.7" cy="563.3" r="1.9"/><circle cx="436.5" cy="537.3" r="1.9"/><circle cx="422.7" cy="532.6" r="1.9"/><circle cx="421.9" cy="525.2" r="1.9"/><circle cx="427.0" cy="543.2" r="1.9"/><circle cx="426.4" cy="533.9" r="1.9"/><circle cx="409.8" cy="540.0" r="1.9"/><circle cx="434.1" cy="537.1" r="1.9"/><circle cx="436.6" cy="530.4" r="1.9"/><circle cx="430.6" cy="547.2" r="1.9"/><circle cx="435.9" cy="530.2" r="1.9"/><circle cx="403.5" cy="565.8" r="1.9"/><circle cx="417.5" cy="553.7" r="1.9"/><circle cx="446.7" cy="524.2" r="1.9"/><circle cx="455.0" cy="523.7" r="1.9"/><circle cx="435.0" cy="543.5" r="1.9"/><circle cx="428.8" cy="546.8" r="1.9"/><circle cx="406.1" cy="555.5" r="1.9"/><circle cx="432.2" cy="538.1" r="1.9"/><circle cx="439.0" cy="534.0" r="1.9"/><circle cx="403.3" cy="558.4" r="1.9"/><circle cx="429.1" cy="530.5" r="1.9"/><circle cx="435.0" cy="537.5" r="1.9"/><circle cx="433.7" cy="537.6" r="1.9"/><circle cx="407.7" cy="553.5" r="1.9"/><circle cx="429.9" cy="531.7" r="1.9"/><circle cx="410.8" cy="565.5" r="1.9"/><circle cx="442.2" cy="519.1" r="1.9"/><circle cx="426.9" cy="539.1" r="1.9"/><circle cx="404.9" cy="551.9" r="1.9"/><circle cx="446.2" cy="526.2" r="1.9"/><circle cx="434.8" cy="520.8" r="1.9"/><circle cx="414.8" cy="547.9" r="1.9"/><circle cx="457.5" cy="514.9" r="1.9"/><circle cx="407.2" cy="549.9" r="1.9"/><circle cx="424.2" cy="532.3" r="1.9"/><circle cx="446.5" cy="530.5" r="1.9"/><circle cx="386.7" cy="563.2" r="1.9"/><circle cx="443.3" cy="532.2" r="1.9"/><circle cx="429.0" cy="546.0" r="1.9"/><circle cx="426.5" cy="542.6" r="1.9"/><circle cx="407.7" cy="552.2" r="1.9"/><circle cx="426.1" cy="533.6" r="1.9"/><circle cx="411.8" cy="556.7" r="1.9"/><circle cx="406.0" cy="548.0" r="1.9"/><circle cx="417.4" cy="545.2" r="1.9"/><circle cx="402.7" cy="551.4" r="1.9"/><circle cx="429.9" cy="506.0" r="1.9"/><circle cx="407.6" cy="558.4" r="1.9"/><circle cx="429.0" cy="563.2" r="1.9"/><circle cx="423.5" cy="547.3" r="1.9"/><circle cx="430.7" cy="545.8" r="1.9"/><circle cx="434.4" cy="529.4" r="1.9"/><circle cx="434.7" cy="529.0" r="1.9"/><circle cx="427.7" cy="550.7" r="1.9"/><circle cx="426.3" cy="551.5" r="1.9"/><circle cx="426.8" cy="541.6" r="1.9"/><circle cx="436.2" cy="530.4" r="1.9"/><circle cx="447.2" cy="543.3" r="1.9"/><circle cx="413.6" cy="543.5" r="1.9"/><circle cx="399.4" cy="569.3" r="1.9"/><circle cx="451.6" cy="511.2" r="1.9"/><circle cx="435.3" cy="526.3" r="1.9"/><circle cx="433.6" cy="542.0" r="1.9"/><circle cx="429.5" cy="536.4" r="1.9"/><circle cx="413.2" cy="543.3" r="1.9"/><circle cx="407.0" cy="549.7" r="1.9"/><circle cx="418.5" cy="543.3" r="1.9"/><circle cx="423.7" cy="545.2" r="1.9"/><circle cx="421.6" cy="553.4" r="1.9"/><circle cx="400.1" cy="554.9" r="1.9"/><circle cx="418.4" cy="542.7" r="1.9"/><circle cx="434.4" cy="534.8" r="1.9"/><circle cx="430.3" cy="557.9" r="1.9"/><circle cx="429.9" cy="544.6" r="1.9"/><circle cx="409.5" cy="578.6" r="1.9"/><circle cx="415.9" cy="537.9" r="1.9"/><circle cx="422.5" cy="541.7" r="1.9"/><circle cx="413.8" cy="561.4" r="1.9"/><circle cx="405.1" cy="566.1" r="1.9"/><circle cx="416.5" cy="522.9" r="1.9"/><circle cx="408.6" cy="546.4" r="1.9"/><circle cx="438.2" cy="540.4" r="1.9"/><circle cx="420.5" cy="547.3" r="1.9"/><circle cx="439.2" cy="538.0" r="1.9"/><circle cx="429.9" cy="553.7" r="1.9"/><circle cx="405.5" cy="560.9" r="1.9"/><circle cx="411.2" cy="530.7" r="1.9"/><circle cx="412.7" cy="538.0" r="1.9"/><circle cx="432.9" cy="531.5" r="1.9"/><circle cx="421.5" cy="548.9" r="1.9"/><circle cx="419.1" cy="545.4" r="1.9"/><circle cx="430.2" cy="524.0" r="1.9"/><circle cx="447.2" cy="531.6" r="1.9"/><circle cx="444.3" cy="539.2" r="1.9"/><circle cx="427.9" cy="517.5" r="1.9"/><circle cx="429.2" cy="533.2" r="1.9"/><circle cx="426.1" cy="522.5" r="1.9"/><circle cx="434.7" cy="527.5" r="1.9"/><circle cx="422.2" cy="528.2" r="1.9"/><circle cx="429.1" cy="542.9" r="1.9"/><circle cx="424.2" cy="536.5" r="1.9"/><circle cx="446.6" cy="500.1" r="1.9"/><circle cx="419.8" cy="535.8" r="1.9"/><circle cx="424.6" cy="546.3" r="1.9"/><circle cx="415.8" cy="541.6" r="1.9"/><circle cx="428.2" cy="544.5" r="1.9"/><circle cx="435.7" cy="544.3" r="1.9"/><circle cx="408.3" cy="554.0" r="1.9"/><circle cx="393.1" cy="561.7" r="1.9"/><circle cx="424.2" cy="532.7" r="1.9"/><circle cx="411.9" cy="569.1" r="1.9"/><circle cx="423.6" cy="533.1" r="1.9"/><circle cx="423.2" cy="535.7" r="1.9"/><circle cx="441.8" cy="527.1" r="1.9"/><circle cx="459.0" cy="529.6" r="1.9"/><circle cx="424.2" cy="530.9" r="1.9"/><circle cx="413.4" cy="544.3" r="1.9"/><circle cx="407.8" cy="554.8" r="1.9"/><circle cx="424.5" cy="560.1" r="1.9"/><circle cx="433.5" cy="547.4" r="1.9"/><circle cx="394.0" cy="564.7" r="1.9"/><circle cx="421.7" cy="536.0" r="1.9"/><circle cx="422.2" cy="538.6" r="1.9"/><circle cx="434.3" cy="533.1" r="1.9"/><circle cx="418.8" cy="543.6" r="1.9"/><circle cx="429.2" cy="542.0" r="1.9"/><circle cx="417.6" cy="552.6" r="1.9"/><circle cx="424.0" cy="551.4" r="1.9"/><circle cx="401.7" cy="564.2" r="1.9"/><circle cx="428.8" cy="541.1" r="1.9"/><circle cx="439.1" cy="514.8" r="1.9"/><circle cx="423.2" cy="535.1" r="1.9"/><circle cx="433.9" cy="539.7" r="1.9"/><circle cx="403.0" cy="545.6" r="1.9"/><circle cx="448.8" cy="526.4" r="1.9"/><circle cx="413.1" cy="549.3" r="1.9"/><circle cx="429.1" cy="524.5" r="1.9"/><circle cx="419.5" cy="533.2" r="1.9"/><circle cx="425.1" cy="564.8" r="1.9"/><circle cx="432.4" cy="521.8" r="1.9"/><circle cx="418.7" cy="534.8" r="1.9"/><circle cx="419.5" cy="531.4" r="1.9"/><circle cx="442.6" cy="545.3" r="1.9"/><circle cx="428.4" cy="544.4" r="1.9"/><circle cx="420.9" cy="546.6" r="1.9"/><circle cx="433.2" cy="536.5" r="1.9"/><circle cx="412.8" cy="540.0" r="1.9"/><circle cx="429.5" cy="543.2" r="1.9"/><circle cx="410.2" cy="544.2" r="1.9"/><circle cx="403.6" cy="558.8" r="1.9"/><circle cx="424.6" cy="557.2" r="1.9"/><circle cx="424.3" cy="552.5" r="1.9"/><circle cx="427.8" cy="542.9" r="1.9"/><circle cx="439.2" cy="524.0" r="1.9"/><circle cx="398.8" cy="559.5" r="1.9"/><circle cx="427.6" cy="539.9" r="1.9"/><circle cx="392.8" cy="567.2" r="1.9"/><circle cx="420.6" cy="563.0" r="1.9"/><circle cx="435.2" cy="562.6" r="1.9"/><circle cx="399.0" cy="573.7" r="1.9"/><circle cx="399.6" cy="564.4" r="1.9"/><circle cx="428.9" cy="540.5" r="1.9"/><circle cx="431.5" cy="544.6" r="1.9"/><circle cx="421.4" cy="540.4" r="1.9"/><circle cx="404.7" cy="542.7" r="1.9"/><circle cx="452.3" cy="511.5" r="1.9"/><circle cx="427.0" cy="546.6" r="1.9"/><circle cx="418.9" cy="556.9" r="1.9"/><circle cx="435.2" cy="508.1" r="1.9"/><circle cx="432.9" cy="532.5" r="1.9"/><circle cx="417.1" cy="543.0" r="1.9"/><circle cx="433.2" cy="518.4" r="1.9"/><circle cx="421.2" cy="533.5" r="1.9"/><circle cx="438.0" cy="536.4" r="1.9"/><circle cx="422.8" cy="533.0" r="1.9"/><circle cx="407.8" cy="551.0" r="1.9"/><circle cx="434.4" cy="525.0" r="1.9"/><circle cx="421.6" cy="533.7" r="1.9"/><circle cx="415.6" cy="557.6" r="1.9"/><circle cx="416.0" cy="551.8" r="1.9"/><circle cx="439.7" cy="530.1" r="1.9"/><circle cx="416.4" cy="542.3" r="1.9"/><circle cx="429.1" cy="543.4" r="1.9"/><circle cx="431.0" cy="529.9" r="1.9"/><circle cx="432.5" cy="544.4" r="1.9"/><circle cx="406.8" cy="562.6" r="1.9"/><circle cx="434.9" cy="533.8" r="1.9"/><circle cx="437.3" cy="528.4" r="1.9"/><circle cx="435.1" cy="528.2" r="1.9"/><circle cx="446.0" cy="519.3" r="1.9"/><circle cx="430.7" cy="536.9" r="1.9"/><circle cx="445.9" cy="540.1" r="1.9"/><circle cx="438.7" cy="513.5" r="1.9"/><circle cx="424.8" cy="547.9" r="1.9"/><circle cx="447.9" cy="517.9" r="1.9"/><circle cx="451.0" cy="520.8" r="1.9"/><circle cx="429.3" cy="525.2" r="1.9"/><circle cx="452.7" cy="519.7" r="1.9"/><circle cx="432.9" cy="526.6" r="1.9"/><circle cx="407.8" cy="547.4" r="1.9"/><circle cx="430.2" cy="517.1" r="1.9"/><circle cx="422.7" cy="530.6" r="1.9"/><circle cx="426.8" cy="532.1" r="1.9"/><circle cx="433.4" cy="544.5" r="1.9"/><circle cx="434.9" cy="515.8" r="1.9"/><circle cx="425.5" cy="527.4" r="1.9"/><circle cx="411.9" cy="546.4" r="1.9"/><circle cx="426.7" cy="530.2" r="1.9"/><circle cx="433.6" cy="530.3" r="1.9"/><circle cx="418.8" cy="553.4" r="1.9"/><circle cx="413.8" cy="541.6" r="1.9"/><circle cx="413.4" cy="540.0" r="1.9"/><circle cx="423.1" cy="554.3" r="1.9"/><circle cx="424.4" cy="531.6" r="1.9"/><circle cx="436.3" cy="525.5" r="1.9"/><circle cx="443.6" cy="510.3" r="1.9"/><circle cx="438.3" cy="522.9" r="1.9"/><circle cx="431.7" cy="521.3" r="1.9"/><circle cx="433.6" cy="520.0" r="1.9"/><circle cx="436.7" cy="518.0" r="1.9"/><circle cx="427.8" cy="552.7" r="1.9"/><circle cx="429.1" cy="527.2" r="1.9"/><circle cx="428.7" cy="536.1" r="1.9"/><circle cx="429.4" cy="548.0" r="1.9"/><circle cx="415.5" cy="543.7" r="1.9"/><circle cx="426.1" cy="554.4" r="1.9"/><circle cx="416.8" cy="540.2" r="1.9"/><circle cx="400.6" cy="549.8" r="1.9"/><circle cx="434.1" cy="536.0" r="1.9"/><circle cx="419.7" cy="536.7" r="1.9"/><circle cx="423.8" cy="537.1" r="1.9"/><circle cx="425.6" cy="532.9" r="1.9"/><circle cx="441.2" cy="537.2" r="1.9"/><circle cx="414.3" cy="546.0" r="1.9"/><circle cx="422.9" cy="541.6" r="1.9"/><circle cx="401.1" cy="559.5" r="1.9"/><circle cx="397.4" cy="571.5" r="1.9"/><circle cx="395.0" cy="562.4" r="1.9"/><circle cx="442.5" cy="518.1" r="1.9"/><circle cx="398.7" cy="562.8" r="1.9"/><circle cx="423.4" cy="527.6" r="1.9"/><circle cx="442.2" cy="519.4" r="1.9"/><circle cx="413.9" cy="542.3" r="1.9"/><circle cx="443.9" cy="517.0" r="1.9"/><circle cx="445.0" cy="512.6" r="1.9"/><circle cx="439.4" cy="530.1" r="1.9"/><circle cx="450.1" cy="504.1" r="1.9"/><circle cx="426.0" cy="526.2" r="1.9"/><circle cx="416.3" cy="551.2" r="1.9"/><circle cx="427.1" cy="529.6" r="1.9"/><circle cx="417.1" cy="544.8" r="1.9"/><circle cx="414.7" cy="564.0" r="1.9"/><circle cx="407.3" cy="556.7" r="1.9"/><circle cx="446.5" cy="502.3" r="1.9"/><circle cx="420.8" cy="550.5" r="1.9"/><circle cx="434.2" cy="549.5" r="1.9"/><circle cx="415.7" cy="548.8" r="1.9"/><circle cx="430.1" cy="541.7" r="1.9"/><circle cx="411.9" cy="534.8" r="1.9"/><circle cx="420.1" cy="546.5" r="1.9"/><circle cx="410.0" cy="557.4" r="1.9"/><circle cx="410.9" cy="563.1" r="1.9"/><circle cx="414.5" cy="549.7" r="1.9"/><circle cx="431.6" cy="539.2" r="1.9"/><circle cx="455.5" cy="516.0" r="1.9"/><circle cx="438.4" cy="526.2" r="1.9"/><circle cx="451.9" cy="519.1" r="1.9"/><circle cx="424.0" cy="527.5" r="1.9"/><circle cx="430.2" cy="547.2" r="1.9"/><circle cx="409.0" cy="559.2" r="1.9"/><circle cx="428.7" cy="543.7" r="1.9"/><circle cx="405.9" cy="576.8" r="1.9"/><circle cx="412.5" cy="536.7" r="1.9"/><circle cx="456.4" cy="527.8" r="1.9"/><circle cx="421.4" cy="529.0" r="1.9"/><circle cx="446.5" cy="531.5" r="1.9"/><circle cx="419.9" cy="545.3" r="1.9"/><circle cx="396.1" cy="548.8" r="1.9"/><circle cx="430.5" cy="557.1" r="1.9"/><circle cx="427.5" cy="552.4" r="1.9"/><circle cx="433.1" cy="517.4" r="1.9"/><circle cx="448.6" cy="512.2" r="1.9"/><circle cx="418.9" cy="553.2" r="1.9"/><circle cx="420.9" cy="545.5" r="1.9"/><circle cx="428.4" cy="547.0" r="1.9"/><circle cx="420.2" cy="544.6" r="1.9"/><circle cx="401.8" cy="550.5" r="1.9"/><circle cx="428.3" cy="540.9" r="1.9"/><circle cx="428.9" cy="534.7" r="1.9"/><circle cx="423.6" cy="529.3" r="1.9"/><circle cx="399.7" cy="547.7" r="1.9"/><circle cx="426.9" cy="544.7" r="1.9"/><circle cx="402.0" cy="563.0" r="1.9"/><circle cx="439.5" cy="530.3" r="1.9"/><circle cx="416.0" cy="557.5" r="1.9"/><circle cx="423.9" cy="546.0" r="1.9"/><circle cx="423.0" cy="549.5" r="1.9"/><circle cx="427.1" cy="556.6" r="1.9"/><circle cx="422.6" cy="564.4" r="1.9"/><circle cx="407.2" cy="568.3" r="1.9"/><circle cx="445.9" cy="515.6" r="1.9"/><circle cx="421.9" cy="531.0" r="1.9"/><circle cx="431.3" cy="539.1" r="1.9"/><circle cx="452.1" cy="511.9" r="1.9"/><circle cx="420.5" cy="538.5" r="1.9"/><circle cx="428.1" cy="529.1" r="1.9"/><circle cx="426.1" cy="540.5" r="1.9"/><circle cx="440.2" cy="524.0" r="1.9"/><circle cx="421.5" cy="524.4" r="1.9"/><circle cx="430.9" cy="537.5" r="1.9"/><circle cx="424.7" cy="546.1" r="1.9"/><circle cx="437.3" cy="544.1" r="1.9"/><circle cx="437.3" cy="522.0" r="1.9"/><circle cx="400.9" cy="570.3" r="1.9"/><circle cx="413.5" cy="533.0" r="1.9"/><circle cx="421.8" cy="547.6" r="1.9"/><circle cx="417.2" cy="540.6" r="1.9"/><circle cx="395.9" cy="563.2" r="1.9"/><circle cx="425.6" cy="522.3" r="1.9"/><circle cx="421.7" cy="558.2" r="1.9"/><circle cx="414.2" cy="536.0" r="1.9"/><circle cx="419.0" cy="547.2" r="1.9"/><circle cx="405.1" cy="563.9" r="1.9"/><circle cx="421.4" cy="547.9" r="1.9"/><circle cx="404.6" cy="567.6" r="1.9"/><circle cx="415.4" cy="554.9" r="1.9"/><circle cx="433.7" cy="555.6" r="1.9"/><circle cx="422.5" cy="537.9" r="1.9"/><circle cx="425.6" cy="539.2" r="1.9"/><circle cx="428.6" cy="546.6" r="1.9"/><circle cx="452.1" cy="510.9" r="1.9"/><circle cx="418.5" cy="523.3" r="1.9"/><circle cx="408.1" cy="555.4" r="1.9"/><circle cx="419.7" cy="550.5" r="1.9"/><circle cx="408.1" cy="541.3" r="1.9"/><circle cx="427.3" cy="546.4" r="1.9"/><circle cx="418.6" cy="549.3" r="1.9"/><circle cx="417.6" cy="554.7" r="1.9"/><circle cx="446.9" cy="518.5" r="1.9"/><circle cx="421.9" cy="536.2" r="1.9"/><circle cx="418.0" cy="542.2" r="1.9"/><circle cx="426.0" cy="547.2" r="1.9"/><circle cx="423.3" cy="543.8" r="1.9"/><circle cx="442.1" cy="520.5" r="1.9"/><circle cx="433.4" cy="535.5" r="1.9"/><circle cx="439.4" cy="524.8" r="1.9"/><circle cx="390.5" cy="586.9" r="1.9"/><circle cx="433.2" cy="539.2" r="1.9"/><circle cx="438.2" cy="525.3" r="1.9"/><circle cx="455.2" cy="517.7" r="1.9"/><circle cx="423.5" cy="537.8" r="1.9"/><circle cx="405.1" cy="564.9" r="1.9"/><circle cx="437.4" cy="536.4" r="1.9"/><circle cx="421.1" cy="551.4" r="1.9"/><circle cx="405.6" cy="567.3" r="1.9"/><circle cx="418.5" cy="549.5" r="1.9"/><circle cx="437.8" cy="525.0" r="1.9"/><circle cx="441.3" cy="524.5" r="1.9"/><circle cx="438.8" cy="534.3" r="1.9"/><circle cx="404.8" cy="548.0" r="1.9"/><circle cx="451.7" cy="501.0" r="1.9"/><circle cx="410.3" cy="555.9" r="1.9"/><circle cx="419.4" cy="536.8" r="1.9"/><circle cx="405.7" cy="558.7" r="1.9"/><circle cx="443.0" cy="523.1" r="1.9"/><circle cx="430.4" cy="533.6" r="1.9"/><circle cx="422.3" cy="515.3" r="1.9"/><circle cx="421.2" cy="534.3" r="1.9"/><circle cx="419.0" cy="536.2" r="1.9"/><circle cx="429.6" cy="539.6" r="1.9"/><circle cx="398.8" cy="563.6" r="1.9"/><circle cx="425.8" cy="515.8" r="1.9"/><circle cx="434.4" cy="525.5" r="1.9"/><circle cx="414.9" cy="540.6" r="1.9"/><circle cx="418.6" cy="534.4" r="1.9"/><circle cx="425.7" cy="533.0" r="1.9"/><circle cx="436.5" cy="511.0" r="1.9"/><circle cx="429.5" cy="533.1" r="1.9"/><circle cx="423.3" cy="537.2" r="1.9"/><circle cx="422.4" cy="550.1" r="1.9"/><circle cx="393.0" cy="548.6" r="1.9"/><circle cx="416.4" cy="547.0" r="1.9"/><circle cx="425.7" cy="538.6" r="1.9"/><circle cx="415.0" cy="537.1" r="1.9"/><circle cx="428.9" cy="541.3" r="1.9"/><circle cx="434.7" cy="529.8" r="1.9"/><circle cx="434.9" cy="537.7" r="1.9"/><circle cx="428.7" cy="536.2" r="1.9"/><circle cx="435.6" cy="532.8" r="1.9"/><circle cx="424.9" cy="535.0" r="1.9"/><circle cx="425.7" cy="541.1" r="1.9"/><circle cx="434.4" cy="536.4" r="1.9"/><circle cx="405.6" cy="565.4" r="1.9"/><circle cx="441.6" cy="523.3" r="1.9"/><circle cx="412.2" cy="560.4" r="1.9"/><circle cx="430.9" cy="524.1" r="1.9"/><circle cx="422.1" cy="536.7" r="1.9"/><circle cx="438.4" cy="524.0" r="1.9"/><circle cx="432.1" cy="545.1" r="1.9"/><circle cx="411.1" cy="550.7" r="1.9"/><circle cx="445.5" cy="531.1" r="1.9"/><circle cx="426.8" cy="536.6" r="1.9"/><circle cx="426.7" cy="538.2" r="1.9"/><circle cx="429.6" cy="541.7" r="1.9"/><circle cx="442.2" cy="530.0" r="1.9"/><circle cx="439.3" cy="531.9" r="1.9"/><circle cx="417.6" cy="527.2" r="1.9"/><circle cx="407.7" cy="562.8" r="1.9"/><circle cx="421.6" cy="546.6" r="1.9"/><circle cx="421.8" cy="534.1" r="1.9"/><circle cx="445.6" cy="513.1" r="1.9"/><circle cx="424.8" cy="529.7" r="1.9"/><circle cx="430.8" cy="547.0" r="1.9"/><circle cx="446.0" cy="528.5" r="1.9"/><circle cx="406.8" cy="526.0" r="1.9"/><circle cx="425.4" cy="540.6" r="1.9"/><circle cx="429.0" cy="539.2" r="1.9"/><circle cx="406.2" cy="560.0" r="1.9"/><circle cx="432.2" cy="522.1" r="1.9"/><circle cx="437.0" cy="539.6" r="1.9"/><circle cx="420.6" cy="542.6" r="1.9"/><circle cx="411.6" cy="555.9" r="1.9"/><circle cx="424.7" cy="533.9" r="1.9"/><circle cx="442.0" cy="519.7" r="1.9"/><circle cx="420.4" cy="551.3" r="1.9"/><circle cx="417.0" cy="558.7" r="1.9"/><circle cx="443.5" cy="545.5" r="1.9"/><circle cx="400.7" cy="557.5" r="1.9"/><circle cx="405.8" cy="577.6" r="1.9"/><circle cx="422.2" cy="548.0" r="1.9"/><circle cx="408.4" cy="541.8" r="1.9"/><circle cx="424.3" cy="545.7" r="1.9"/><circle cx="415.6" cy="544.7" r="1.9"/><circle cx="430.8" cy="536.3" r="1.9"/><circle cx="419.2" cy="539.7" r="1.9"/><circle cx="418.0" cy="548.1" r="1.9"/><circle cx="422.6" cy="548.7" r="1.9"/><circle cx="426.4" cy="524.9" r="1.9"/><circle cx="438.9" cy="527.9" r="1.9"/><circle cx="443.8" cy="533.6" r="1.9"/><circle cx="436.0" cy="531.8" r="1.9"/><circle cx="382.0" cy="583.2" r="1.9"/><circle cx="419.0" cy="559.0" r="1.9"/><circle cx="417.6" cy="540.6" r="1.9"/><circle cx="424.2" cy="533.5" r="1.9"/><circle cx="394.6" cy="552.5" r="1.9"/><circle cx="446.6" cy="523.2" r="1.9"/><circle cx="425.9" cy="532.6" r="1.9"/><circle cx="426.6" cy="556.3" r="1.9"/><circle cx="429.8" cy="539.6" r="1.9"/><circle cx="420.8" cy="544.2" r="1.9"/><circle cx="414.1" cy="548.5" r="1.9"/><circle cx="432.2" cy="533.1" r="1.9"/><circle cx="420.5" cy="546.6" r="1.9"/><circle cx="411.4" cy="562.3" r="1.9"/><circle cx="420.1" cy="550.8" r="1.9"/><circle cx="422.6" cy="540.1" r="1.9"/><circle cx="409.4" cy="552.3" r="1.9"/><circle cx="437.9" cy="519.4" r="1.9"/><circle cx="407.0" cy="550.4" r="1.9"/><circle cx="441.2" cy="510.0" r="1.9"/><circle cx="446.1" cy="535.8" r="1.9"/><circle cx="416.7" cy="555.4" r="1.9"/><circle cx="428.1" cy="538.8" r="1.9"/><circle cx="443.6" cy="526.4" r="1.9"/><circle cx="417.9" cy="537.7" r="1.9"/><circle cx="407.0" cy="552.9" r="1.9"/><circle cx="427.6" cy="538.8" r="1.9"/><circle cx="449.7" cy="511.7" r="1.9"/><circle cx="400.7" cy="554.7" r="1.9"/><circle cx="434.4" cy="533.7" r="1.9"/><circle cx="427.5" cy="541.1" r="1.9"/><circle cx="419.6" cy="537.3" r="1.9"/><circle cx="418.5" cy="543.0" r="1.9"/><circle cx="414.4" cy="537.7" r="1.9"/><circle cx="436.7" cy="523.7" r="1.9"/><circle cx="429.2" cy="528.1" r="1.9"/><circle cx="416.2" cy="556.2" r="1.9"/><circle cx="449.9" cy="522.5" r="1.9"/><circle cx="409.7" cy="557.8" r="1.9"/><circle cx="447.7" cy="542.9" r="1.9"/><circle cx="425.9" cy="535.3" r="1.9"/><circle cx="435.6" cy="518.6" r="1.9"/><circle cx="429.8" cy="534.5" r="1.9"/><circle cx="440.0" cy="526.1" r="1.9"/><circle cx="419.8" cy="535.1" r="1.9"/><circle cx="438.0" cy="526.5" r="1.9"/><circle cx="425.0" cy="530.4" r="1.9"/><circle cx="441.0" cy="499.8" r="1.9"/><circle cx="413.4" cy="546.0" r="1.9"/><circle cx="435.7" cy="518.8" r="1.9"/><circle cx="429.0" cy="531.0" r="1.9"/><circle cx="426.7" cy="536.1" r="1.9"/><circle cx="417.4" cy="546.3" r="1.9"/><circle cx="431.0" cy="533.2" r="1.9"/><circle cx="402.0" cy="555.2" r="1.9"/><circle cx="417.2" cy="566.2" r="1.9"/><circle cx="436.0" cy="531.1" r="1.9"/><circle cx="403.2" cy="558.2" r="1.9"/><circle cx="448.0" cy="523.7" r="1.9"/><circle cx="423.0" cy="544.0" r="1.9"/><circle cx="432.5" cy="539.4" r="1.9"/><circle cx="424.5" cy="536.6" r="1.9"/><circle cx="426.6" cy="529.9" r="1.9"/><circle cx="414.9" cy="536.8" r="1.9"/><circle cx="418.7" cy="542.5" r="1.9"/><circle cx="428.0" cy="544.8" r="1.9"/><circle cx="437.5" cy="524.0" r="1.9"/><circle cx="436.9" cy="521.3" r="1.9"/><circle cx="434.3" cy="515.5" r="1.9"/><circle cx="441.4" cy="544.5" r="1.9"/><circle cx="421.4" cy="540.7" r="1.9"/><circle cx="414.5" cy="571.4" r="1.9"/><circle cx="430.1" cy="527.4" r="1.9"/><circle cx="433.9" cy="526.0" r="1.9"/><circle cx="418.3" cy="543.0" r="1.9"/><circle cx="431.3" cy="524.4" r="1.9"/><circle cx="439.8" cy="520.0" r="1.9"/><circle cx="430.4" cy="541.3" r="1.9"/><circle cx="437.1" cy="523.4" r="1.9"/><circle cx="423.5" cy="529.9" r="1.9"/><circle cx="405.0" cy="564.3" r="1.9"/><circle cx="419.9" cy="546.1" r="1.9"/><circle cx="427.0" cy="550.9" r="1.9"/><circle cx="426.4" cy="527.0" r="1.9"/><circle cx="417.8" cy="554.0" r="1.9"/><circle cx="424.3" cy="549.2" r="1.9"/><circle cx="416.3" cy="555.1" r="1.9"/><circle cx="429.8" cy="544.2" r="1.9"/><circle cx="428.0" cy="539.8" r="1.9"/><circle cx="431.3" cy="520.2" r="1.9"/><circle cx="431.6" cy="524.9" r="1.9"/><circle cx="420.5" cy="530.8" r="1.9"/><circle cx="421.2" cy="529.5" r="1.9"/><circle cx="431.8" cy="542.3" r="1.9"/><circle cx="424.8" cy="535.9" r="1.9"/><circle cx="437.3" cy="511.3" r="1.9"/><circle cx="383.2" cy="563.6" r="1.9"/><circle cx="431.0" cy="548.6" r="1.9"/><circle cx="437.1" cy="541.9" r="1.9"/><circle cx="437.4" cy="521.8" r="1.9"/><circle cx="414.0" cy="556.4" r="1.9"/><circle cx="435.3" cy="539.4" r="1.9"/><circle cx="434.6" cy="525.9" r="1.9"/><circle cx="424.4" cy="549.5" r="1.9"/><circle cx="413.9" cy="576.6" r="1.9"/><circle cx="421.5" cy="544.8" r="1.9"/><circle cx="410.4" cy="555.7" r="1.9"/><circle cx="430.6" cy="527.7" r="1.9"/><circle cx="410.5" cy="547.1" r="1.9"/><circle cx="447.0" cy="514.1" r="1.9"/><circle cx="428.8" cy="538.8" r="1.9"/><circle cx="419.3" cy="553.9" r="1.9"/><circle cx="428.1" cy="554.3" r="1.9"/><circle cx="414.6" cy="556.8" r="1.9"/><circle cx="425.5" cy="529.7" r="1.9"/><circle cx="441.0" cy="516.0" r="1.9"/><circle cx="412.6" cy="533.2" r="1.9"/><circle cx="438.1" cy="527.5" r="1.9"/><circle cx="423.4" cy="561.0" r="1.9"/><circle cx="425.4" cy="531.6" r="1.9"/><circle cx="449.0" cy="502.9" r="1.9"/><circle cx="414.5" cy="564.6" r="1.9"/><circle cx="449.5" cy="530.0" r="1.9"/><circle cx="439.6" cy="522.7" r="1.9"/><circle cx="398.9" cy="562.5" r="1.9"/><circle cx="413.9" cy="564.7" r="1.9"/><circle cx="415.6" cy="554.8" r="1.9"/><circle cx="441.9" cy="529.8" r="1.9"/><circle cx="426.7" cy="551.1" r="1.9"/><circle cx="430.6" cy="548.1" r="1.9"/><circle cx="433.9" cy="529.2" r="1.9"/><circle cx="429.3" cy="539.8" r="1.9"/><circle cx="432.1" cy="539.7" r="1.9"/><circle cx="435.4" cy="556.2" r="1.9"/><circle cx="430.8" cy="516.0" r="1.9"/><circle cx="421.1" cy="554.8" r="1.9"/><circle cx="447.3" cy="517.1" r="1.9"/><circle cx="427.6" cy="549.6" r="1.9"/><circle cx="414.1" cy="549.0" r="1.9"/><circle cx="441.7" cy="537.7" r="1.9"/><circle cx="431.0" cy="533.0" r="1.9"/><circle cx="402.4" cy="568.1" r="1.9"/><circle cx="423.9" cy="532.4" r="1.9"/><circle cx="414.8" cy="563.5" r="1.9"/><circle cx="419.0" cy="554.2" r="1.9"/><circle cx="436.8" cy="529.9" r="1.9"/><circle cx="404.4" cy="542.0" r="1.9"/><circle cx="437.9" cy="541.6" r="1.9"/><circle cx="419.7" cy="543.7" r="1.9"/><circle cx="453.2" cy="516.0" r="1.9"/><circle cx="423.1" cy="539.7" r="1.9"/><circle cx="408.0" cy="553.1" r="1.9"/><circle cx="411.5" cy="554.5" r="1.9"/><circle cx="413.3" cy="551.1" r="1.9"/><circle cx="426.0" cy="536.7" r="1.9"/><circle cx="428.8" cy="542.6" r="1.9"/><circle cx="439.0" cy="527.4" r="1.9"/><circle cx="436.5" cy="545.2" r="1.9"/><circle cx="429.3" cy="539.7" r="1.9"/><circle cx="433.8" cy="538.9" r="1.9"/><circle cx="425.5" cy="542.8" r="1.9"/><circle cx="425.6" cy="532.4" r="1.9"/><circle cx="433.5" cy="527.2" r="1.9"/><circle cx="433.1" cy="526.8" r="1.9"/><circle cx="413.4" cy="542.4" r="1.9"/><circle cx="416.2" cy="575.4" r="1.9"/><circle cx="413.6" cy="549.1" r="1.9"/><circle cx="429.4" cy="536.1" r="1.9"/><circle cx="395.5" cy="574.9" r="1.9"/><circle cx="426.7" cy="552.5" r="1.9"/><circle cx="428.5" cy="531.2" r="1.9"/><circle cx="412.9" cy="542.5" r="1.9"/><circle cx="406.6" cy="550.7" r="1.9"/><circle cx="447.9" cy="516.0" r="1.9"/><circle cx="439.6" cy="517.8" r="1.9"/><circle cx="417.8" cy="539.3" r="1.9"/><circle cx="432.7" cy="513.2" r="1.9"/><circle cx="435.5" cy="516.3" r="1.9"/><circle cx="411.0" cy="555.0" r="1.9"/><circle cx="458.4" cy="502.4" r="1.9"/><circle cx="413.3" cy="552.2" r="1.9"/><circle cx="421.3" cy="542.6" r="1.9"/><circle cx="414.7" cy="557.5" r="1.9"/><circle cx="422.7" cy="535.4" r="1.9"/><circle cx="413.0" cy="561.5" r="1.9"/><circle cx="429.8" cy="543.8" r="1.9"/><circle cx="437.3" cy="523.4" r="1.9"/><circle cx="431.3" cy="539.7" r="1.9"/><circle cx="423.7" cy="544.8" r="1.9"/><circle cx="455.5" cy="528.2" r="1.9"/><circle cx="410.5" cy="548.8" r="1.9"/><circle cx="437.7" cy="526.7" r="1.9"/><circle cx="422.6" cy="544.9" r="1.9"/><circle cx="426.0" cy="535.0" r="1.9"/><circle cx="425.0" cy="538.7" r="1.9"/><circle cx="430.9" cy="541.6" r="1.9"/><circle cx="414.7" cy="531.6" r="1.9"/><circle cx="418.3" cy="553.0" r="1.9"/><circle cx="413.6" cy="543.5" r="1.9"/><circle cx="421.7" cy="525.6" r="1.9"/><circle cx="427.5" cy="544.5" r="1.9"/><circle cx="410.8" cy="555.9" r="1.9"/><circle cx="421.1" cy="553.7" r="1.9"/><circle cx="411.6" cy="544.9" r="1.9"/><circle cx="426.7" cy="542.5" r="1.9"/><circle cx="433.5" cy="542.8" r="1.9"/><circle cx="419.9" cy="532.9" r="1.9"/><circle cx="412.8" cy="545.1" r="1.9"/><circle cx="430.4" cy="544.1" r="1.9"/><circle cx="402.5" cy="553.8" r="1.9"/><circle cx="388.9" cy="579.4" r="1.9"/><circle cx="410.9" cy="528.5" r="1.9"/><circle cx="396.2" cy="555.3" r="1.9"/><circle cx="416.7" cy="556.0" r="1.9"/><circle cx="412.0" cy="558.3" r="1.9"/><circle cx="437.8" cy="535.6" r="1.9"/><circle cx="409.8" cy="556.5" r="1.9"/><circle cx="428.6" cy="536.3" r="1.9"/><circle cx="415.6" cy="543.8" r="1.9"/><circle cx="409.7" cy="557.1" r="1.9"/><circle cx="413.5" cy="569.0" r="1.9"/><circle cx="435.3" cy="537.8" r="1.9"/><circle cx="422.9" cy="528.6" r="1.9"/><circle cx="429.0" cy="524.4" r="1.9"/><circle cx="448.9" cy="515.8" r="1.9"/><circle cx="429.4" cy="537.3" r="1.9"/><circle cx="429.7" cy="537.4" r="1.9"/><circle cx="423.7" cy="542.1" r="1.9"/><circle cx="435.3" cy="546.8" r="1.9"/><circle cx="416.4" cy="541.3" r="1.9"/><circle cx="417.6" cy="556.0" r="1.9"/><circle cx="449.2" cy="512.2" r="1.9"/><circle cx="415.3" cy="578.1" r="1.9"/><circle cx="427.2" cy="536.0" r="1.9"/><circle cx="423.8" cy="528.3" r="1.9"/><circle cx="438.6" cy="548.8" r="1.9"/><circle cx="405.5" cy="547.0" r="1.9"/><circle cx="420.4" cy="541.1" r="1.9"/><circle cx="423.3" cy="550.4" r="1.9"/><circle cx="420.1" cy="562.9" r="1.9"/><circle cx="418.6" cy="536.0" r="1.9"/><circle cx="418.8" cy="545.2" r="1.9"/><circle cx="415.3" cy="545.7" r="1.9"/><circle cx="435.0" cy="532.5" r="1.9"/><circle cx="416.1" cy="559.1" r="1.9"/><circle cx="426.1" cy="530.7" r="1.9"/><circle cx="422.5" cy="553.7" r="1.9"/><circle cx="425.7" cy="530.7" r="1.9"/><circle cx="434.6" cy="547.6" r="1.9"/><circle cx="432.8" cy="541.8" r="1.9"/><circle cx="420.4" cy="561.1" r="1.9"/><circle cx="408.7" cy="545.6" r="1.9"/><circle cx="423.5" cy="560.8" r="1.9"/><circle cx="433.1" cy="543.7" r="1.9"/><circle cx="430.8" cy="527.5" r="1.9"/><circle cx="437.2" cy="524.9" r="1.9"/><circle cx="407.5" cy="537.7" r="1.9"/><circle cx="416.5" cy="531.2" r="1.9"/><circle cx="401.8" cy="560.5" r="1.9"/><circle cx="394.0" cy="568.5" r="1.9"/><circle cx="423.7" cy="561.4" r="1.9"/><circle cx="421.3" cy="554.2" r="1.9"/><circle cx="407.5" cy="564.0" r="1.9"/><circle cx="403.9" cy="566.4" r="1.9"/><circle cx="438.6" cy="539.9" r="1.9"/><circle cx="419.8" cy="556.4" r="1.9"/><circle cx="408.5" cy="568.2" r="1.9"/><circle cx="448.1" cy="504.0" r="1.9"/><circle cx="424.8" cy="536.7" r="1.9"/><circle cx="422.7" cy="547.0" r="1.9"/><circle cx="434.7" cy="532.9" r="1.9"/><circle cx="414.0" cy="550.2" r="1.9"/><circle cx="448.0" cy="522.3" r="1.9"/><circle cx="407.2" cy="563.6" r="1.9"/><circle cx="417.6" cy="567.1" r="1.9"/><circle cx="419.7" cy="539.9" r="1.9"/><circle cx="410.4" cy="547.3" r="1.9"/><circle cx="440.3" cy="520.0" r="1.9"/><circle cx="402.5" cy="561.1" r="1.9"/><circle cx="413.9" cy="549.6" r="1.9"/><circle cx="417.1" cy="528.5" r="1.9"/><circle cx="430.6" cy="532.5" r="1.9"/><circle cx="443.9" cy="533.5" r="1.9"/><circle cx="434.4" cy="541.3" r="1.9"/><circle cx="448.2" cy="507.5" r="1.9"/><circle cx="413.3" cy="542.9" r="1.9"/><circle cx="422.9" cy="535.3" r="1.9"/><circle cx="430.9" cy="525.5" r="1.9"/><circle cx="419.8" cy="544.8" r="1.9"/><circle cx="428.7" cy="552.2" r="1.9"/><circle cx="422.6" cy="551.0" r="1.9"/><circle cx="426.1" cy="558.6" r="1.9"/><circle cx="412.7" cy="558.7" r="1.9"/><circle cx="424.8" cy="555.3" r="1.9"/><circle cx="405.0" cy="562.3" r="1.9"/><circle cx="430.2" cy="536.9" r="1.9"/><circle cx="415.0" cy="572.4" r="1.9"/><circle cx="446.3" cy="509.5" r="1.9"/><circle cx="441.6" cy="514.4" r="1.9"/><circle cx="445.4" cy="532.6" r="1.9"/><circle cx="421.2" cy="543.7" r="1.9"/><circle cx="413.6" cy="546.2" r="1.9"/><circle cx="441.2" cy="525.9" r="1.9"/><circle cx="422.3" cy="535.0" r="1.9"/><circle cx="430.5" cy="532.9" r="1.9"/><circle cx="410.1" cy="546.5" r="1.9"/><circle cx="436.7" cy="525.9" r="1.9"/><circle cx="415.5" cy="553.3" r="1.9"/><circle cx="423.2" cy="537.7" r="1.9"/><circle cx="399.1" cy="561.8" r="1.9"/><circle cx="415.1" cy="549.4" r="1.9"/><circle cx="433.0" cy="536.7" r="1.9"/><circle cx="423.1" cy="551.4" r="1.9"/><circle cx="420.9" cy="549.5" r="1.9"/><circle cx="437.2" cy="533.3" r="1.9"/><circle cx="422.5" cy="541.6" r="1.9"/><circle cx="438.9" cy="523.6" r="1.9"/><circle cx="395.1" cy="575.4" r="1.9"/><circle cx="431.5" cy="533.7" r="1.9"/><circle cx="429.8" cy="533.8" r="1.9"/><circle cx="397.3" cy="555.7" r="1.9"/><circle cx="402.2" cy="554.0" r="1.9"/><circle cx="438.3" cy="532.2" r="1.9"/><circle cx="409.1" cy="554.4" r="1.9"/><circle cx="418.3" cy="551.9" r="1.9"/><circle cx="432.4" cy="533.8" r="1.9"/><circle cx="421.7" cy="547.4" r="1.9"/><circle cx="433.6" cy="538.0" r="1.9"/><circle cx="420.9" cy="560.0" r="1.9"/><circle cx="441.0" cy="549.0" r="1.9"/><circle cx="436.8" cy="525.8" r="1.9"/><circle cx="422.3" cy="531.7" r="1.9"/><circle cx="402.2" cy="576.2" r="1.9"/><circle cx="429.9" cy="530.3" r="1.9"/><circle cx="427.2" cy="542.7" r="1.9"/><circle cx="411.9" cy="552.9" r="1.9"/><circle cx="445.8" cy="526.2" r="1.9"/><circle cx="404.2" cy="566.8" r="1.9"/><circle cx="448.2" cy="516.3" r="1.9"/><circle cx="429.1" cy="561.5" r="1.9"/><circle cx="442.8" cy="518.9" r="1.9"/><circle cx="424.6" cy="542.9" r="1.9"/><circle cx="421.0" cy="571.6" r="1.9"/><circle cx="422.3" cy="537.3" r="1.9"/><circle cx="428.7" cy="537.3" r="1.9"/><circle cx="430.1" cy="533.3" r="1.9"/><circle cx="435.7" cy="525.4" r="1.9"/><circle cx="415.6" cy="556.0" r="1.9"/><circle cx="436.2" cy="539.9" r="1.9"/><circle cx="435.9" cy="533.6" r="1.9"/><circle cx="423.4" cy="547.5" r="1.9"/><circle cx="401.4" cy="544.3" r="1.9"/><circle cx="403.1" cy="546.3" r="1.9"/><circle cx="436.3" cy="533.6" r="1.9"/><circle cx="436.5" cy="532.6" r="1.9"/><circle cx="412.6" cy="551.7" r="1.9"/><circle cx="405.0" cy="557.6" r="1.9"/><circle cx="443.4" cy="527.8" r="1.9"/><circle cx="410.6" cy="567.9" r="1.9"/><circle cx="416.4" cy="530.5" r="1.9"/><circle cx="409.0" cy="547.9" r="1.9"/><circle cx="411.0" cy="573.2" r="1.9"/><circle cx="435.3" cy="548.3" r="1.9"/><circle cx="426.5" cy="548.2" r="1.9"/><circle cx="441.1" cy="520.8" r="1.9"/><circle cx="449.6" cy="507.8" r="1.9"/><circle cx="424.0" cy="545.9" r="1.9"/><circle cx="445.6" cy="535.1" r="1.9"/><circle cx="436.2" cy="526.3" r="1.9"/><circle cx="414.9" cy="546.2" r="1.9"/><circle cx="413.8" cy="553.7" r="1.9"/><circle cx="446.9" cy="521.8" r="1.9"/><circle cx="417.0" cy="544.1" r="1.9"/><circle cx="424.5" cy="542.4" r="1.9"/><circle cx="426.8" cy="551.0" r="1.9"/><circle cx="422.4" cy="543.2" r="1.9"/><circle cx="423.9" cy="556.2" r="1.9"/><circle cx="428.7" cy="526.9" r="1.9"/><circle cx="437.5" cy="522.2" r="1.9"/><circle cx="425.1" cy="551.6" r="1.9"/><circle cx="406.4" cy="559.8" r="1.9"/><circle cx="418.6" cy="535.2" r="1.9"/><circle cx="417.5" cy="572.4" r="1.9"/><circle cx="417.4" cy="551.3" r="1.9"/><circle cx="431.0" cy="517.0" r="1.9"/><circle cx="461.3" cy="517.0" r="1.9"/><circle cx="430.0" cy="537.4" r="1.9"/><circle cx="418.9" cy="563.2" r="1.9"/><circle cx="434.5" cy="531.3" r="1.9"/><circle cx="409.5" cy="584.1" r="1.9"/><circle cx="424.5" cy="559.0" r="1.9"/><circle cx="446.1" cy="523.3" r="1.9"/><circle cx="433.0" cy="530.8" r="1.9"/><circle cx="405.5" cy="559.1" r="1.9"/><circle cx="401.8" cy="562.7" r="1.9"/><circle cx="429.0" cy="524.6" r="1.9"/><circle cx="420.2" cy="539.1" r="1.9"/><circle cx="413.3" cy="546.5" r="1.9"/><circle cx="434.8" cy="540.7" r="1.9"/><circle cx="418.3" cy="550.4" r="1.9"/><circle cx="384.0" cy="553.3" r="1.9"/><circle cx="422.5" cy="519.9" r="1.9"/><circle cx="412.2" cy="546.8" r="1.9"/><circle cx="408.3" cy="552.1" r="1.9"/><circle cx="402.9" cy="555.5" r="1.9"/><circle cx="429.7" cy="540.2" r="1.9"/><circle cx="404.2" cy="543.6" r="1.9"/><circle cx="434.2" cy="534.9" r="1.9"/><circle cx="421.7" cy="545.9" r="1.9"/><circle cx="426.3" cy="516.6" r="1.9"/><circle cx="430.8" cy="557.0" r="1.9"/><circle cx="414.5" cy="549.1" r="1.9"/><circle cx="409.4" cy="577.1" r="1.9"/><circle cx="414.4" cy="560.0" r="1.9"/><circle cx="433.9" cy="532.3" r="1.9"/><circle cx="464.0" cy="501.3" r="1.9"/><circle cx="408.2" cy="558.2" r="1.9"/><circle cx="415.8" cy="559.7" r="1.9"/><circle cx="429.2" cy="537.6" r="1.9"/><circle cx="436.7" cy="540.8" r="1.9"/><circle cx="418.2" cy="553.0" r="1.9"/><circle cx="432.9" cy="547.3" r="1.9"/><circle cx="401.2" cy="560.8" r="1.9"/><circle cx="427.7" cy="552.0" r="1.9"/><circle cx="431.9" cy="526.0" r="1.9"/><circle cx="446.8" cy="521.2" r="1.9"/><circle cx="424.1" cy="545.5" r="1.9"/><circle cx="415.0" cy="539.7" r="1.9"/><circle cx="429.5" cy="535.0" r="1.9"/><circle cx="448.2" cy="535.5" r="1.9"/><circle cx="427.9" cy="532.7" r="1.9"/><circle cx="430.7" cy="565.9" r="1.9"/><circle cx="427.5" cy="535.6" r="1.9"/><circle cx="438.6" cy="530.3" r="1.9"/><circle cx="423.2" cy="558.3" r="1.9"/><circle cx="407.7" cy="559.8" r="1.9"/><circle cx="432.4" cy="536.2" r="1.9"/><circle cx="418.3" cy="527.1" r="1.9"/><circle cx="438.8" cy="530.5" r="1.9"/><circle cx="415.3" cy="531.2" r="1.9"/><circle cx="409.2" cy="544.0" r="1.9"/><circle cx="422.4" cy="550.7" r="1.9"/><circle cx="416.2" cy="559.8" r="1.9"/><circle cx="405.8" cy="548.5" r="1.9"/><circle cx="418.4" cy="550.1" r="1.9"/><circle cx="417.7" cy="547.6" r="1.9"/><circle cx="439.6" cy="527.6" r="1.9"/><circle cx="415.9" cy="564.4" r="1.9"/><circle cx="426.0" cy="544.2" r="1.9"/><circle cx="422.5" cy="554.4" r="1.9"/><circle cx="451.1" cy="528.5" r="1.9"/><circle cx="429.4" cy="539.5" r="1.9"/><circle cx="410.4" cy="538.3" r="1.9"/><circle cx="425.9" cy="522.7" r="1.9"/><circle cx="425.7" cy="541.1" r="1.9"/><circle cx="418.0" cy="547.6" r="1.9"/><circle cx="440.7" cy="518.0" r="1.9"/><circle cx="426.1" cy="525.3" r="1.9"/><circle cx="444.2" cy="516.3" r="1.9"/><circle cx="441.4" cy="528.0" r="1.9"/><circle cx="436.2" cy="532.8" r="1.9"/><circle cx="420.2" cy="534.4" r="1.9"/><circle cx="397.3" cy="544.1" r="1.9"/><circle cx="436.7" cy="534.9" r="1.9"/><circle cx="436.5" cy="550.5" r="1.9"/><circle cx="428.6" cy="528.4" r="1.9"/><circle cx="424.9" cy="542.1" r="1.9"/><circle cx="415.4" cy="550.5" r="1.9"/><circle cx="405.6" cy="549.6" r="1.9"/><circle cx="432.9" cy="531.6" r="1.9"/><circle cx="447.7" cy="530.2" r="1.9"/><circle cx="431.7" cy="555.0" r="1.9"/><circle cx="430.5" cy="535.6" r="1.9"/><circle cx="447.9" cy="528.1" r="1.9"/><circle cx="412.8" cy="551.7" r="1.9"/><circle cx="427.3" cy="552.4" r="1.9"/><circle cx="412.8" cy="558.7" r="1.9"/><circle cx="447.1" cy="532.4" r="1.9"/><circle cx="429.8" cy="539.7" r="1.9"/><circle cx="421.4" cy="550.1" r="1.9"/><circle cx="401.1" cy="561.5" r="1.9"/><circle cx="415.2" cy="537.6" r="1.9"/><circle cx="437.9" cy="528.7" r="1.9"/><circle cx="425.7" cy="549.8" r="1.9"/><circle cx="408.9" cy="538.0" r="1.9"/><circle cx="430.6" cy="531.0" r="1.9"/><circle cx="406.2" cy="555.6" r="1.9"/><circle cx="422.1" cy="537.9" r="1.9"/><circle cx="424.2" cy="526.3" r="1.9"/><circle cx="409.7" cy="547.4" r="1.9"/><circle cx="410.9" cy="549.7" r="1.9"/><circle cx="423.6" cy="534.4" r="1.9"/><circle cx="428.1" cy="547.0" r="1.9"/><circle cx="425.1" cy="547.7" r="1.9"/><circle cx="427.8" cy="539.2" r="1.9"/><circle cx="426.9" cy="538.0" r="1.9"/><circle cx="413.2" cy="554.2" r="1.9"/><circle cx="414.9" cy="549.2" r="1.9"/><circle cx="430.1" cy="535.2" r="1.9"/><circle cx="440.8" cy="528.1" r="1.9"/><circle cx="450.1" cy="530.7" r="1.9"/><circle cx="409.8" cy="549.1" r="1.9"/><circle cx="435.0" cy="523.6" r="1.9"/><circle cx="438.8" cy="535.3" r="1.9"/><circle cx="421.7" cy="539.5" r="1.9"/><circle cx="428.6" cy="532.9" r="1.9"/><circle cx="434.5" cy="529.7" r="1.9"/><circle cx="456.6" cy="525.7" r="1.9"/><circle cx="418.3" cy="561.8" r="1.9"/><circle cx="435.4" cy="536.1" r="1.9"/><circle cx="414.3" cy="535.6" r="1.9"/><circle cx="426.8" cy="548.4" r="1.9"/><circle cx="440.7" cy="527.3" r="1.9"/><circle cx="440.8" cy="535.5" r="1.9"/><circle cx="415.0" cy="557.8" r="1.9"/><circle cx="419.4" cy="543.7" r="1.9"/><circle cx="438.8" cy="548.3" r="1.9"/><circle cx="422.7" cy="574.5" r="1.9"/><circle cx="431.8" cy="526.4" r="1.9"/><circle cx="423.7" cy="542.3" r="1.9"/><circle cx="430.0" cy="542.1" r="1.9"/><circle cx="423.7" cy="532.1" r="1.9"/><circle cx="441.7" cy="511.9" r="1.9"/><circle cx="436.6" cy="551.0" r="1.9"/><circle cx="421.3" cy="547.1" r="1.9"/><circle cx="440.1" cy="512.2" r="1.9"/><circle cx="422.3" cy="551.5" r="1.9"/><circle cx="420.1" cy="550.1" r="1.9"/><circle cx="402.7" cy="555.9" r="1.9"/><circle cx="439.5" cy="527.8" r="1.9"/><circle cx="434.6" cy="543.4" r="1.9"/><circle cx="434.3" cy="538.2" r="1.9"/><circle cx="434.0" cy="545.5" r="1.9"/><circle cx="420.2" cy="540.6" r="1.9"/><circle cx="424.5" cy="560.5" r="1.9"/><circle cx="409.8" cy="547.3" r="1.9"/><circle cx="439.0" cy="543.4" r="1.9"/><circle cx="426.1" cy="539.5" r="1.9"/><circle cx="452.7" cy="526.1" r="1.9"/><circle cx="417.2" cy="553.3" r="1.9"/><circle cx="413.3" cy="543.1" r="1.9"/><circle cx="406.3" cy="550.0" r="1.9"/><circle cx="434.7" cy="516.2" r="1.9"/><circle cx="410.2" cy="558.7" r="1.9"/><circle cx="433.7" cy="530.3" r="1.9"/><circle cx="441.2" cy="520.5" r="1.9"/><circle cx="419.8" cy="540.3" r="1.9"/><circle cx="435.9" cy="533.3" r="1.9"/><circle cx="392.9" cy="565.2" r="1.9"/><circle cx="418.4" cy="545.1" r="1.9"/><circle cx="398.4" cy="558.6" r="1.9"/><circle cx="424.4" cy="536.7" r="1.9"/><circle cx="421.3" cy="538.0" r="1.9"/><circle cx="419.4" cy="555.4" r="1.9"/><circle cx="438.7" cy="530.4" r="1.9"/><circle cx="436.2" cy="542.7" r="1.9"/><circle cx="420.1" cy="550.0" r="1.9"/><circle cx="419.5" cy="549.2" r="1.9"/><circle cx="402.4" cy="557.5" r="1.9"/><circle cx="429.4" cy="550.0" r="1.9"/><circle cx="433.3" cy="496.6" r="1.9"/><circle cx="416.8" cy="551.7" r="1.9"/><circle cx="423.2" cy="529.5" r="1.9"/><circle cx="412.5" cy="543.8" r="1.9"/><circle cx="448.3" cy="542.5" r="1.9"/><circle cx="431.7" cy="536.6" r="1.9"/><circle cx="414.1" cy="537.4" r="1.9"/><circle cx="416.2" cy="577.5" r="1.9"/><circle cx="414.4" cy="544.7" r="1.9"/><circle cx="444.5" cy="529.3" r="1.9"/><circle cx="424.4" cy="546.9" r="1.9"/><circle cx="431.4" cy="531.6" r="1.9"/><circle cx="429.1" cy="556.9" r="1.9"/><circle cx="401.0" cy="566.0" r="1.9"/><circle cx="433.6" cy="538.6" r="1.9"/><circle cx="432.8" cy="540.6" r="1.9"/><circle cx="414.0" cy="545.9" r="1.9"/><circle cx="401.4" cy="529.5" r="1.9"/><circle cx="426.6" cy="535.7" r="1.9"/><circle cx="414.6" cy="546.8" r="1.9"/><circle cx="429.4" cy="536.8" r="1.9"/><circle cx="426.3" cy="547.6" r="1.9"/><circle cx="394.7" cy="572.4" r="1.9"/><circle cx="414.9" cy="536.0" r="1.9"/><circle cx="416.6" cy="548.6" r="1.9"/><circle cx="409.9" cy="548.5" r="1.9"/><circle cx="431.1" cy="536.9" r="1.9"/><circle cx="405.3" cy="535.8" r="1.9"/><circle cx="440.4" cy="541.9" r="1.9"/><circle cx="435.1" cy="523.5" r="1.9"/><circle cx="423.7" cy="536.7" r="1.9"/><circle cx="404.5" cy="561.3" r="1.9"/><circle cx="422.0" cy="556.7" r="1.9"/><circle cx="442.2" cy="534.3" r="1.9"/><circle cx="423.0" cy="546.0" r="1.9"/><circle cx="414.5" cy="551.9" r="1.9"/><circle cx="430.4" cy="548.4" r="1.9"/><circle cx="436.9" cy="539.6" r="1.9"/><circle cx="425.1" cy="535.1" r="1.9"/><circle cx="427.3" cy="527.5" r="1.9"/><circle cx="417.9" cy="555.3" r="1.9"/><circle cx="425.4" cy="548.4" r="1.9"/><circle cx="425.8" cy="548.3" r="1.9"/><circle cx="411.3" cy="529.6" r="1.9"/><circle cx="396.7" cy="567.7" r="1.9"/><circle cx="422.4" cy="544.9" r="1.9"/><circle cx="403.1" cy="554.8" r="1.9"/><circle cx="429.6" cy="511.1" r="1.9"/><circle cx="437.7" cy="514.3" r="1.9"/><circle cx="453.3" cy="525.1" r="1.9"/><circle cx="435.4" cy="530.6" r="1.9"/><circle cx="421.2" cy="549.9" r="1.9"/><circle cx="438.6" cy="529.8" r="1.9"/><circle cx="429.1" cy="549.9" r="1.9"/><circle cx="434.6" cy="534.8" r="1.9"/><circle cx="419.8" cy="558.9" r="1.9"/><circle cx="416.0" cy="547.7" r="1.9"/><circle cx="430.5" cy="534.7" r="1.9"/><circle cx="454.4" cy="523.8" r="1.9"/><circle cx="434.0" cy="549.9" r="1.9"/><circle cx="455.2" cy="512.7" r="1.9"/><circle cx="455.2" cy="500.3" r="1.9"/><circle cx="406.7" cy="556.5" r="1.9"/><circle cx="425.1" cy="542.0" r="1.9"/><circle cx="431.3" cy="570.3" r="1.9"/><circle cx="426.0" cy="545.6" r="1.9"/><circle cx="422.5" cy="552.2" r="1.9"/><circle cx="426.0" cy="543.8" r="1.9"/><circle cx="443.5" cy="534.0" r="1.9"/><circle cx="438.9" cy="530.5" r="1.9"/><circle cx="431.8" cy="540.9" r="1.9"/><circle cx="410.4" cy="528.1" r="1.9"/><circle cx="422.7" cy="536.2" r="1.9"/><circle cx="427.7" cy="540.5" r="1.9"/><circle cx="432.3" cy="533.6" r="1.9"/><circle cx="425.8" cy="541.8" r="1.9"/><circle cx="430.2" cy="533.5" r="1.9"/><circle cx="411.2" cy="561.2" r="1.9"/><circle cx="434.9" cy="530.5" r="1.9"/><circle cx="440.9" cy="512.3" r="1.9"/><circle cx="422.8" cy="534.7" r="1.9"/><circle cx="406.1" cy="559.1" r="1.9"/><circle cx="434.4" cy="516.3" r="1.9"/><circle cx="419.8" cy="544.7" r="1.9"/><circle cx="393.8" cy="587.0" r="1.9"/><circle cx="431.9" cy="552.7" r="1.9"/><circle cx="436.3" cy="536.3" r="1.9"/><circle cx="430.1" cy="536.3" r="1.9"/><circle cx="438.1" cy="522.3" r="1.9"/><circle cx="426.8" cy="527.5" r="1.9"/><circle cx="429.7" cy="542.3" r="1.9"/><circle cx="405.3" cy="572.2" r="1.9"/><circle cx="407.3" cy="552.8" r="1.9"/><circle cx="420.9" cy="533.1" r="1.9"/><circle cx="436.0" cy="534.2" r="1.9"/><circle cx="410.7" cy="553.7" r="1.9"/><circle cx="410.2" cy="543.0" r="1.9"/><circle cx="429.1" cy="533.2" r="1.9"/><circle cx="402.0" cy="567.7" r="1.9"/><circle cx="412.5" cy="578.0" r="1.9"/><circle cx="415.1" cy="538.0" r="1.9"/><circle cx="424.7" cy="534.6" r="1.9"/><circle cx="418.6" cy="547.2" r="1.9"/><circle cx="399.5" cy="575.0" r="1.9"/><circle cx="432.1" cy="546.9" r="1.9"/><circle cx="409.4" cy="559.9" r="1.9"/><circle cx="433.7" cy="532.8" r="1.9"/><circle cx="417.9" cy="537.3" r="1.9"/><circle cx="434.9" cy="543.5" r="1.9"/><circle cx="425.1" cy="525.4" r="1.9"/><circle cx="418.5" cy="548.3" r="1.9"/><circle cx="428.8" cy="524.1" r="1.9"/><circle cx="445.6" cy="528.8" r="1.9"/><circle cx="428.1" cy="534.1" r="1.9"/><circle cx="434.8" cy="517.0" r="1.9"/><circle cx="416.8" cy="549.3" r="1.9"/><circle cx="444.3" cy="535.8" r="1.9"/><circle cx="430.2" cy="539.1" r="1.9"/><circle cx="410.1" cy="552.2" r="1.9"/><circle cx="431.7" cy="549.1" r="1.9"/><circle cx="426.4" cy="555.5" r="1.9"/><circle cx="417.1" cy="547.7" r="1.9"/><circle cx="431.3" cy="544.6" r="1.9"/><circle cx="434.4" cy="523.3" r="1.9"/><circle cx="427.6" cy="551.3" r="1.9"/><circle cx="436.6" cy="548.4" r="1.9"/><circle cx="411.3" cy="565.1" r="1.9"/><circle cx="418.3" cy="532.5" r="1.9"/><circle cx="443.9" cy="529.5" r="1.9"/><circle cx="435.1" cy="530.1" r="1.9"/><circle cx="429.6" cy="533.5" r="1.9"/><circle cx="423.8" cy="553.0" r="1.9"/><circle cx="407.3" cy="549.3" r="1.9"/><circle cx="423.0" cy="541.6" r="1.9"/><circle cx="406.3" cy="557.4" r="1.9"/><circle cx="419.1" cy="566.3" r="1.9"/><circle cx="446.1" cy="536.7" r="1.9"/><circle cx="428.8" cy="567.1" r="1.9"/><circle cx="448.1" cy="517.4" r="1.9"/><circle cx="408.8" cy="561.9" r="1.9"/><circle cx="426.5" cy="531.8" r="1.9"/><circle cx="402.7" cy="550.1" r="1.9"/><circle cx="428.6" cy="540.0" r="1.9"/><circle cx="413.8" cy="556.8" r="1.9"/><circle cx="423.2" cy="538.5" r="1.9"/><circle cx="414.9" cy="535.9" r="1.9"/><circle cx="424.0" cy="551.4" r="1.9"/><circle cx="428.0" cy="531.1" r="1.9"/><circle cx="444.9" cy="521.7" r="1.9"/><circle cx="419.7" cy="550.9" r="1.9"/><circle cx="431.5" cy="525.1" r="1.9"/><circle cx="430.4" cy="543.9" r="1.9"/><circle cx="430.5" cy="546.8" r="1.9"/><circle cx="448.4" cy="507.8" r="1.9"/><circle cx="398.6" cy="571.1" r="1.9"/><circle cx="418.2" cy="551.8" r="1.9"/><circle cx="403.6" cy="566.7" r="1.9"/><circle cx="418.6" cy="543.1" r="1.9"/><circle cx="424.3" cy="546.1" r="1.9"/><circle cx="467.7" cy="485.1" r="1.9"/><circle cx="427.1" cy="534.4" r="1.9"/><circle cx="439.1" cy="509.3" r="1.9"/><circle cx="434.2" cy="517.2" r="1.9"/><circle cx="415.1" cy="543.1" r="1.9"/><circle cx="432.1" cy="535.6" r="1.9"/><circle cx="444.9" cy="517.7" r="1.9"/><circle cx="430.4" cy="541.7" r="1.9"/><circle cx="412.2" cy="524.5" r="1.9"/><circle cx="432.5" cy="535.3" r="1.9"/><circle cx="403.6" cy="559.2" r="1.9"/><circle cx="407.8" cy="545.8" r="1.9"/><circle cx="436.6" cy="543.1" r="1.9"/><circle cx="436.2" cy="537.7" r="1.9"/><circle cx="416.0" cy="555.7" r="1.9"/><circle cx="426.5" cy="550.4" r="1.9"/><circle cx="430.4" cy="549.0" r="1.9"/><circle cx="426.0" cy="545.8" r="1.9"/><circle cx="426.6" cy="525.4" r="1.9"/><circle cx="422.5" cy="536.2" r="1.9"/><circle cx="426.9" cy="538.7" r="1.9"/><circle cx="407.6" cy="560.5" r="1.9"/><circle cx="421.1" cy="563.7" r="1.9"/><circle cx="425.2" cy="533.4" r="1.9"/><circle cx="403.2" cy="561.1" r="1.9"/><circle cx="434.2" cy="542.7" r="1.9"/><circle cx="415.8" cy="549.3" r="1.9"/><circle cx="416.1" cy="553.3" r="1.9"/><circle cx="435.8" cy="534.8" r="1.9"/><circle cx="422.1" cy="555.3" r="1.9"/><circle cx="418.2" cy="556.3" r="1.9"/><circle cx="421.8" cy="555.1" r="1.9"/><circle cx="423.2" cy="538.2" r="1.9"/><circle cx="456.8" cy="501.6" r="1.9"/><circle cx="397.3" cy="568.8" r="1.9"/><circle cx="425.8" cy="542.4" r="1.9"/><circle cx="424.2" cy="546.5" r="1.9"/><circle cx="425.6" cy="518.3" r="1.9"/><circle cx="430.5" cy="555.3" r="1.9"/><circle cx="388.2" cy="569.5" r="1.9"/><circle cx="439.3" cy="521.3" r="1.9"/><circle cx="411.2" cy="555.9" r="1.9"/><circle cx="427.0" cy="544.6" r="1.9"/><circle cx="409.3" cy="561.2" r="1.9"/><circle cx="417.9" cy="562.1" r="1.9"/><circle cx="426.3" cy="554.8" r="1.9"/><circle cx="436.1" cy="530.0" r="1.9"/><circle cx="444.2" cy="537.7" r="1.9"/><circle cx="413.0" cy="545.5" r="1.9"/><circle cx="425.1" cy="529.0" r="1.9"/><circle cx="438.9" cy="563.1" r="1.9"/><circle cx="434.7" cy="547.3" r="1.9"/><circle cx="425.3" cy="537.9" r="1.9"/><circle cx="431.4" cy="531.8" r="1.9"/><circle cx="416.7" cy="549.3" r="1.9"/><circle cx="421.0" cy="541.1" r="1.9"/><circle cx="423.5" cy="534.7" r="1.9"/><circle cx="421.3" cy="535.9" r="1.9"/><circle cx="405.4" cy="543.7" r="1.9"/><circle cx="445.9" cy="517.5" r="1.9"/><circle cx="414.5" cy="543.5" r="1.9"/><circle cx="442.9" cy="538.8" r="1.9"/><circle cx="428.1" cy="539.2" r="1.9"/><circle cx="446.5" cy="530.4" r="1.9"/><circle cx="390.5" cy="564.7" r="1.9"/><circle cx="437.4" cy="501.8" r="1.9"/><circle cx="419.3" cy="541.7" r="1.9"/><circle cx="416.7" cy="564.6" r="1.9"/><circle cx="427.0" cy="540.1" r="1.9"/><circle cx="452.4" cy="510.1" r="1.9"/><circle cx="430.0" cy="533.4" r="1.9"/><circle cx="403.8" cy="553.1" r="1.9"/><circle cx="414.0" cy="543.1" r="1.9"/><circle cx="455.6" cy="535.8" r="1.9"/><circle cx="400.2" cy="554.1" r="1.9"/><circle cx="425.3" cy="546.3" r="1.9"/><circle cx="424.2" cy="548.1" r="1.9"/><circle cx="443.8" cy="504.7" r="1.9"/><circle cx="422.7" cy="546.7" r="1.9"/><circle cx="448.4" cy="529.9" r="1.9"/><circle cx="423.6" cy="557.1" r="1.9"/><circle cx="414.6" cy="552.2" r="1.9"/><circle cx="432.2" cy="523.2" r="1.9"/><circle cx="424.3" cy="525.5" r="1.9"/><circle cx="404.5" cy="566.0" r="1.9"/><circle cx="435.2" cy="534.8" r="1.9"/><circle cx="419.0" cy="512.7" r="1.9"/><circle cx="418.4" cy="558.8" r="1.9"/><circle cx="413.0" cy="523.1" r="1.9"/><circle cx="427.2" cy="533.9" r="1.9"/><circle cx="413.2" cy="549.5" r="1.9"/><circle cx="416.5" cy="556.1" r="1.9"/><circle cx="409.1" cy="552.7" r="1.9"/><circle cx="424.7" cy="551.8" r="1.9"/><circle cx="407.5" cy="575.8" r="1.9"/><circle cx="425.4" cy="543.9" r="1.9"/><circle cx="404.2" cy="578.9" r="1.9"/><circle cx="422.8" cy="537.3" r="1.9"/><circle cx="422.2" cy="542.7" r="1.9"/><circle cx="408.4" cy="565.7" r="1.9"/><circle cx="442.6" cy="526.1" r="1.9"/><circle cx="462.9" cy="503.9" r="1.9"/><circle cx="430.3" cy="497.6" r="1.9"/><circle cx="399.6" cy="570.1" r="1.9"/><circle cx="454.6" cy="521.2" r="1.9"/><circle cx="431.9" cy="540.1" r="1.9"/><circle cx="416.5" cy="536.5" r="1.9"/><circle cx="415.9" cy="556.0" r="1.9"/><circle cx="426.2" cy="543.4" r="1.9"/><circle cx="453.0" cy="515.6" r="1.9"/><circle cx="432.9" cy="528.9" r="1.9"/><circle cx="412.8" cy="546.6" r="1.9"/><circle cx="407.5" cy="551.3" r="1.9"/><circle cx="434.7" cy="566.2" r="1.9"/><circle cx="447.0" cy="540.0" r="1.9"/><circle cx="487.5" cy="528.6" r="1.9"/><circle cx="396.5" cy="555.9" r="1.9"/><circle cx="412.7" cy="531.1" r="1.9"/><circle cx="403.5" cy="537.2" r="1.9"/><circle cx="409.2" cy="556.0" r="1.9"/><circle cx="419.6" cy="522.5" r="1.9"/><circle cx="435.2" cy="530.8" r="1.9"/><circle cx="399.9" cy="572.2" r="1.9"/><circle cx="422.2" cy="578.1" r="1.9"/><circle cx="455.1" cy="524.7" r="1.9"/><circle cx="436.9" cy="541.0" r="1.9"/><circle cx="424.4" cy="522.2" r="1.9"/><circle cx="397.5" cy="536.1" r="1.9"/><circle cx="422.7" cy="554.2" r="1.9"/><circle cx="429.1" cy="528.7" r="1.9"/><circle cx="412.5" cy="549.4" r="1.9"/><circle cx="412.6" cy="572.2" r="1.9"/><circle cx="443.3" cy="558.4" r="1.9"/><circle cx="449.5" cy="530.4" r="1.9"/><circle cx="421.2" cy="576.9" r="1.9"/><circle cx="447.5" cy="523.0" r="1.9"/><circle cx="439.1" cy="528.7" r="1.9"/><circle cx="410.8" cy="561.3" r="1.9"/><circle cx="426.6" cy="543.3" r="1.9"/><circle cx="418.7" cy="538.0" r="1.9"/><circle cx="446.4" cy="537.7" r="1.9"/><circle cx="427.4" cy="519.5" r="1.9"/><circle cx="418.8" cy="584.8" r="1.9"/><circle cx="399.2" cy="569.0" r="1.9"/><circle cx="439.4" cy="516.8" r="1.9"/><circle cx="435.3" cy="547.1" r="1.9"/><circle cx="449.6" cy="548.6" r="1.9"/><circle cx="423.9" cy="528.8" r="1.9"/><circle cx="460.1" cy="516.8" r="1.9"/><circle cx="394.1" cy="559.1" r="1.9"/><circle cx="436.4" cy="512.0" r="1.9"/><circle cx="409.7" cy="558.7" r="1.9"/><circle cx="438.1" cy="526.8" r="1.9"/><circle cx="438.7" cy="504.7" r="1.9"/><circle cx="395.2" cy="566.7" r="1.9"/><circle cx="442.2" cy="542.5" r="1.9"/><circle cx="417.8" cy="545.9" r="1.9"/><circle cx="413.4" cy="542.5" r="1.9"/><circle cx="423.3" cy="539.0" r="1.9"/><circle cx="403.3" cy="561.7" r="1.9"/><circle cx="408.6" cy="563.1" r="1.9"/><circle cx="438.1" cy="529.4" r="1.9"/><circle cx="450.3" cy="533.4" r="1.9"/><circle cx="429.7" cy="567.3" r="1.9"/><circle cx="385.9" cy="560.9" r="1.9"/><circle cx="474.1" cy="500.3" r="1.9"/><circle cx="442.5" cy="517.1" r="1.9"/><circle cx="447.5" cy="548.9" r="1.9"/><circle cx="404.1" cy="561.5" r="1.9"/><circle cx="422.9" cy="561.8" r="1.9"/><circle cx="397.2" cy="508.3" r="1.9"/><circle cx="418.1" cy="571.4" r="1.9"/><circle cx="464.5" cy="518.2" r="1.9"/><circle cx="417.1" cy="529.9" r="1.9"/><circle cx="419.7" cy="522.8" r="1.9"/><circle cx="428.5" cy="583.2" r="1.9"/><circle cx="405.3" cy="558.0" r="1.9"/><circle cx="400.8" cy="549.6" r="1.9"/><circle cx="442.9" cy="547.9" r="1.9"/><circle cx="412.5" cy="540.7" r="1.9"/><circle cx="425.1" cy="552.8" r="1.9"/><circle cx="441.2" cy="545.0" r="1.9"/><circle cx="432.6" cy="540.6" r="1.9"/><circle cx="456.8" cy="515.8" r="1.9"/><circle cx="436.1" cy="559.2" r="1.9"/><circle cx="382.1" cy="541.1" r="1.9"/><circle cx="429.4" cy="546.4" r="1.9"/><circle cx="459.5" cy="519.0" r="1.9"/><circle cx="405.4" cy="545.0" r="1.9"/><circle cx="426.4" cy="541.5" r="1.9"/><circle cx="403.9" cy="536.4" r="1.9"/><circle cx="435.0" cy="536.1" r="1.9"/><circle cx="425.6" cy="533.2" r="1.9"/><circle cx="408.9" cy="557.6" r="1.9"/><circle cx="418.8" cy="544.9" r="1.9"/><circle cx="444.2" cy="524.5" r="1.9"/><circle cx="445.9" cy="520.4" r="1.9"/><circle cx="423.6" cy="506.8" r="1.9"/><circle cx="447.8" cy="530.7" r="1.9"/><circle cx="424.5" cy="553.9" r="1.9"/><circle cx="421.8" cy="552.6" r="1.9"/><circle cx="435.6" cy="517.3" r="1.9"/><circle cx="399.0" cy="562.0" r="1.9"/><circle cx="413.6" cy="534.0" r="1.9"/><circle cx="405.2" cy="592.7" r="1.9"/><circle cx="415.0" cy="547.1" r="1.9"/><circle cx="413.7" cy="558.0" r="1.9"/><circle cx="405.8" cy="569.2" r="1.9"/><circle cx="433.6" cy="528.4" r="1.9"/><circle cx="432.4" cy="575.7" r="1.9"/><circle cx="415.1" cy="546.7" r="1.9"/><circle cx="418.5" cy="545.7" r="1.9"/><circle cx="426.6" cy="570.6" r="1.9"/><circle cx="451.7" cy="513.6" r="1.9"/><circle cx="399.1" cy="537.1" r="1.9"/><circle cx="432.5" cy="541.5" r="1.9"/><circle cx="394.6" cy="562.8" r="1.9"/><circle cx="418.5" cy="553.6" r="1.9"/><circle cx="427.5" cy="556.2" r="1.9"/><circle cx="429.0" cy="556.9" r="1.9"/><circle cx="418.4" cy="557.6" r="1.9"/><circle cx="413.4" cy="526.4" r="1.9"/><circle cx="444.4" cy="502.1" r="1.9"/><circle cx="429.9" cy="551.3" r="1.9"/><circle cx="411.5" cy="535.1" r="1.9"/><circle cx="419.0" cy="551.0" r="1.9"/><circle cx="478.4" cy="496.6" r="1.9"/><circle cx="449.6" cy="504.7" r="1.9"/><circle cx="444.7" cy="539.1" r="1.9"/><circle cx="454.4" cy="542.4" r="1.9"/><circle cx="398.0" cy="543.9" r="1.9"/><circle cx="441.5" cy="562.4" r="1.9"/><circle cx="422.8" cy="532.3" r="1.9"/><circle cx="443.3" cy="553.9" r="1.9"/><circle cx="409.5" cy="559.6" r="1.9"/><circle cx="412.7" cy="559.6" r="1.9"/><circle cx="438.9" cy="535.5" r="1.9"/><circle cx="453.8" cy="556.3" r="1.9"/><circle cx="387.5" cy="585.9" r="1.9"/><circle cx="426.8" cy="540.2" r="1.9"/><circle cx="457.5" cy="524.4" r="1.9"/><circle cx="413.7" cy="555.6" r="1.9"/><circle cx="418.5" cy="527.4" r="1.9"/><circle cx="406.0" cy="578.3" r="1.9"/><circle cx="437.2" cy="522.3" r="1.9"/><circle cx="416.8" cy="575.5" r="1.9"/><circle cx="397.9" cy="563.7" r="1.9"/><circle cx="412.2" cy="542.1" r="1.9"/><circle cx="441.4" cy="469.7" r="1.9"/><circle cx="404.0" cy="545.6" r="1.9"/><circle cx="397.2" cy="563.4" r="1.9"/><circle cx="418.1" cy="518.9" r="1.9"/><circle cx="439.5" cy="546.5" r="1.9"/><circle cx="443.5" cy="497.7" r="1.9"/><circle cx="407.5" cy="572.8" r="1.9"/><circle cx="402.3" cy="580.2" r="1.9"/><circle cx="407.3" cy="537.7" r="1.9"/><circle cx="429.1" cy="531.8" r="1.9"/><circle cx="417.1" cy="521.8" r="1.9"/><circle cx="459.9" cy="533.4" r="1.9"/><circle cx="394.6" cy="569.6" r="1.9"/><circle cx="415.3" cy="563.6" r="1.9"/><circle cx="425.2" cy="547.0" r="1.9"/><circle cx="460.3" cy="542.7" r="1.9"/><circle cx="423.4" cy="523.1" r="1.9"/><circle cx="414.8" cy="548.3" r="1.9"/><circle cx="416.6" cy="571.9" r="1.9"/><circle cx="455.1" cy="536.5" r="1.9"/><circle cx="451.3" cy="530.6" r="1.9"/><circle cx="459.2" cy="473.0" r="1.9"/><circle cx="422.5" cy="546.3" r="1.9"/><circle cx="457.8" cy="511.7" r="1.9"/><circle cx="397.4" cy="561.6" r="1.9"/><circle cx="414.7" cy="552.6" r="1.9"/><circle cx="409.9" cy="553.3" r="1.9"/><circle cx="408.3" cy="544.0" r="1.9"/><circle cx="405.2" cy="556.4" r="1.9"/><circle cx="405.4" cy="544.4" r="1.9"/><circle cx="436.4" cy="554.1" r="1.9"/><circle cx="415.8" cy="550.2" r="1.9"/><circle cx="440.4" cy="531.5" r="1.9"/><circle cx="422.0" cy="542.3" r="1.9"/><circle cx="425.0" cy="542.0" r="1.9"/><circle cx="458.2" cy="517.6" r="1.9"/><circle cx="434.1" cy="538.5" r="1.9"/><circle cx="417.4" cy="529.4" r="1.9"/><circle cx="430.1" cy="547.2" r="1.9"/><circle cx="439.0" cy="552.1" r="1.9"/><circle cx="428.7" cy="524.2" r="1.9"/><circle cx="399.7" cy="548.7" r="1.9"/><circle cx="448.3" cy="520.8" r="1.9"/><circle cx="451.8" cy="508.3" r="1.9"/><circle cx="454.5" cy="526.0" r="1.9"/><circle cx="417.8" cy="553.5" r="1.9"/><circle cx="383.9" cy="563.5" r="1.9"/><circle cx="408.1" cy="542.8" r="1.9"/><circle cx="425.8" cy="537.0" r="1.9"/><circle cx="442.5" cy="527.2" r="1.9"/><circle cx="438.5" cy="560.7" r="1.9"/><circle cx="415.7" cy="544.7" r="1.9"/><circle cx="447.4" cy="506.2" r="1.9"/><circle cx="401.2" cy="545.2" r="1.9"/><circle cx="422.6" cy="500.7" r="1.9"/><circle cx="437.0" cy="519.5" r="1.9"/><circle cx="390.2" cy="559.5" r="1.9"/><circle cx="441.4" cy="546.4" r="1.9"/><circle cx="478.7" cy="480.0" r="1.9"/><circle cx="480.5" cy="497.0" r="1.9"/><circle cx="383.0" cy="538.5" r="1.9"/><circle cx="363.1" cy="603.5" r="1.9"/><circle cx="389.1" cy="601.7" r="1.9"/><circle cx="377.6" cy="571.0" r="1.9"/><circle cx="381.2" cy="584.4" r="1.9"/></g>
<line x1="327.5" y1="638.5" x2="513.3" y2="452.5" stroke="#cf4b45" stroke-width="0.8" />
<text x="64" y="676.9" font-size="10.8" fill="#231f20">Ratio reads 10-400/401-800 + N (log<tspan font-size="10.8" dy="3.5">10</tspan><tspan dy="-3.5">)</tspan></text>
<text x="328.4" y="676.9" font-size="10.8" fill="#231f20">Ratio reads 10-400/401-800 + N (log<tspan font-size="10.8" dy="3.5">10</tspan><tspan dy="-3.5">)</tspan></text>
<text transform="translate(30.6,641.7) rotate(-90)" font-size="10.8" fill="#231f20">Ratio reads 10-400/401-800 – N (log<tspan dy="3.5">10</tspan><tspan dy="-3.5">)</tspan></text>
</svg>
</body></html>
